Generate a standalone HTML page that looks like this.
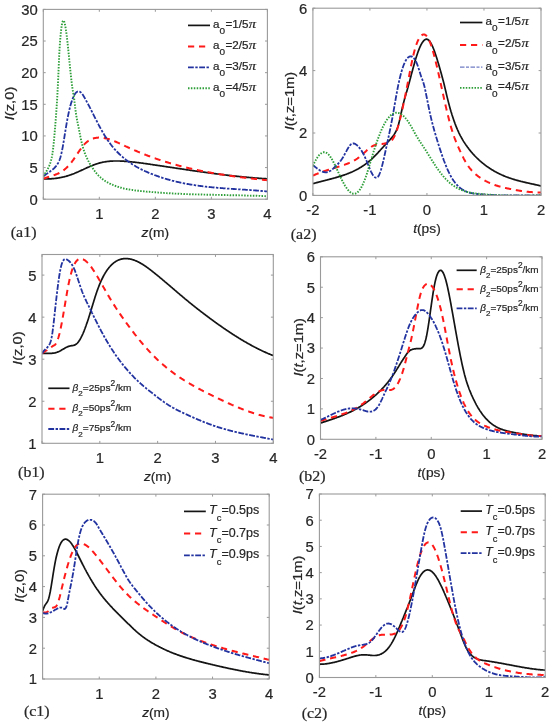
<!DOCTYPE html>
<html><head><meta charset="utf-8"><title>figure</title>
<style>html,body{margin:0;padding:0;background:#fff;width:550px;height:727px;overflow:hidden}</style>
</head><body>
<svg width="550" height="727" viewBox="0 0 550 727" style="display:block;filter:blur(0.35px)">
<rect width="550" height="727" fill="#fff"/>
<clipPath id="clip_a1"><rect x="43.30" y="8.40" width="224.10" height="190.80"/></clipPath>
<g clip-path="url(#clip_a1)">
<path d="M43.3,178.9 43.8,179.0 44.3,179.0 44.8,179.0 45.3,179.0 45.8,179.0 46.3,179.0 46.8,179.0 47.3,179.0 47.8,178.9 48.3,178.9 48.8,178.9 49.3,178.9 49.8,178.9 50.3,178.8 50.8,178.8 51.3,178.8 51.8,178.7 52.3,178.7 52.8,178.7 53.3,178.6 53.8,178.6 54.3,178.5 54.8,178.5 55.3,178.4 55.8,178.3 56.3,178.3 56.8,178.2 57.3,178.1 57.8,178.1 58.3,178.0 58.8,177.9 59.3,177.8 59.8,177.7 60.3,177.6 60.8,177.5 61.3,177.4 61.8,177.3 62.3,177.2 62.8,177.1 63.3,177.0 63.8,176.9 64.3,176.8 64.8,176.6 65.3,176.5 65.8,176.4 66.3,176.2 66.8,176.1 67.3,175.9 67.8,175.8 68.3,175.6 68.8,175.5 69.3,175.3 69.8,175.1 70.3,175.0 70.8,174.8 71.3,174.6 71.8,174.4 72.3,174.2 72.8,174.0 73.3,173.9 73.8,173.7 74.3,173.5 74.8,173.2 75.3,173.0 75.8,172.8 76.3,172.6 76.8,172.4 77.3,172.2 77.8,172.0 78.3,171.7 78.8,171.5 79.3,171.3 79.8,171.1 80.3,170.8 80.8,170.6 81.3,170.4 81.8,170.1 82.3,169.9 82.8,169.7 83.3,169.5 83.8,169.2 84.3,169.0 84.8,168.8 85.3,168.5 85.8,168.3 86.3,168.1 86.8,167.8 87.3,167.6 87.8,167.4 88.3,167.2 88.8,167.0 89.3,166.7 89.8,166.5 90.3,166.3 90.8,166.1 91.3,165.9 91.8,165.7 92.3,165.5 92.8,165.3 93.3,165.1 93.8,164.9 94.3,164.7 94.8,164.5 95.3,164.3 95.8,164.2 96.3,164.0 96.8,163.8 97.3,163.7 97.8,163.5 98.3,163.4 98.8,163.2 99.3,163.1 99.8,162.9 100.3,162.8 100.8,162.7 101.3,162.6 101.8,162.5 102.3,162.3 102.8,162.2 103.3,162.1 103.8,162.0 104.3,162.0 104.8,161.9 105.3,161.8 105.8,161.7 106.3,161.6 106.8,161.6 107.3,161.5 107.8,161.4 108.3,161.4 108.8,161.3 109.3,161.3 109.8,161.2 110.3,161.2 110.8,161.2 111.3,161.1 111.8,161.1 112.3,161.1 112.8,161.1 113.3,161.0 113.8,161.0 114.3,161.0 114.8,161.0 115.3,161.0 115.8,161.0 116.3,161.0 116.8,161.0 117.3,161.0 117.8,161.0 118.3,161.0 118.8,161.0 119.3,161.0 119.8,161.0 120.3,161.1 120.8,161.1 121.3,161.1 121.8,161.1 122.3,161.1 122.8,161.2 123.3,161.2 123.8,161.2 124.3,161.3 124.8,161.3 125.3,161.3 125.8,161.4 126.3,161.4 126.8,161.5 127.3,161.5 127.8,161.5 128.3,161.6 128.8,161.6 129.3,161.7 129.8,161.7 130.3,161.8 130.8,161.8 131.3,161.9 131.8,161.9 132.3,162.0 132.8,162.0 133.3,162.1 133.8,162.1 134.3,162.2 134.8,162.2 135.3,162.3 135.8,162.4 136.3,162.4 136.8,162.5 137.3,162.5 137.8,162.6 138.3,162.7 138.8,162.7 139.3,162.8 139.8,162.8 140.3,162.9 140.8,163.0 141.3,163.0 141.8,163.1 142.3,163.2 142.8,163.2 143.3,163.3 143.8,163.4 144.3,163.5 144.8,163.5 145.3,163.6 145.8,163.7 146.3,163.7 146.8,163.8 147.3,163.9 147.8,163.9 148.3,164.0 148.8,164.1 149.3,164.2 149.8,164.2 150.3,164.3 150.8,164.4 151.3,164.5 151.8,164.5 152.3,164.6 152.8,164.7 153.3,164.8 153.8,164.8 154.3,164.9 154.8,165.0 155.3,165.1 155.8,165.1 156.3,165.2 156.8,165.3 157.3,165.4 157.8,165.4 158.3,165.5 158.8,165.6 159.3,165.6 159.8,165.7 160.3,165.8 160.8,165.9 161.3,165.9 161.8,166.0 162.3,166.1 162.8,166.2 163.3,166.2 163.8,166.3 164.3,166.4 164.8,166.5 165.3,166.5 165.8,166.6 166.3,166.7 166.8,166.8 167.3,166.8 167.8,166.9 168.3,167.0 168.8,167.1 169.3,167.1 169.8,167.2 170.3,167.3 170.8,167.4 171.3,167.4 171.8,167.5 172.3,167.6 172.8,167.7 173.3,167.7 173.8,167.8 174.3,167.9 174.8,168.0 175.3,168.0 175.8,168.1 176.3,168.2 176.8,168.3 177.3,168.3 177.8,168.4 178.3,168.5 178.8,168.6 179.3,168.6 179.8,168.7 180.3,168.8 180.8,168.9 181.3,168.9 181.8,169.0 182.3,169.1 182.8,169.2 183.3,169.2 183.8,169.3 184.3,169.4 184.8,169.5 185.3,169.5 185.8,169.6 186.3,169.7 186.8,169.8 187.3,169.8 187.8,169.9 188.3,170.0 188.8,170.0 189.3,170.1 189.8,170.2 190.3,170.3 190.8,170.3 191.3,170.4 191.8,170.5 192.3,170.6 192.8,170.6 193.3,170.7 193.8,170.8 194.3,170.8 194.8,170.9 195.3,171.0 195.8,171.1 196.3,171.1 196.8,171.2 197.3,171.3 197.8,171.3 198.3,171.4 198.8,171.5 199.3,171.5 199.8,171.6 200.3,171.7 200.8,171.8 201.3,171.8 201.8,171.9 202.3,172.0 202.8,172.0 203.3,172.1 203.8,172.2 204.3,172.2 204.8,172.3 205.3,172.4 205.8,172.4 206.3,172.5 206.8,172.6 207.3,172.7 207.8,172.7 208.3,172.8 208.8,172.9 209.3,172.9 209.8,173.0 210.3,173.1 210.8,173.1 211.3,173.2 211.8,173.3 212.3,173.3 212.8,173.4 213.3,173.5 213.8,173.5 214.3,173.6 214.8,173.6 215.3,173.7 215.8,173.8 216.3,173.8 216.8,173.9 217.3,174.0 217.8,174.0 218.3,174.1 218.8,174.2 219.3,174.2 219.8,174.3 220.3,174.3 220.8,174.4 221.3,174.5 221.8,174.5 222.3,174.6 222.8,174.7 223.3,174.7 223.8,174.8 224.3,174.8 224.8,174.9 225.3,175.0 225.8,175.0 226.3,175.1 226.8,175.1 227.3,175.2 227.8,175.3 228.3,175.3 228.8,175.4 229.3,175.4 229.8,175.5 230.3,175.5 230.8,175.6 231.3,175.7 231.8,175.7 232.3,175.8 232.8,175.8 233.3,175.9 233.8,175.9 234.3,176.0 234.8,176.0 235.3,176.1 235.8,176.2 236.3,176.2 236.8,176.3 237.3,176.3 237.8,176.4 238.3,176.4 238.8,176.5 239.3,176.5 239.8,176.6 240.3,176.6 240.8,176.7 241.3,176.7 241.8,176.8 242.3,176.8 242.8,176.9 243.3,176.9 243.8,177.0 244.3,177.0 244.8,177.1 245.3,177.1 245.8,177.2 246.3,177.2 246.8,177.3 247.3,177.3 247.8,177.3 248.3,177.4 248.8,177.4 249.3,177.5 249.8,177.5 250.3,177.6 250.8,177.6 251.3,177.7 251.8,177.7 252.3,177.7 252.8,177.8 253.3,177.8 253.8,177.9 254.3,177.9 254.8,178.0 255.3,178.0 255.8,178.0 256.3,178.1 256.8,178.1 257.3,178.2 257.8,178.2 258.3,178.2 258.8,178.3 259.3,178.3 259.8,178.3 260.3,178.4 260.8,178.4 261.3,178.4 261.8,178.5 262.3,178.5 262.8,178.5 263.3,178.6 263.8,178.6 264.3,178.6 264.8,178.7 265.3,178.7 265.8,178.7 266.3,178.8 266.8,178.8 267.3,178.8 267.4,178.8" fill="none" stroke="#141414" stroke-width="1.70" stroke-linejoin="round"/>
<path d="M43.3,178.9 43.8,178.7 44.3,178.5 44.8,178.2 45.3,178.0 45.8,177.8 46.3,177.6 46.8,177.4 47.3,177.3 47.8,177.1 48.3,176.9 48.8,176.8 49.3,176.6 49.8,176.5 50.3,176.3 50.8,176.2 51.3,176.0 51.8,175.8 52.3,175.7 52.8,175.5 53.3,175.4 53.8,175.2 54.3,175.1 54.8,174.9 55.3,174.7 55.8,174.5 56.3,174.3 56.8,174.1 57.3,173.9 57.8,173.7 58.3,173.5 58.8,173.2 59.3,173.0 59.8,172.7 60.3,172.4 60.8,172.1 61.3,171.8 61.8,171.5 62.3,171.2 62.8,170.8 63.3,170.5 63.8,170.1 64.3,169.7 64.8,169.3 65.3,168.9 65.8,168.4 66.3,168.0 66.8,167.5 67.3,167.0 67.8,166.5 68.3,166.0 68.8,165.5 69.3,164.9 69.8,164.3 70.3,163.7 70.8,163.1 71.3,162.5 71.8,161.9 72.3,161.2 72.8,160.5 73.3,159.8 73.8,159.1 74.3,158.4 74.8,157.6 75.3,156.9 75.8,156.1 76.3,155.4 76.8,154.7 77.3,153.9 77.8,153.2 78.3,152.4 78.8,151.7 79.3,150.9 79.8,150.2 80.3,149.5 80.8,148.8 81.3,148.1 81.8,147.5 82.3,146.8 82.8,146.2 83.3,145.6 83.8,145.0 84.3,144.4 84.8,143.9 85.3,143.4 85.8,142.9 86.3,142.5 86.8,142.0 87.3,141.6 87.8,141.3 88.3,140.9 88.8,140.6 89.3,140.2 89.8,140.0 90.3,139.7 90.8,139.4 91.3,139.2 91.8,139.0 92.3,138.8 92.8,138.6 93.3,138.5 93.8,138.3 94.3,138.2 94.8,138.1 95.3,138.0 95.8,137.9 96.3,137.8 96.8,137.8 97.3,137.7 97.8,137.7 98.3,137.6 98.8,137.6 99.3,137.6 99.8,137.6 100.3,137.6 100.8,137.7 101.3,137.7 101.8,137.7 102.3,137.8 102.8,137.9 103.3,137.9 103.8,138.0 104.3,138.1 104.8,138.2 105.3,138.3 105.8,138.4 106.3,138.5 106.8,138.6 107.3,138.8 107.8,138.9 108.3,139.0 108.8,139.2 109.3,139.3 109.8,139.5 110.3,139.7 110.8,139.8 111.3,140.0 111.8,140.2 112.3,140.4 112.8,140.6 113.3,140.7 113.8,140.9 114.3,141.1 114.8,141.3 115.3,141.6 115.8,141.8 116.3,142.0 116.8,142.2 117.3,142.4 117.8,142.6 118.3,142.9 118.8,143.1 119.3,143.3 119.8,143.6 120.3,143.8 120.8,144.0 121.3,144.2 121.8,144.5 122.3,144.7 122.8,145.0 123.3,145.2 123.8,145.4 124.3,145.7 124.8,145.9 125.3,146.1 125.8,146.4 126.3,146.6 126.8,146.8 127.3,147.0 127.8,147.3 128.3,147.5 128.8,147.7 129.3,148.0 129.8,148.2 130.3,148.4 130.8,148.6 131.3,148.9 131.8,149.1 132.3,149.3 132.8,149.5 133.3,149.7 133.8,150.0 134.3,150.2 134.8,150.4 135.3,150.6 135.8,150.8 136.3,151.0 136.8,151.2 137.3,151.4 137.8,151.7 138.3,151.9 138.8,152.1 139.3,152.3 139.8,152.5 140.3,152.7 140.8,152.9 141.3,153.1 141.8,153.3 142.3,153.5 142.8,153.7 143.3,153.9 143.8,154.1 144.3,154.3 144.8,154.5 145.3,154.7 145.8,154.9 146.3,155.1 146.8,155.3 147.3,155.5 147.8,155.7 148.3,155.9 148.8,156.0 149.3,156.2 149.8,156.4 150.3,156.6 150.8,156.8 151.3,157.0 151.8,157.2 152.3,157.3 152.8,157.5 153.3,157.7 153.8,157.9 154.3,158.1 154.8,158.2 155.3,158.4 155.8,158.6 156.3,158.8 156.8,158.9 157.3,159.1 157.8,159.3 158.3,159.4 158.8,159.6 159.3,159.8 159.8,159.9 160.3,160.1 160.8,160.3 161.3,160.4 161.8,160.6 162.3,160.8 162.8,160.9 163.3,161.1 163.8,161.2 164.3,161.4 164.8,161.6 165.3,161.7 165.8,161.9 166.3,162.0 166.8,162.2 167.3,162.3 167.8,162.5 168.3,162.6 168.8,162.8 169.3,162.9 169.8,163.1 170.3,163.2 170.8,163.4 171.3,163.5 171.8,163.7 172.3,163.8 172.8,164.0 173.3,164.1 173.8,164.3 174.3,164.4 174.8,164.5 175.3,164.7 175.8,164.8 176.3,165.0 176.8,165.1 177.3,165.2 177.8,165.4 178.3,165.5 178.8,165.6 179.3,165.8 179.8,165.9 180.3,166.0 180.8,166.2 181.3,166.3 181.8,166.4 182.3,166.5 182.8,166.7 183.3,166.8 183.8,166.9 184.3,167.0 184.8,167.2 185.3,167.3 185.8,167.4 186.3,167.5 186.8,167.7 187.3,167.8 187.8,167.9 188.3,168.0 188.8,168.1 189.3,168.3 189.8,168.4 190.3,168.5 190.8,168.6 191.3,168.7 191.8,168.8 192.3,168.9 192.8,169.1 193.3,169.2 193.8,169.3 194.3,169.4 194.8,169.5 195.3,169.6 195.8,169.7 196.3,169.8 196.8,169.9 197.3,170.0 197.8,170.1 198.3,170.3 198.8,170.4 199.3,170.5 199.8,170.6 200.3,170.7 200.8,170.8 201.3,170.9 201.8,171.0 202.3,171.1 202.8,171.2 203.3,171.3 203.8,171.4 204.3,171.5 204.8,171.6 205.3,171.7 205.8,171.8 206.3,171.9 206.8,171.9 207.3,172.0 207.8,172.1 208.3,172.2 208.8,172.3 209.3,172.4 209.8,172.5 210.3,172.6 210.8,172.7 211.3,172.8 211.8,172.9 212.3,173.0 212.8,173.0 213.3,173.1 213.8,173.2 214.3,173.3 214.8,173.4 215.3,173.5 215.8,173.6 216.3,173.6 216.8,173.7 217.3,173.8 217.8,173.9 218.3,174.0 218.8,174.1 219.3,174.1 219.8,174.2 220.3,174.3 220.8,174.4 221.3,174.5 221.8,174.5 222.3,174.6 222.8,174.7 223.3,174.8 223.8,174.8 224.3,174.9 224.8,175.0 225.3,175.1 225.8,175.1 226.3,175.2 226.8,175.3 227.3,175.4 227.8,175.4 228.3,175.5 228.8,175.6 229.3,175.7 229.8,175.7 230.3,175.8 230.8,175.9 231.3,175.9 231.8,176.0 232.3,176.1 232.8,176.2 233.3,176.2 233.8,176.3 234.3,176.4 234.8,176.4 235.3,176.5 235.8,176.6 236.3,176.6 236.8,176.7 237.3,176.8 237.8,176.8 238.3,176.9 238.8,177.0 239.3,177.0 239.8,177.1 240.3,177.2 240.8,177.2 241.3,177.3 241.8,177.3 242.3,177.4 242.8,177.5 243.3,177.5 243.8,177.6 244.3,177.7 244.8,177.7 245.3,177.8 245.8,177.8 246.3,177.9 246.8,178.0 247.3,178.0 247.8,178.1 248.3,178.1 248.8,178.2 249.3,178.3 249.8,178.3 250.3,178.4 250.8,178.4 251.3,178.5 251.8,178.6 252.3,178.6 252.8,178.7 253.3,178.7 253.8,178.8 254.3,178.8 254.8,178.9 255.3,178.9 255.8,179.0 256.3,179.1 256.8,179.1 257.3,179.2 257.8,179.2 258.3,179.3 258.8,179.3 259.3,179.4 259.8,179.4 260.3,179.5 260.8,179.6 261.3,179.6 261.8,179.7 262.3,179.7 262.8,179.8 263.3,179.8 263.8,179.9 264.3,179.9 264.8,180.0 265.3,180.0 265.8,180.1 266.3,180.1 266.8,180.2 267.3,180.2 267.4,180.3" fill="none" stroke="#ff1a1a" stroke-width="2.00" stroke-dasharray="6.2 4.8" stroke-linejoin="round"/>
<path d="M43.3,176.2 43.8,175.9 44.3,175.5 44.8,175.2 45.3,174.8 45.8,174.5 46.3,174.1 46.8,173.8 47.3,173.4 47.8,173.1 48.3,172.7 48.8,172.4 49.3,172.0 49.8,171.7 50.3,171.3 50.8,170.9 51.3,170.6 51.8,170.2 52.3,169.8 52.8,169.4 53.3,169.0 53.8,168.5 54.3,168.1 54.8,167.5 55.3,167.0 55.8,166.4 56.3,165.8 56.8,165.1 57.3,164.4 57.8,163.6 58.3,162.7 58.8,161.7 59.3,160.5 59.8,159.2 60.3,157.7 60.8,155.9 61.3,153.9 61.8,151.6 62.3,149.2 62.8,146.6 63.3,143.7 63.8,140.8 64.3,137.7 64.8,134.5 65.3,131.4 65.8,128.3 66.3,125.3 66.8,122.4 67.3,119.7 67.8,117.1 68.3,114.6 68.8,112.3 69.3,110.1 69.8,108.0 70.3,106.1 70.8,104.3 71.3,102.6 71.8,101.1 72.3,99.6 72.8,98.3 73.3,97.1 73.8,96.0 74.3,95.1 74.8,94.2 75.3,93.5 75.8,92.9 76.3,92.4 76.8,92.0 77.3,91.7 77.8,91.5 78.3,91.4 78.8,91.4 79.3,91.5 79.8,91.7 80.3,92.0 80.8,92.4 81.3,92.9 81.8,93.5 82.3,94.1 82.8,94.8 83.3,95.6 83.8,96.4 84.3,97.2 84.8,98.1 85.3,99.0 85.8,100.0 86.3,100.9 86.8,101.8 87.3,102.8 87.8,103.7 88.3,104.6 88.8,105.5 89.3,106.4 89.8,107.4 90.3,108.3 90.8,109.3 91.3,110.3 91.8,111.3 92.3,112.3 92.8,113.3 93.3,114.3 93.8,115.3 94.3,116.3 94.8,117.3 95.3,118.3 95.8,119.3 96.3,120.3 96.8,121.2 97.3,122.2 97.8,123.2 98.3,124.1 98.8,125.1 99.3,126.0 99.8,127.0 100.3,127.9 100.8,128.8 101.3,129.7 101.8,130.6 102.3,131.5 102.8,132.4 103.3,133.2 103.8,134.1 104.3,134.9 104.8,135.7 105.3,136.5 105.8,137.3 106.3,138.1 106.8,138.9 107.3,139.6 107.8,140.4 108.3,141.1 108.8,141.8 109.3,142.5 109.8,143.2 110.3,143.8 110.8,144.5 111.3,145.1 111.8,145.8 112.3,146.4 112.8,147.0 113.3,147.6 113.8,148.2 114.3,148.8 114.8,149.3 115.3,149.9 115.8,150.4 116.3,151.0 116.8,151.5 117.3,152.0 117.8,152.5 118.3,153.0 118.8,153.5 119.3,154.0 119.8,154.5 120.3,154.9 120.8,155.4 121.3,155.8 121.8,156.3 122.3,156.7 122.8,157.2 123.3,157.6 123.8,158.0 124.3,158.4 124.8,158.9 125.3,159.3 125.8,159.7 126.3,160.0 126.8,160.4 127.3,160.8 127.8,161.2 128.3,161.5 128.8,161.9 129.3,162.3 129.8,162.6 130.3,163.0 130.8,163.3 131.3,163.6 131.8,164.0 132.3,164.3 132.8,164.6 133.3,164.9 133.8,165.2 134.3,165.5 134.8,165.8 135.3,166.1 135.8,166.4 136.3,166.7 136.8,167.0 137.3,167.3 137.8,167.5 138.3,167.8 138.8,168.1 139.3,168.3 139.8,168.6 140.3,168.9 140.8,169.1 141.3,169.4 141.8,169.6 142.3,169.9 142.8,170.1 143.3,170.3 143.8,170.6 144.3,170.8 144.8,171.0 145.3,171.3 145.8,171.5 146.3,171.7 146.8,171.9 147.3,172.1 147.8,172.4 148.3,172.6 148.8,172.8 149.3,173.0 149.8,173.2 150.3,173.4 150.8,173.6 151.3,173.8 151.8,174.0 152.3,174.2 152.8,174.4 153.3,174.6 153.8,174.8 154.3,175.0 154.8,175.2 155.3,175.3 155.8,175.5 156.3,175.7 156.8,175.9 157.3,176.1 157.8,176.2 158.3,176.4 158.8,176.6 159.3,176.8 159.8,176.9 160.3,177.1 160.8,177.3 161.3,177.4 161.8,177.6 162.3,177.8 162.8,177.9 163.3,178.1 163.8,178.2 164.3,178.4 164.8,178.5 165.3,178.7 165.8,178.8 166.3,179.0 166.8,179.1 167.3,179.3 167.8,179.4 168.3,179.6 168.8,179.7 169.3,179.9 169.8,180.0 170.3,180.1 170.8,180.3 171.3,180.4 171.8,180.5 172.3,180.7 172.8,180.8 173.3,180.9 173.8,181.0 174.3,181.2 174.8,181.3 175.3,181.4 175.8,181.5 176.3,181.7 176.8,181.8 177.3,181.9 177.8,182.0 178.3,182.1 178.8,182.2 179.3,182.3 179.8,182.4 180.3,182.6 180.8,182.7 181.3,182.8 181.8,182.9 182.3,183.0 182.8,183.1 183.3,183.2 183.8,183.3 184.3,183.4 184.8,183.5 185.3,183.6 185.8,183.7 186.3,183.8 186.8,183.9 187.3,184.0 187.8,184.0 188.3,184.1 188.8,184.2 189.3,184.3 189.8,184.4 190.3,184.5 190.8,184.6 191.3,184.6 191.8,184.7 192.3,184.8 192.8,184.9 193.3,185.0 193.8,185.0 194.3,185.1 194.8,185.2 195.3,185.3 195.8,185.3 196.3,185.4 196.8,185.5 197.3,185.6 197.8,185.6 198.3,185.7 198.8,185.8 199.3,185.8 199.8,185.9 200.3,186.0 200.8,186.0 201.3,186.1 201.8,186.2 202.3,186.2 202.8,186.3 203.3,186.4 203.8,186.4 204.3,186.5 204.8,186.5 205.3,186.6 205.8,186.6 206.3,186.7 206.8,186.8 207.3,186.8 207.8,186.9 208.3,186.9 208.8,187.0 209.3,187.0 209.8,187.1 210.3,187.1 210.8,187.2 211.3,187.2 211.8,187.3 212.3,187.3 212.8,187.4 213.3,187.4 213.8,187.5 214.3,187.5 214.8,187.6 215.3,187.6 215.8,187.7 216.3,187.7 216.8,187.7 217.3,187.8 217.8,187.8 218.3,187.9 218.8,187.9 219.3,188.0 219.8,188.0 220.3,188.0 220.8,188.1 221.3,188.1 221.8,188.2 222.3,188.2 222.8,188.2 223.3,188.3 223.8,188.3 224.3,188.3 224.8,188.4 225.3,188.4 225.8,188.5 226.3,188.5 226.8,188.5 227.3,188.6 227.8,188.6 228.3,188.6 228.8,188.7 229.3,188.7 229.8,188.7 230.3,188.8 230.8,188.8 231.3,188.8 231.8,188.9 232.3,188.9 232.8,188.9 233.3,189.0 233.8,189.0 234.3,189.0 234.8,189.1 235.3,189.1 235.8,189.1 236.3,189.2 236.8,189.2 237.3,189.2 237.8,189.3 238.3,189.3 238.8,189.3 239.3,189.4 239.8,189.4 240.3,189.4 240.8,189.5 241.3,189.5 241.8,189.5 242.3,189.6 242.8,189.6 243.3,189.6 243.8,189.6 244.3,189.7 244.8,189.7 245.3,189.7 245.8,189.8 246.3,189.8 246.8,189.8 247.3,189.9 247.8,189.9 248.3,189.9 248.8,190.0 249.3,190.0 249.8,190.0 250.3,190.1 250.8,190.1 251.3,190.2 251.8,190.2 252.3,190.2 252.8,190.3 253.3,190.3 253.8,190.3 254.3,190.4 254.8,190.4 255.3,190.4 255.8,190.5 256.3,190.5 256.8,190.6 257.3,190.6 257.8,190.6 258.3,190.7 258.8,190.7 259.3,190.7 259.8,190.8 260.3,190.8 260.8,190.9 261.3,190.9 261.8,191.0 262.3,191.0 262.8,191.0 263.3,191.1 263.8,191.1 264.3,191.2 264.8,191.2 265.3,191.3 265.8,191.3 266.3,191.4 266.8,191.4 267.3,191.4 267.4,191.5" fill="none" stroke="#2233a0" stroke-width="1.80" stroke-dasharray="5.8 1.5 2.4 1.5" stroke-linejoin="round"/>
<path d="M43.3,176.4 43.8,175.4 44.3,174.6 44.8,173.7 45.3,173.0 45.8,172.2 46.3,171.4 46.8,170.6 47.3,169.7 47.8,168.8 48.3,167.8 48.8,166.8 49.3,165.6 49.8,164.3 50.3,162.9 50.8,161.3 51.3,159.4 51.8,157.2 52.3,154.5 52.8,151.1 53.3,147.1 53.8,142.3 54.3,136.9 54.8,131.1 55.3,125.0 55.8,118.6 56.3,111.8 56.8,104.4 57.3,96.2 57.8,86.8 58.3,76.4 58.8,64.7 59.3,53.5 59.8,45.0 60.3,38.6 60.8,33.1 61.3,28.6 61.8,25.1 62.3,22.6 62.8,21.1 63.3,20.5 63.8,20.8 64.3,21.8 64.8,23.6 65.3,26.0 65.8,29.0 66.3,32.4 66.8,36.3 67.3,40.6 67.8,45.2 68.3,50.0 68.8,54.9 69.3,59.9 69.8,65.0 70.3,69.9 70.8,74.8 71.3,79.4 71.8,83.6 72.3,87.4 72.8,90.6 73.3,93.4 73.8,96.4 74.3,99.9 74.8,104.1 75.3,108.5 75.8,112.4 76.3,115.7 76.8,118.6 77.3,121.1 77.8,123.6 78.3,126.0 78.8,128.5 79.3,131.1 79.8,133.7 80.3,136.2 80.8,138.7 81.3,141.0 81.8,143.1 82.3,145.1 82.8,147.0 83.3,148.7 83.8,150.3 84.3,151.8 84.8,153.2 85.3,154.5 85.8,155.7 86.3,156.8 86.8,157.9 87.3,158.9 87.8,159.9 88.3,160.9 88.8,161.8 89.3,162.7 89.8,163.6 90.3,164.5 90.8,165.3 91.3,166.1 91.8,166.9 92.3,167.7 92.8,168.4 93.3,169.1 93.8,169.9 94.3,170.5 94.8,171.2 95.3,171.9 95.8,172.5 96.3,173.1 96.8,173.7 97.3,174.2 97.8,174.8 98.3,175.3 98.8,175.8 99.3,176.3 99.8,176.8 100.3,177.2 100.8,177.7 101.3,178.1 101.8,178.5 102.3,178.9 102.8,179.3 103.3,179.7 103.8,180.0 104.3,180.4 104.8,180.7 105.3,181.1 105.8,181.4 106.3,181.7 106.8,182.0 107.3,182.3 107.8,182.5 108.3,182.8 108.8,183.1 109.3,183.3 109.8,183.6 110.3,183.8 110.8,184.0 111.3,184.3 111.8,184.5 112.3,184.7 112.8,184.9 113.3,185.1 113.8,185.3 114.3,185.5 114.8,185.7 115.3,185.9 115.8,186.1 116.3,186.3 116.8,186.5 117.3,186.6 117.8,186.8 118.3,186.9 118.8,187.1 119.3,187.3 119.8,187.4 120.3,187.5 120.8,187.7 121.3,187.8 121.8,188.0 122.3,188.1 122.8,188.2 123.3,188.3 123.8,188.5 124.3,188.6 124.8,188.7 125.3,188.8 125.8,188.9 126.3,189.0 126.8,189.1 127.3,189.2 127.8,189.3 128.3,189.4 128.8,189.5 129.3,189.5 129.8,189.6 130.3,189.7 130.8,189.8 131.3,189.9 131.8,189.9 132.3,190.0 132.8,190.1 133.3,190.2 133.8,190.2 134.3,190.3 134.8,190.4 135.3,190.4 135.8,190.5 136.3,190.5 136.8,190.6 137.3,190.7 137.8,190.7 138.3,190.8 138.8,190.8 139.3,190.9 139.8,190.9 140.3,191.0 140.8,191.0 141.3,191.1 141.8,191.1 142.3,191.2 142.8,191.2 143.3,191.3 143.8,191.3 144.3,191.4 144.8,191.4 145.3,191.5 145.8,191.5 146.3,191.6 146.8,191.6 147.3,191.7 147.8,191.7 148.3,191.8 148.8,191.8 149.3,191.8 149.8,191.9 150.3,191.9 150.8,192.0 151.3,192.0 151.8,192.1 152.3,192.1 152.8,192.1 153.3,192.2 153.8,192.2 154.3,192.3 154.8,192.3 155.3,192.3 155.8,192.4 156.3,192.4 156.8,192.5 157.3,192.5 157.8,192.5 158.3,192.6 158.8,192.6 159.3,192.6 159.8,192.7 160.3,192.7 160.8,192.7 161.3,192.8 161.8,192.8 162.3,192.8 162.8,192.9 163.3,192.9 163.8,192.9 164.3,193.0 164.8,193.0 165.3,193.0 165.8,193.1 166.3,193.1 166.8,193.1 167.3,193.2 167.8,193.2 168.3,193.2 168.8,193.2 169.3,193.3 169.8,193.3 170.3,193.3 170.8,193.4 171.3,193.4 171.8,193.4 172.3,193.4 172.8,193.5 173.3,193.5 173.8,193.5 174.3,193.5 174.8,193.6 175.3,193.6 175.8,193.6 176.3,193.6 176.8,193.7 177.3,193.7 177.8,193.7 178.3,193.7 178.8,193.7 179.3,193.8 179.8,193.8 180.3,193.8 180.8,193.8 181.3,193.9 181.8,193.9 182.3,193.9 182.8,193.9 183.3,193.9 183.8,194.0 184.3,194.0 184.8,194.0 185.3,194.0 185.8,194.0 186.3,194.1 186.8,194.1 187.3,194.1 187.8,194.1 188.3,194.1 188.8,194.1 189.3,194.2 189.8,194.2 190.3,194.2 190.8,194.2 191.3,194.2 191.8,194.2 192.3,194.3 192.8,194.3 193.3,194.3 193.8,194.3 194.3,194.3 194.8,194.3 195.3,194.4 195.8,194.4 196.3,194.4 196.8,194.4 197.3,194.4 197.8,194.4 198.3,194.4 198.8,194.5 199.3,194.5 199.8,194.5 200.3,194.5 200.8,194.5 201.3,194.5 201.8,194.5 202.3,194.6 202.8,194.6 203.3,194.6 203.8,194.6 204.3,194.6 204.8,194.6 205.3,194.6 205.8,194.6 206.3,194.7 206.8,194.7 207.3,194.7 207.8,194.7 208.3,194.7 208.8,194.7 209.3,194.7 209.8,194.7 210.3,194.7 210.8,194.8 211.3,194.8 211.8,194.8 212.3,194.8 212.8,194.8 213.3,194.8 213.8,194.8 214.3,194.8 214.8,194.8 215.3,194.9 215.8,194.9 216.3,194.9 216.8,194.9 217.3,194.9 217.8,194.9 218.3,194.9 218.8,194.9 219.3,194.9 219.8,194.9 220.3,195.0 220.8,195.0 221.3,195.0 221.8,195.0 222.3,195.0 222.8,195.0 223.3,195.0 223.8,195.0 224.3,195.0 224.8,195.0 225.3,195.1 225.8,195.1 226.3,195.1 226.8,195.1 227.3,195.1 227.8,195.1 228.3,195.1 228.8,195.1 229.3,195.1 229.8,195.2 230.3,195.2 230.8,195.2 231.3,195.2 231.8,195.2 232.3,195.2 232.8,195.2 233.3,195.2 233.8,195.2 234.3,195.2 234.8,195.3 235.3,195.3 235.8,195.3 236.3,195.3 236.8,195.3 237.3,195.3 237.8,195.3 238.3,195.3 238.8,195.3 239.3,195.4 239.8,195.4 240.3,195.4 240.8,195.4 241.3,195.4 241.8,195.4 242.3,195.4 242.8,195.4 243.3,195.5 243.8,195.5 244.3,195.5 244.8,195.5 245.3,195.5 245.8,195.5 246.3,195.5 246.8,195.5 247.3,195.6 247.8,195.6 248.3,195.6 248.8,195.6 249.3,195.6 249.8,195.6 250.3,195.6 250.8,195.7 251.3,195.7 251.8,195.7 252.3,195.7 252.8,195.7 253.3,195.7 253.8,195.7 254.3,195.8 254.8,195.8 255.3,195.8 255.8,195.8 256.3,195.8 256.8,195.8 257.3,195.9 257.8,195.9 258.3,195.9 258.8,195.9 259.3,195.9 259.8,195.9 260.3,196.0 260.8,196.0 261.3,196.0 261.8,196.0 262.3,196.0 262.8,196.1 263.3,196.1 263.8,196.1 264.3,196.1 264.8,196.1 265.3,196.1 265.8,196.2 266.3,196.2 266.8,196.2 267.3,196.2 267.4,196.2" fill="none" stroke="#2f9f3a" stroke-width="1.90" stroke-dasharray="1.5 1.4" stroke-linejoin="round"/>
</g>
<rect x="43.30" y="9.40" width="224.10" height="189.80" fill="none" stroke="#9a9a9a" stroke-width="1.1"/>
<path d="M43.30,199.20v-2.40M43.30,9.40v2.40" stroke="#9a9a9a" stroke-width="1"/>
<path d="M99.32,199.20v-2.40M99.32,9.40v2.40" stroke="#9a9a9a" stroke-width="1"/>
<path d="M155.35,199.20v-2.40M155.35,9.40v2.40" stroke="#9a9a9a" stroke-width="1"/>
<path d="M211.38,199.20v-2.40M211.38,9.40v2.40" stroke="#9a9a9a" stroke-width="1"/>
<path d="M267.40,199.20v-2.40M267.40,9.40v2.40" stroke="#9a9a9a" stroke-width="1"/>
<path d="M43.30,199.20h2.40M267.40,199.20h-2.40" stroke="#9a9a9a" stroke-width="1"/>
<path d="M43.30,167.57h2.40M267.40,167.57h-2.40" stroke="#9a9a9a" stroke-width="1"/>
<path d="M43.30,135.93h2.40M267.40,135.93h-2.40" stroke="#9a9a9a" stroke-width="1"/>
<path d="M43.30,104.30h2.40M267.40,104.30h-2.40" stroke="#9a9a9a" stroke-width="1"/>
<path d="M43.30,72.67h2.40M267.40,72.67h-2.40" stroke="#9a9a9a" stroke-width="1"/>
<path d="M43.30,41.03h2.40M267.40,41.03h-2.40" stroke="#9a9a9a" stroke-width="1"/>
<path d="M43.30,9.40h2.40M267.40,9.40h-2.40" stroke="#9a9a9a" stroke-width="1"/>
<text transform="translate(99.32,218.80) scale(1.060,1)" font-size="14.00" text-anchor="middle" font-family="Liberation Sans" fill="#262626" stroke="#262626" stroke-width="0.20" >1</text>
<text transform="translate(155.35,218.80) scale(1.060,1)" font-size="14.00" text-anchor="middle" font-family="Liberation Sans" fill="#262626" stroke="#262626" stroke-width="0.20" >2</text>
<text transform="translate(211.38,218.80) scale(1.060,1)" font-size="14.00" text-anchor="middle" font-family="Liberation Sans" fill="#262626" stroke="#262626" stroke-width="0.20" >3</text>
<text transform="translate(267.40,218.80) scale(1.060,1)" font-size="14.00" text-anchor="middle" font-family="Liberation Sans" fill="#262626" stroke="#262626" stroke-width="0.20" >4</text>
<text transform="translate(37.70,204.60) scale(1.060,1)" font-size="14.00" text-anchor="end" font-family="Liberation Sans" fill="#262626" stroke="#262626" stroke-width="0.20" >0</text>
<text transform="translate(37.70,172.97) scale(1.060,1)" font-size="14.00" text-anchor="end" font-family="Liberation Sans" fill="#262626" stroke="#262626" stroke-width="0.20" >5</text>
<text transform="translate(37.70,141.33) scale(1.060,1)" font-size="14.00" text-anchor="end" font-family="Liberation Sans" fill="#262626" stroke="#262626" stroke-width="0.20" >10</text>
<text transform="translate(37.70,109.70) scale(1.060,1)" font-size="14.00" text-anchor="end" font-family="Liberation Sans" fill="#262626" stroke="#262626" stroke-width="0.20" >15</text>
<text transform="translate(37.70,78.07) scale(1.060,1)" font-size="14.00" text-anchor="end" font-family="Liberation Sans" fill="#262626" stroke="#262626" stroke-width="0.20" >20</text>
<text transform="translate(37.70,46.43) scale(1.060,1)" font-size="14.00" text-anchor="end" font-family="Liberation Sans" fill="#262626" stroke="#262626" stroke-width="0.20" >25</text>
<text transform="translate(37.70,14.80) scale(1.060,1)" font-size="14.00" text-anchor="end" font-family="Liberation Sans" fill="#262626" stroke="#262626" stroke-width="0.20" >30</text>
<text transform="translate(155.35,236.70) scale(1.060,1)" font-size="13.00" text-anchor="middle" font-family="Liberation Sans" fill="#262626" stroke="#262626" stroke-width="0.20" ><tspan font-style="italic">z</tspan>(m)</text>
<text transform="translate(14.40,103.50) rotate(-90) scale(1.170,1)" font-size="12.6" text-anchor="middle" font-family="Liberation Sans" fill="#262626" stroke="#262626" stroke-width="0.20"><tspan font-style="italic">I</tspan>(z,0)</text>
<text transform="translate(10.80,236.90) scale(1.100,1)" font-size="14.50" text-anchor="start" font-family="Liberation Serif" fill="#262626" stroke="#262626" stroke-width="0.20" >(a1)</text>
<path d="M188.00,25.40H210.00" stroke="#141414" stroke-width="1.70"/>
<text transform="translate(213.00,27.70) scale(1.080,1)" font-size="10.80" text-anchor="start" font-family="Liberation Sans" fill="#262626" stroke="#262626" stroke-width="0.20" >a<tspan dy="6.51" font-size="9.30">0</tspan><tspan dy="-6.51"><tspan dx="0.4">=</tspan>1/5<tspan font-family="Liberation Serif" font-style="italic" font-size="13.5" dx="0.3">&#960;</tspan></tspan></text>
<path d="M188.00,46.40H210.00" stroke="#ff1a1a" stroke-width="2.00" stroke-dasharray="6.2 4.8"/>
<text transform="translate(213.00,48.70) scale(1.080,1)" font-size="10.80" text-anchor="start" font-family="Liberation Sans" fill="#262626" stroke="#262626" stroke-width="0.20" >a<tspan dy="6.51" font-size="9.30">0</tspan><tspan dy="-6.51"><tspan dx="0.4">=</tspan>2/5<tspan font-family="Liberation Serif" font-style="italic" font-size="13.5" dx="0.3">&#960;</tspan></tspan></text>
<path d="M188.00,67.40H210.00" stroke="#2233a0" stroke-width="1.80" stroke-dasharray="5.8 1.5 2.4 1.5"/>
<text transform="translate(213.00,69.70) scale(1.080,1)" font-size="10.80" text-anchor="start" font-family="Liberation Sans" fill="#262626" stroke="#262626" stroke-width="0.20" >a<tspan dy="6.51" font-size="9.30">0</tspan><tspan dy="-6.51"><tspan dx="0.4">=</tspan>3/5<tspan font-family="Liberation Serif" font-style="italic" font-size="13.5" dx="0.3">&#960;</tspan></tspan></text>
<path d="M188.00,88.20H210.00" stroke="#2f9f3a" stroke-width="1.90" stroke-dasharray="1.5 1.4"/>
<text transform="translate(213.00,90.50) scale(1.080,1)" font-size="10.80" text-anchor="start" font-family="Liberation Sans" fill="#262626" stroke="#262626" stroke-width="0.20" >a<tspan dy="6.51" font-size="9.30">0</tspan><tspan dy="-6.51"><tspan dx="0.4">=</tspan>4/5<tspan font-family="Liberation Serif" font-style="italic" font-size="13.5" dx="0.3">&#960;</tspan></tspan></text>
<clipPath id="clip_a2"><rect x="312.90" y="7.20" width="228.10" height="188.20"/></clipPath>
<g clip-path="url(#clip_a2)">
<path d="M312.9,183.7 313.4,183.5 313.9,183.4 314.4,183.3 314.9,183.1 315.4,183.0 315.9,182.8 316.4,182.7 316.9,182.6 317.4,182.4 317.9,182.3 318.4,182.2 318.9,182.0 319.4,181.9 319.9,181.8 320.4,181.7 320.9,181.5 321.4,181.4 321.9,181.3 322.4,181.1 322.9,181.0 323.4,180.9 323.9,180.8 324.4,180.6 324.9,180.5 325.4,180.4 325.9,180.2 326.4,180.1 326.9,180.0 327.4,179.9 327.9,179.7 328.4,179.6 328.9,179.5 329.4,179.3 329.9,179.2 330.4,179.1 330.9,178.9 331.4,178.8 331.9,178.7 332.4,178.5 332.9,178.4 333.4,178.3 333.9,178.1 334.4,178.0 334.9,177.9 335.4,177.7 335.9,177.6 336.4,177.4 336.9,177.3 337.4,177.1 337.9,177.0 338.4,176.8 338.9,176.7 339.4,176.5 339.9,176.4 340.4,176.2 340.9,176.1 341.4,175.9 341.9,175.7 342.4,175.6 342.9,175.4 343.4,175.2 343.9,175.1 344.4,174.9 344.9,174.7 345.4,174.5 345.9,174.4 346.4,174.2 346.9,174.0 347.4,173.8 347.9,173.6 348.4,173.4 348.9,173.2 349.4,173.0 349.9,172.8 350.4,172.6 350.9,172.4 351.4,172.2 351.9,172.0 352.4,171.7 352.9,171.5 353.4,171.3 353.9,171.0 354.4,170.8 354.9,170.5 355.4,170.3 355.9,170.0 356.4,169.8 356.9,169.5 357.4,169.2 357.9,169.0 358.4,168.7 358.9,168.4 359.4,168.1 359.9,167.8 360.4,167.5 360.9,167.2 361.4,166.9 361.9,166.6 362.4,166.2 362.9,165.9 363.4,165.6 363.9,165.2 364.4,164.9 364.9,164.5 365.4,164.2 365.9,163.8 366.4,163.4 366.9,163.0 367.4,162.6 367.9,162.2 368.4,161.8 368.9,161.4 369.4,161.0 369.9,160.6 370.4,160.1 370.9,159.7 371.4,159.3 371.9,158.8 372.4,158.3 372.9,157.9 373.4,157.4 373.9,156.9 374.4,156.4 374.9,155.9 375.4,155.4 375.9,154.9 376.4,154.3 376.9,153.8 377.4,153.3 377.9,152.8 378.4,152.2 378.9,151.7 379.4,151.1 379.9,150.6 380.4,150.0 380.9,149.5 381.4,148.9 381.9,148.4 382.4,147.8 382.9,147.3 383.4,146.7 383.9,146.2 384.4,145.6 384.9,145.1 385.4,144.5 385.9,144.0 386.4,143.4 386.9,142.9 387.4,142.4 387.9,141.9 388.4,141.3 388.9,140.8 389.4,140.3 389.9,139.8 390.4,139.2 390.9,138.7 391.4,138.1 391.9,137.5 392.4,136.9 392.9,136.3 393.4,135.6 393.9,134.9 394.4,134.1 394.9,133.3 395.4,132.4 395.9,131.5 396.4,130.4 396.9,129.3 397.4,128.0 397.9,126.5 398.4,124.9 398.9,123.1 399.4,121.1 399.9,118.9 400.4,116.6 400.9,114.3 401.4,112.0 401.9,109.7 402.4,107.5 402.9,105.4 403.4,103.4 403.9,101.5 404.4,99.6 404.9,97.8 405.4,96.1 405.9,94.3 406.4,92.6 406.9,90.9 407.4,89.2 407.9,87.4 408.4,85.6 408.9,83.8 409.4,82.0 409.9,80.1 410.4,78.2 410.9,76.3 411.4,74.4 411.9,72.5 412.4,70.7 412.9,68.8 413.4,67.0 413.9,65.2 414.4,63.4 414.9,61.6 415.4,59.9 415.9,58.3 416.4,56.7 416.9,55.2 417.4,53.7 417.9,52.2 418.4,50.9 418.9,49.6 419.4,48.3 419.9,47.2 420.4,46.1 420.9,45.0 421.4,44.1 421.9,43.2 422.4,42.4 422.9,41.7 423.4,41.1 423.9,40.5 424.4,40.1 424.9,39.7 425.4,39.4 425.9,39.3 426.4,39.2 426.9,39.2 427.4,39.4 427.9,39.6 428.4,39.9 428.9,40.4 429.4,40.9 429.9,41.6 430.4,42.3 430.9,43.2 431.4,44.1 431.9,45.1 432.4,46.1 432.9,47.3 433.4,48.5 433.9,49.8 434.4,51.1 434.9,52.5 435.4,54.0 435.9,55.5 436.4,57.0 436.9,58.6 437.4,60.2 437.9,61.9 438.4,63.6 438.9,65.3 439.4,67.0 439.9,68.8 440.4,70.5 440.9,72.3 441.4,74.1 441.9,75.9 442.4,77.7 442.9,79.6 443.4,81.5 443.9,83.4 444.4,85.5 444.9,87.6 445.4,89.7 445.9,91.8 446.4,94.0 446.9,96.1 447.4,98.1 447.9,100.1 448.4,102.1 448.9,104.0 449.4,105.9 449.9,107.7 450.4,109.4 450.9,111.2 451.4,112.8 451.9,114.5 452.4,116.0 452.9,117.6 453.4,119.1 453.9,120.5 454.4,121.9 454.9,123.3 455.4,124.6 455.9,125.9 456.4,127.1 456.9,128.3 457.4,129.5 457.9,130.6 458.4,131.7 458.9,132.8 459.4,133.8 459.9,134.8 460.4,135.8 460.9,136.7 461.4,137.6 461.9,138.5 462.4,139.4 462.9,140.2 463.4,141.1 463.9,141.9 464.4,142.6 464.9,143.4 465.4,144.1 465.9,144.9 466.4,145.6 466.9,146.3 467.4,147.0 467.9,147.6 468.4,148.3 468.9,149.0 469.4,149.6 469.9,150.2 470.4,150.9 470.9,151.5 471.4,152.1 471.9,152.6 472.4,153.2 472.9,153.8 473.4,154.3 473.9,154.9 474.4,155.4 474.9,156.0 475.4,156.5 475.9,157.0 476.4,157.5 476.9,158.0 477.4,158.5 477.9,158.9 478.4,159.4 478.9,159.9 479.4,160.3 479.9,160.8 480.4,161.2 480.9,161.6 481.4,162.1 481.9,162.5 482.4,162.9 482.9,163.3 483.4,163.7 483.9,164.1 484.4,164.5 484.9,164.9 485.4,165.3 485.9,165.7 486.4,166.0 486.9,166.4 487.4,166.7 487.9,167.1 488.4,167.4 488.9,167.8 489.4,168.1 489.9,168.4 490.4,168.8 490.9,169.1 491.4,169.4 491.9,169.7 492.4,170.0 492.9,170.3 493.4,170.6 493.9,170.9 494.4,171.2 494.9,171.5 495.4,171.8 495.9,172.0 496.4,172.3 496.9,172.6 497.4,172.8 497.9,173.1 498.4,173.3 498.9,173.6 499.4,173.8 499.9,174.1 500.4,174.3 500.9,174.5 501.4,174.8 501.9,175.0 502.4,175.2 502.9,175.4 503.4,175.6 503.9,175.9 504.4,176.1 504.9,176.3 505.4,176.5 505.9,176.7 506.4,176.9 506.9,177.0 507.4,177.2 507.9,177.4 508.4,177.6 508.9,177.8 509.4,178.0 509.9,178.1 510.4,178.3 510.9,178.5 511.4,178.6 511.9,178.8 512.4,179.0 512.9,179.1 513.4,179.3 513.9,179.4 514.4,179.6 514.9,179.7 515.4,179.9 515.9,180.0 516.4,180.2 516.9,180.3 517.4,180.4 517.9,180.6 518.4,180.7 518.9,180.8 519.4,181.0 519.9,181.1 520.4,181.2 520.9,181.4 521.4,181.5 521.9,181.6 522.4,181.7 522.9,181.8 523.4,182.0 523.9,182.1 524.4,182.2 524.9,182.3 525.4,182.4 525.9,182.6 526.4,182.7 526.9,182.8 527.4,182.9 527.9,183.0 528.4,183.1 528.9,183.2 529.4,183.3 529.9,183.5 530.4,183.6 530.9,183.7 531.4,183.8 531.9,183.9 532.4,184.0 532.9,184.1 533.4,184.2 533.9,184.3 534.4,184.4 534.9,184.6 535.4,184.7 535.9,184.8 536.4,184.9 536.9,185.0 537.4,185.1 537.9,185.2 538.4,185.3 538.9,185.5 539.4,185.6 539.9,185.7 540.4,185.8 540.9,185.9 541.0,185.9" fill="none" stroke="#141414" stroke-width="1.70" stroke-linejoin="round"/>
<path d="M312.9,175.6 313.4,175.4 313.9,175.2 314.4,175.0 314.9,174.7 315.4,174.5 315.9,174.3 316.4,174.1 316.9,173.9 317.4,173.7 317.9,173.5 318.4,173.3 318.9,173.1 319.4,172.9 319.9,172.8 320.4,172.6 320.9,172.4 321.4,172.2 321.9,172.0 322.4,171.9 322.9,171.7 323.4,171.5 323.9,171.3 324.4,171.2 324.9,171.0 325.4,170.8 325.9,170.7 326.4,170.5 326.9,170.3 327.4,170.2 327.9,170.0 328.4,169.8 328.9,169.7 329.4,169.5 329.9,169.4 330.4,169.2 330.9,169.1 331.4,168.9 331.9,168.7 332.4,168.6 332.9,168.4 333.4,168.3 333.9,168.1 334.4,168.0 334.9,167.8 335.4,167.7 335.9,167.5 336.4,167.3 336.9,167.2 337.4,167.0 337.9,166.9 338.4,166.7 338.9,166.6 339.4,166.4 339.9,166.2 340.4,166.1 340.9,165.9 341.4,165.8 341.9,165.6 342.4,165.4 342.9,165.3 343.4,165.1 343.9,164.9 344.4,164.8 344.9,164.6 345.4,164.4 345.9,164.2 346.4,164.1 346.9,163.9 347.4,163.7 347.9,163.5 348.4,163.3 348.9,163.1 349.4,162.9 349.9,162.7 350.4,162.4 350.9,162.2 351.4,162.0 351.9,161.7 352.4,161.5 352.9,161.2 353.4,160.9 353.9,160.7 354.4,160.4 354.9,160.1 355.4,159.8 355.9,159.5 356.4,159.1 356.9,158.8 357.4,158.5 357.9,158.1 358.4,157.7 358.9,157.4 359.4,157.0 359.9,156.6 360.4,156.1 360.9,155.7 361.4,155.3 361.9,154.8 362.4,154.4 362.9,153.9 363.4,153.5 363.9,153.0 364.4,152.6 364.9,152.1 365.4,151.7 365.9,151.2 366.4,150.8 366.9,150.3 367.4,149.9 367.9,149.5 368.4,149.1 368.9,148.7 369.4,148.3 369.9,147.9 370.4,147.5 370.9,147.2 371.4,146.8 371.9,146.5 372.4,146.2 372.9,145.9 373.4,145.7 373.9,145.5 374.4,145.3 374.9,145.1 375.4,144.9 375.9,144.8 376.4,144.6 376.9,144.5 377.4,144.4 377.9,144.3 378.4,144.3 378.9,144.2 379.4,144.1 379.9,144.1 380.4,144.0 380.9,144.0 381.4,143.9 381.9,143.9 382.4,143.9 382.9,143.8 383.4,143.8 383.9,143.7 384.4,143.6 384.9,143.5 385.4,143.5 385.9,143.3 386.4,143.2 386.9,143.1 387.4,142.9 387.9,142.8 388.4,142.6 388.9,142.3 389.4,142.1 389.9,141.8 390.4,141.4 390.9,141.0 391.4,140.6 391.9,140.1 392.4,139.5 392.9,138.8 393.4,138.1 393.9,137.2 394.4,136.3 394.9,135.3 395.4,134.1 395.9,132.9 396.4,131.5 396.9,130.1 397.4,128.6 397.9,127.0 398.4,125.3 398.9,123.5 399.4,121.6 399.9,119.7 400.4,117.7 400.9,115.7 401.4,113.6 401.9,111.4 402.4,109.2 402.9,106.9 403.4,104.6 403.9,102.3 404.4,99.9 404.9,97.4 405.4,95.0 405.9,92.5 406.4,89.9 406.9,87.4 407.4,84.8 407.9,82.2 408.4,79.6 408.9,77.0 409.4,74.4 409.9,71.8 410.4,69.2 410.9,66.6 411.4,64.2 411.9,61.7 412.4,59.4 412.9,57.1 413.4,55.0 413.9,52.9 414.4,51.0 414.9,49.2 415.4,47.5 415.9,45.9 416.4,44.5 416.9,43.1 417.4,41.9 417.9,40.7 418.4,39.7 418.9,38.8 419.4,37.9 419.9,37.2 420.4,36.5 420.9,36.0 421.4,35.5 421.9,35.1 422.4,34.8 422.9,34.6 423.4,34.5 423.9,34.5 424.4,34.5 424.9,34.7 425.4,35.0 425.9,35.4 426.4,35.8 426.9,36.4 427.4,37.1 427.9,37.9 428.4,38.8 428.9,39.8 429.4,40.9 429.9,42.1 430.4,43.4 430.9,44.7 431.4,46.2 431.9,47.7 432.4,49.3 432.9,51.0 433.4,52.8 433.9,54.6 434.4,56.4 434.9,58.4 435.4,60.3 435.9,62.4 436.4,64.4 436.9,66.5 437.4,68.7 437.9,70.9 438.4,73.1 438.9,75.3 439.4,77.5 439.9,79.8 440.4,82.1 440.9,84.4 441.4,86.7 441.9,88.9 442.4,91.2 442.9,93.5 443.4,95.8 443.9,98.1 444.4,100.3 444.9,102.5 445.4,104.7 445.9,106.9 446.4,109.1 446.9,111.2 447.4,113.3 447.9,115.3 448.4,117.3 448.9,119.3 449.4,121.2 449.9,123.1 450.4,124.9 450.9,126.6 451.4,128.4 451.9,130.0 452.4,131.6 452.9,133.2 453.4,134.6 453.9,136.1 454.4,137.5 454.9,138.8 455.4,140.1 455.9,141.4 456.4,142.6 456.9,143.8 457.4,145.0 457.9,146.2 458.4,147.3 458.9,148.4 459.4,149.5 459.9,150.6 460.4,151.7 460.9,152.8 461.4,153.9 461.9,154.9 462.4,155.9 462.9,156.9 463.4,157.9 463.9,158.9 464.4,159.8 464.9,160.7 465.4,161.6 465.9,162.4 466.4,163.3 466.9,164.1 467.4,164.8 467.9,165.6 468.4,166.3 468.9,167.0 469.4,167.7 469.9,168.3 470.4,168.9 470.9,169.5 471.4,170.1 471.9,170.7 472.4,171.2 472.9,171.7 473.4,172.2 473.9,172.7 474.4,173.2 474.9,173.7 475.4,174.1 475.9,174.5 476.4,174.9 476.9,175.3 477.4,175.7 477.9,176.1 478.4,176.5 478.9,176.8 479.4,177.2 479.9,177.5 480.4,177.9 480.9,178.2 481.4,178.5 481.9,178.8 482.4,179.1 482.9,179.4 483.4,179.7 483.9,180.0 484.4,180.3 484.9,180.6 485.4,180.9 485.9,181.1 486.4,181.4 486.9,181.6 487.4,181.9 487.9,182.1 488.4,182.4 488.9,182.6 489.4,182.8 489.9,183.1 490.4,183.3 490.9,183.5 491.4,183.7 491.9,183.9 492.4,184.1 492.9,184.3 493.4,184.5 493.9,184.7 494.4,184.8 494.9,185.0 495.4,185.2 495.9,185.4 496.4,185.5 496.9,185.7 497.4,185.8 497.9,186.0 498.4,186.2 498.9,186.3 499.4,186.4 499.9,186.6 500.4,186.7 500.9,186.9 501.4,187.0 501.9,187.1 502.4,187.3 502.9,187.4 503.4,187.5 503.9,187.6 504.4,187.7 504.9,187.9 505.4,188.0 505.9,188.1 506.4,188.2 506.9,188.3 507.4,188.4 507.9,188.5 508.4,188.6 508.9,188.7 509.4,188.8 509.9,188.9 510.4,189.0 510.9,189.1 511.4,189.2 511.9,189.3 512.4,189.4 512.9,189.5 513.4,189.6 513.9,189.7 514.4,189.8 514.9,189.9 515.4,190.0 515.9,190.1 516.4,190.2 516.9,190.3 517.4,190.3 517.9,190.4 518.4,190.5 518.9,190.6 519.4,190.7 519.9,190.7 520.4,190.8 520.9,190.9 521.4,191.0 521.9,191.0 522.4,191.1 522.9,191.2 523.4,191.3 523.9,191.3 524.4,191.4 524.9,191.4 525.4,191.5 525.9,191.6 526.4,191.6 526.9,191.7 527.4,191.7 527.9,191.8 528.4,191.8 528.9,191.9 529.4,191.9 529.9,192.0 530.4,192.0 530.9,192.1 531.4,192.1 531.9,192.1 532.4,192.2 532.9,192.2 533.4,192.2 533.9,192.3 534.4,192.3 534.9,192.3 535.4,192.3 535.9,192.4 536.4,192.4 536.9,192.4 537.4,192.4 537.9,192.4 538.4,192.4 538.9,192.4 539.4,192.4 539.9,192.4 540.4,192.4 540.9,192.4 541.0,192.4" fill="none" stroke="#ff1a1a" stroke-width="2.00" stroke-dasharray="6.2 4.8" stroke-linejoin="round"/>
<path d="M312.9,165.1 313.4,165.5 313.9,165.9 314.4,166.3 314.9,166.7 315.4,167.1 315.9,167.5 316.4,167.9 316.9,168.3 317.4,168.7 317.9,169.0 318.4,169.4 318.9,169.7 319.4,170.1 319.9,170.4 320.4,170.7 320.9,170.9 321.4,171.2 321.9,171.4 322.4,171.6 322.9,171.8 323.4,172.0 323.9,172.1 324.4,172.2 324.9,172.3 325.4,172.4 325.9,172.4 326.4,172.3 326.9,172.3 327.4,172.2 327.9,172.1 328.4,171.9 328.9,171.7 329.4,171.4 329.9,171.1 330.4,170.8 330.9,170.5 331.4,170.1 331.9,169.7 332.4,169.3 332.9,168.9 333.4,168.4 333.9,168.0 334.4,167.5 334.9,167.0 335.4,166.5 335.9,166.0 336.4,165.5 336.9,165.0 337.4,164.5 337.9,164.0 338.4,163.5 338.9,162.9 339.4,162.4 339.9,161.8 340.4,161.1 340.9,160.5 341.4,159.8 341.9,159.1 342.4,158.3 342.9,157.5 343.4,156.7 343.9,155.8 344.4,154.8 344.9,153.9 345.4,153.0 345.9,152.0 346.4,151.1 346.9,150.1 347.4,149.2 347.9,148.4 348.4,147.6 348.9,146.8 349.4,146.1 349.9,145.4 350.4,144.9 350.9,144.4 351.4,144.0 351.9,143.8 352.4,143.6 352.9,143.5 353.4,143.5 353.9,143.5 354.4,143.6 354.9,143.8 355.4,144.1 355.9,144.4 356.4,144.7 356.9,145.1 357.4,145.6 357.9,146.1 358.4,146.6 358.9,147.2 359.4,147.8 359.9,148.4 360.4,149.1 360.9,149.8 361.4,150.5 361.9,151.3 362.4,152.2 362.9,153.0 363.4,154.0 363.9,154.9 364.4,156.0 364.9,157.0 365.4,158.2 365.9,159.3 366.4,160.5 366.9,161.7 367.4,163.0 367.9,164.2 368.4,165.4 368.9,166.7 369.4,167.9 369.9,169.0 370.4,170.2 370.9,171.3 371.4,172.3 371.9,173.3 372.4,174.2 372.9,175.0 373.4,175.7 373.9,176.4 374.4,176.9 374.9,177.3 375.4,177.6 375.9,177.7 376.4,177.8 376.9,177.6 377.4,177.3 377.9,176.8 378.4,176.2 378.9,175.3 379.4,174.3 379.9,173.0 380.4,171.6 380.9,170.1 381.4,168.4 381.9,166.6 382.4,164.6 382.9,162.6 383.4,160.5 383.9,158.3 384.4,156.1 384.9,153.8 385.4,151.5 385.9,149.2 386.4,146.9 386.9,144.6 387.4,142.3 387.9,140.0 388.4,137.6 388.9,135.3 389.4,132.9 389.9,130.5 390.4,128.0 390.9,125.5 391.4,122.9 391.9,120.3 392.4,117.6 392.9,114.9 393.4,112.1 393.9,109.2 394.4,106.3 394.9,103.4 395.4,100.6 395.9,97.7 396.4,94.9 396.9,92.1 397.4,89.5 397.9,86.9 398.4,84.4 398.9,82.1 399.4,79.8 399.9,77.7 400.4,75.7 400.9,73.8 401.4,71.9 401.9,70.2 402.4,68.6 402.9,67.2 403.4,65.8 403.9,64.5 404.4,63.3 404.9,62.2 405.4,61.2 405.9,60.3 406.4,59.5 406.9,58.8 407.4,58.2 407.9,57.7 408.4,57.2 408.9,56.9 409.4,56.6 409.9,56.5 410.4,56.4 410.9,56.4 411.4,56.5 411.9,56.6 412.4,56.9 412.9,57.3 413.4,57.7 413.9,58.2 414.4,58.9 414.9,59.6 415.4,60.5 415.9,61.4 416.4,62.4 416.9,63.6 417.4,64.9 417.9,66.3 418.4,67.8 418.9,69.3 419.4,71.0 419.9,72.6 420.4,74.2 420.9,75.7 421.4,77.1 421.9,78.4 422.4,79.8 422.9,81.2 423.4,82.7 423.9,84.4 424.4,86.3 424.9,88.5 425.4,90.8 425.9,93.2 426.4,95.7 426.9,98.2 427.4,100.7 427.9,103.3 428.4,105.8 428.9,108.2 429.4,110.6 429.9,113.0 430.4,115.2 430.9,117.4 431.4,119.5 431.9,121.5 432.4,123.5 432.9,125.4 433.4,127.3 433.9,129.1 434.4,130.9 434.9,132.6 435.4,134.3 435.9,136.0 436.4,137.7 436.9,139.3 437.4,141.0 437.9,142.6 438.4,144.2 438.9,145.8 439.4,147.4 439.9,148.9 440.4,150.4 440.9,151.9 441.4,153.4 441.9,154.9 442.4,156.3 442.9,157.7 443.4,159.1 443.9,160.5 444.4,161.8 444.9,163.1 445.4,164.4 445.9,165.6 446.4,166.8 446.9,168.0 447.4,169.2 447.9,170.3 448.4,171.4 448.9,172.4 449.4,173.5 449.9,174.4 450.4,175.4 450.9,176.3 451.4,177.2 451.9,178.0 452.4,178.9 452.9,179.6 453.4,180.4 453.9,181.1 454.4,181.8 454.9,182.5 455.4,183.1 455.9,183.7 456.4,184.3 456.9,184.8 457.4,185.4 457.9,185.9 458.4,186.4 458.9,186.8 459.4,187.3 459.9,187.7 460.4,188.1 460.9,188.5 461.4,188.8 461.9,189.2 462.4,189.5 462.9,189.8 463.4,190.1 463.9,190.4 464.4,190.6 464.9,190.9 465.4,191.1 465.9,191.4 466.4,191.6 466.9,191.8 467.4,192.0 467.9,192.1 468.4,192.3 468.9,192.5 469.4,192.6 469.9,192.8 470.4,192.9 470.9,193.0 471.4,193.1 471.9,193.2 472.4,193.3 472.9,193.4 473.4,193.5 473.9,193.6 474.4,193.7 474.9,193.7 475.4,193.8 475.9,193.9 476.4,193.9 476.9,194.0 477.4,194.0 477.9,194.1 478.4,194.1 478.9,194.2 479.4,194.2 479.9,194.3 480.4,194.3 480.9,194.3 481.4,194.4 481.9,194.4 482.4,194.5 482.9,194.5 483.4,194.5 483.9,194.6 484.4,194.6 484.9,194.6 485.4,194.7 485.9,194.7 486.4,194.7 486.9,194.8 487.4,194.8 487.9,194.8 488.4,194.9 488.9,194.9 489.4,194.9 489.9,194.9 490.4,195.0 490.9,195.0 491.4,195.0 491.9,195.0 492.4,195.0 492.9,195.1 493.4,195.1 493.9,195.1 494.4,195.1 494.9,195.1 495.4,195.2 495.9,195.2 496.4,195.2 496.9,195.2 497.4,195.2 497.9,195.2 498.4,195.2 498.9,195.3 499.4,195.3 499.9,195.3 500.4,195.3 500.9,195.3 501.4,195.3 501.9,195.3 502.4,195.3 502.9,195.3 503.4,195.3 503.9,195.4 504.4,195.4 504.9,195.4 505.4,195.4 505.9,195.4 506.4,195.4 506.9,195.4 507.4,195.4 507.9,195.4 508.4,195.4 508.9,195.4 509.4,195.4 509.9,195.4 510.4,195.4 510.9,195.4 511.4,195.4 511.9,195.4 512.4,195.4 512.9,195.4 513.4,195.4 513.9,195.4 514.4,195.4 514.9,195.4 515.4,195.4 515.9,195.4 516.4,195.4 516.9,195.4 517.4,195.4 517.9,195.4 518.4,195.4 518.9,195.4 519.4,195.4 519.9,195.4 520.4,195.4 520.9,195.4 521.4,195.4 521.9,195.4 522.4,195.4 522.9,195.4 523.4,195.4 523.9,195.4 524.4,195.4 524.9,195.4 525.4,195.4 525.9,195.4 526.4,195.4 526.9,195.4 527.4,195.4 527.9,195.4 528.4,195.3 528.9,195.3 529.4,195.3 529.9,195.3 530.4,195.3 530.9,195.3 531.4,195.3 531.9,195.3 532.4,195.3 532.9,195.3 533.4,195.3 533.9,195.3 534.4,195.3 534.9,195.3 535.4,195.3 535.9,195.3 536.4,195.3 536.9,195.3 537.4,195.3 537.9,195.3 538.4,195.3 538.9,195.3 539.4,195.3 539.9,195.3 540.4,195.3 540.9,195.3 541.0,195.4" fill="none" stroke="#2233a0" stroke-width="1.80" stroke-dasharray="5.8 1.5 2.4 1.5" stroke-linejoin="round"/>
<path d="M312.9,166.0 313.4,164.9 313.9,163.8 314.4,162.7 314.9,161.7 315.4,160.8 315.9,159.9 316.4,159.0 316.9,158.2 317.4,157.4 317.9,156.7 318.4,156.0 318.9,155.4 319.4,154.9 319.9,154.4 320.4,153.9 320.9,153.5 321.4,153.2 321.9,152.9 322.4,152.6 322.9,152.4 323.4,152.3 323.9,152.3 324.4,152.2 324.9,152.3 325.4,152.4 325.9,152.6 326.4,152.8 326.9,153.1 327.4,153.5 327.9,153.9 328.4,154.4 328.9,154.9 329.4,155.5 329.9,156.2 330.4,156.9 330.9,157.6 331.4,158.4 331.9,159.2 332.4,160.1 332.9,161.0 333.4,162.0 333.9,163.0 334.4,164.0 334.9,165.0 335.4,166.0 335.9,167.1 336.4,168.2 336.9,169.2 337.4,170.3 337.9,171.4 338.4,172.5 338.9,173.6 339.4,174.7 339.9,175.8 340.4,176.9 340.9,177.9 341.4,178.9 341.9,180.0 342.4,180.9 342.9,181.9 343.4,182.8 343.9,183.8 344.4,184.6 344.9,185.5 345.4,186.3 345.9,187.1 346.4,187.8 346.9,188.5 347.4,189.2 347.9,189.8 348.4,190.4 348.9,191.0 349.4,191.5 349.9,191.9 350.4,192.3 350.9,192.7 351.4,193.0 351.9,193.3 352.4,193.5 352.9,193.7 353.4,193.8 353.9,193.8 354.4,193.8 354.9,193.7 355.4,193.6 355.9,193.4 356.4,193.2 356.9,192.8 357.4,192.5 357.9,192.0 358.4,191.5 358.9,191.0 359.4,190.3 359.9,189.6 360.4,188.9 360.9,188.1 361.4,187.2 361.9,186.3 362.4,185.3 362.9,184.2 363.4,183.1 363.9,181.9 364.4,180.7 364.9,179.4 365.4,178.1 365.9,176.7 366.4,175.2 366.9,173.7 367.4,172.1 367.9,170.5 368.4,168.9 368.9,167.2 369.4,165.5 369.9,163.8 370.4,162.2 370.9,160.5 371.4,158.8 371.9,157.2 372.4,155.6 372.9,154.0 373.4,152.4 373.9,150.8 374.4,149.3 374.9,147.7 375.4,146.2 375.9,144.7 376.4,143.3 376.9,141.8 377.4,140.4 377.9,139.0 378.4,137.6 378.9,136.3 379.4,135.0 379.9,133.7 380.4,132.5 380.9,131.3 381.4,130.1 381.9,129.0 382.4,127.9 382.9,126.8 383.4,125.8 383.9,124.8 384.4,123.9 384.9,123.0 385.4,122.1 385.9,121.3 386.4,120.5 386.9,119.8 387.4,119.1 387.9,118.4 388.4,117.8 388.9,117.2 389.4,116.6 389.9,116.1 390.4,115.6 390.9,115.2 391.4,114.8 391.9,114.4 392.4,114.1 392.9,113.8 393.4,113.5 393.9,113.3 394.4,113.1 394.9,113.0 395.4,112.9 395.9,112.8 396.4,112.8 396.9,112.8 397.4,112.8 397.9,112.9 398.4,113.0 398.9,113.1 399.4,113.3 399.9,113.5 400.4,113.8 400.9,114.1 401.4,114.4 401.9,114.7 402.4,115.1 402.9,115.5 403.4,115.9 403.9,116.4 404.4,116.9 404.9,117.4 405.4,118.0 405.9,118.6 406.4,119.2 406.9,119.8 407.4,120.5 407.9,121.2 408.4,121.9 408.9,122.7 409.4,123.5 409.9,124.3 410.4,125.1 410.9,126.0 411.4,126.8 411.9,127.7 412.4,128.6 412.9,129.5 413.4,130.4 413.9,131.4 414.4,132.3 414.9,133.2 415.4,134.1 415.9,135.0 416.4,135.8 416.9,136.7 417.4,137.5 417.9,138.3 418.4,139.1 418.9,139.9 419.4,140.7 419.9,141.5 420.4,142.2 420.9,143.0 421.4,143.7 421.9,144.4 422.4,145.2 422.9,146.0 423.4,146.7 423.9,147.5 424.4,148.3 424.9,149.0 425.4,149.8 425.9,150.6 426.4,151.4 426.9,152.2 427.4,153.0 427.9,153.8 428.4,154.6 428.9,155.4 429.4,156.2 429.9,157.0 430.4,157.8 430.9,158.6 431.4,159.4 431.9,160.2 432.4,161.0 432.9,161.8 433.4,162.6 433.9,163.4 434.4,164.1 434.9,164.9 435.4,165.7 435.9,166.4 436.4,167.2 436.9,167.9 437.4,168.6 437.9,169.3 438.4,170.0 438.9,170.7 439.4,171.4 439.9,172.0 440.4,172.7 440.9,173.3 441.4,173.9 441.9,174.6 442.4,175.2 442.9,175.8 443.4,176.4 443.9,176.9 444.4,177.5 444.9,178.0 445.4,178.6 445.9,179.1 446.4,179.6 446.9,180.1 447.4,180.6 447.9,181.1 448.4,181.6 448.9,182.0 449.4,182.5 449.9,182.9 450.4,183.3 450.9,183.8 451.4,184.2 451.9,184.5 452.4,184.9 452.9,185.3 453.4,185.7 453.9,186.0 454.4,186.3 454.9,186.7 455.4,187.0 455.9,187.3 456.4,187.6 456.9,187.9 457.4,188.1 457.9,188.4 458.4,188.7 458.9,188.9 459.4,189.2 459.9,189.4 460.4,189.6 460.9,189.8 461.4,190.0 461.9,190.2 462.4,190.4 462.9,190.6 463.4,190.8 463.9,191.0 464.4,191.1 464.9,191.3 465.4,191.4 465.9,191.6 466.4,191.7 466.9,191.9 467.4,192.0 467.9,192.1 468.4,192.2 468.9,192.3 469.4,192.5 469.9,192.6 470.4,192.7 470.9,192.7 471.4,192.8 471.9,192.9 472.4,193.0 472.9,193.1 473.4,193.2 473.9,193.2 474.4,193.3 474.9,193.4 475.4,193.4 475.9,193.5 476.4,193.6 476.9,193.6 477.4,193.7 477.9,193.7 478.4,193.8 478.9,193.8 479.4,193.9 479.9,193.9 480.4,194.0 480.9,194.0 481.4,194.1 481.9,194.1 482.4,194.1 482.9,194.2 483.4,194.2 483.9,194.3 484.4,194.3 484.9,194.4 485.4,194.4 485.9,194.4 486.4,194.5 486.9,194.5 487.4,194.6 487.9,194.6 488.4,194.6 488.9,194.7 489.4,194.7 489.9,194.7 490.4,194.8 490.9,194.8 491.4,194.8 491.9,194.9 492.4,194.9 492.9,194.9 493.4,195.0 493.9,195.0 494.4,195.0 494.9,195.0 495.4,195.1 495.9,195.1 496.4,195.1 496.9,195.1 497.4,195.2 497.9,195.2 498.4,195.2 498.9,195.2 499.4,195.3 499.9,195.3 500.4,195.3 500.9,195.3 501.4,195.3 501.9,195.4 502.4,195.4 502.9,195.4 503.4,195.4 503.9,195.4 504.4,195.4 504.9,195.5 505.4,195.5 505.9,195.5 506.4,195.5 506.9,195.5 507.4,195.5 507.9,195.5 508.4,195.5 508.9,195.6 509.4,195.6 509.9,195.6 510.4,195.6 510.9,195.6 511.4,195.6 511.9,195.6 512.4,195.6 512.9,195.6 513.4,195.6 513.9,195.6 514.4,195.6 514.9,195.7 515.4,195.7 515.9,195.7 516.4,195.7 516.9,195.7 517.4,195.7 517.9,195.7 518.4,195.7 518.9,195.7 519.4,195.7 519.9,195.7 520.4,195.7 520.9,195.7 521.4,195.7 521.9,195.7 522.4,195.7 522.9,195.7 523.4,195.7 523.9,195.7 524.4,195.7 524.9,195.6 525.4,195.6 525.9,195.6 526.4,195.6 526.9,195.6 527.4,195.6 527.9,195.6 528.4,195.6 528.9,195.6 529.4,195.6 529.9,195.6 530.4,195.6 530.9,195.6 531.4,195.5 531.9,195.5 532.4,195.5 532.9,195.5 533.4,195.5 533.9,195.5 534.4,195.5 534.9,195.5 535.4,195.5 535.9,195.4 536.4,195.4 536.9,195.4 537.4,195.4 537.9,195.4 538.4,195.4 538.9,195.4 539.4,195.3 539.9,195.3 540.4,195.3 540.9,195.3 541.0,195.3" fill="none" stroke="#2f9f3a" stroke-width="1.90" stroke-dasharray="1.5 1.4" stroke-linejoin="round"/>
</g>
<rect x="312.90" y="8.20" width="228.10" height="187.20" fill="none" stroke="#9a9a9a" stroke-width="1.1"/>
<path d="M312.90,195.40v-2.40M312.90,8.20v2.40" stroke="#9a9a9a" stroke-width="1"/>
<path d="M369.92,195.40v-2.40M369.92,8.20v2.40" stroke="#9a9a9a" stroke-width="1"/>
<path d="M426.95,195.40v-2.40M426.95,8.20v2.40" stroke="#9a9a9a" stroke-width="1"/>
<path d="M483.98,195.40v-2.40M483.98,8.20v2.40" stroke="#9a9a9a" stroke-width="1"/>
<path d="M541.00,195.40v-2.40M541.00,8.20v2.40" stroke="#9a9a9a" stroke-width="1"/>
<path d="M312.90,195.40h2.40M541.00,195.40h-2.40" stroke="#9a9a9a" stroke-width="1"/>
<path d="M312.90,133.00h2.40M541.00,133.00h-2.40" stroke="#9a9a9a" stroke-width="1"/>
<path d="M312.90,70.60h2.40M541.00,70.60h-2.40" stroke="#9a9a9a" stroke-width="1"/>
<path d="M312.90,8.20h2.40M541.00,8.20h-2.40" stroke="#9a9a9a" stroke-width="1"/>
<text transform="translate(312.90,215.00) scale(1.060,1)" font-size="14.00" text-anchor="middle" font-family="Liberation Sans" fill="#262626" stroke="#262626" stroke-width="0.20" >-2</text>
<text transform="translate(369.92,215.00) scale(1.060,1)" font-size="14.00" text-anchor="middle" font-family="Liberation Sans" fill="#262626" stroke="#262626" stroke-width="0.20" >-1</text>
<text transform="translate(426.95,215.00) scale(1.060,1)" font-size="14.00" text-anchor="middle" font-family="Liberation Sans" fill="#262626" stroke="#262626" stroke-width="0.20" >0</text>
<text transform="translate(483.98,215.00) scale(1.060,1)" font-size="14.00" text-anchor="middle" font-family="Liberation Sans" fill="#262626" stroke="#262626" stroke-width="0.20" >1</text>
<text transform="translate(541.00,215.00) scale(1.060,1)" font-size="14.00" text-anchor="middle" font-family="Liberation Sans" fill="#262626" stroke="#262626" stroke-width="0.20" >2</text>
<text transform="translate(307.30,200.80) scale(1.060,1)" font-size="14.00" text-anchor="end" font-family="Liberation Sans" fill="#262626" stroke="#262626" stroke-width="0.20" >0</text>
<text transform="translate(307.30,138.40) scale(1.060,1)" font-size="14.00" text-anchor="end" font-family="Liberation Sans" fill="#262626" stroke="#262626" stroke-width="0.20" >2</text>
<text transform="translate(307.30,76.00) scale(1.060,1)" font-size="14.00" text-anchor="end" font-family="Liberation Sans" fill="#262626" stroke="#262626" stroke-width="0.20" >4</text>
<text transform="translate(307.30,13.60) scale(1.060,1)" font-size="14.00" text-anchor="end" font-family="Liberation Sans" fill="#262626" stroke="#262626" stroke-width="0.20" >6</text>
<text transform="translate(426.95,232.90) scale(1.060,1)" font-size="13.00" text-anchor="middle" font-family="Liberation Sans" fill="#262626" stroke="#262626" stroke-width="0.20" ><tspan font-style="italic">t</tspan>(ps)</text>
<text transform="translate(294.20,101.00) rotate(-90) scale(1.170,1)" font-size="12.6" text-anchor="middle" font-family="Liberation Sans" fill="#262626" stroke="#262626" stroke-width="0.20"><tspan font-style="italic">I</tspan>(<tspan font-style="italic">t</tspan>,z=1m)</text>
<text transform="translate(290.80,239.00) scale(1.100,1)" font-size="14.50" text-anchor="start" font-family="Liberation Serif" fill="#262626" stroke="#262626" stroke-width="0.20" >(a2)</text>
<path d="M460.00,22.50H482.40" stroke="#141414" stroke-width="1.70"/>
<text transform="translate(485.60,24.80) scale(1.080,1)" font-size="10.80" text-anchor="start" font-family="Liberation Sans" fill="#262626" stroke="#262626" stroke-width="0.20" >a<tspan dy="6.51" font-size="9.30">0</tspan><tspan dy="-6.51"><tspan dx="0.4">=</tspan>1/5<tspan font-family="Liberation Serif" font-style="italic" font-size="13.5" dx="0.3">&#960;</tspan></tspan></text>
<path d="M460.00,44.90H482.40" stroke="#ff1a1a" stroke-width="2.00" stroke-dasharray="6.2 4.8"/>
<text transform="translate(485.60,47.20) scale(1.080,1)" font-size="10.80" text-anchor="start" font-family="Liberation Sans" fill="#262626" stroke="#262626" stroke-width="0.20" >a<tspan dy="6.51" font-size="9.30">0</tspan><tspan dy="-6.51"><tspan dx="0.4">=</tspan>2/5<tspan font-family="Liberation Serif" font-style="italic" font-size="13.5" dx="0.3">&#960;</tspan></tspan></text>
<path d="M460.00,67.20H482.40" stroke="#6f7cc4" stroke-width="1.30" stroke-dasharray="4.5 1.5 3 1.5"/>
<text transform="translate(485.60,69.50) scale(1.080,1)" font-size="10.80" text-anchor="start" font-family="Liberation Sans" fill="#262626" stroke="#262626" stroke-width="0.20" >a<tspan dy="6.51" font-size="9.30">0</tspan><tspan dy="-6.51"><tspan dx="0.4">=</tspan>3/5<tspan font-family="Liberation Serif" font-style="italic" font-size="13.5" dx="0.3">&#960;</tspan></tspan></text>
<path d="M460.00,87.90H482.40" stroke="#2f9f3a" stroke-width="1.90" stroke-dasharray="1.5 1.4"/>
<text transform="translate(485.60,90.20) scale(1.080,1)" font-size="10.80" text-anchor="start" font-family="Liberation Sans" fill="#262626" stroke="#262626" stroke-width="0.20" >a<tspan dy="6.51" font-size="9.30">0</tspan><tspan dy="-6.51"><tspan dx="0.4">=</tspan>4/5<tspan font-family="Liberation Serif" font-style="italic" font-size="13.5" dx="0.3">&#960;</tspan></tspan></text>
<clipPath id="clip_b1"><rect x="42.00" y="253.50" width="231.30" height="189.80"/></clipPath>
<g clip-path="url(#clip_b1)">
<path d="M42.0,353.4 42.5,353.4 43.0,353.3 43.5,353.3 44.0,353.3 44.5,353.3 45.0,353.3 45.5,353.3 46.0,353.3 46.5,353.3 47.0,353.3 47.5,353.3 48.0,353.3 48.5,353.3 49.0,353.3 49.5,353.3 50.0,353.3 50.5,353.3 51.0,353.3 51.5,353.3 52.0,353.3 52.5,353.2 53.0,353.2 53.5,353.1 54.0,353.1 54.5,353.0 55.0,352.9 55.5,352.8 56.0,352.6 56.5,352.5 57.0,352.3 57.5,352.1 58.0,351.9 58.5,351.7 59.0,351.5 59.5,351.2 60.0,351.0 60.5,350.7 61.0,350.4 61.5,350.1 62.0,349.8 62.5,349.5 63.0,349.2 63.5,348.9 64.0,348.7 64.5,348.4 65.0,348.1 65.5,347.8 66.0,347.5 66.5,347.3 67.0,347.1 67.5,346.8 68.0,346.6 68.5,346.4 69.0,346.3 69.5,346.1 70.0,346.0 70.5,345.9 71.0,345.8 71.5,345.7 72.0,345.7 72.5,345.6 73.0,345.5 73.5,345.4 74.0,345.3 74.5,345.1 75.0,344.9 75.5,344.6 76.0,344.3 76.5,344.0 77.0,343.5 77.5,343.0 78.0,342.4 78.5,341.8 79.0,341.1 79.5,340.3 80.0,339.5 80.5,338.6 81.0,337.7 81.5,336.7 82.0,335.7 82.5,334.6 83.0,333.5 83.5,332.3 84.0,331.1 84.5,329.8 85.0,328.5 85.5,327.1 86.0,325.8 86.5,324.3 87.0,322.9 87.5,321.4 88.0,319.9 88.5,318.4 89.0,316.8 89.5,315.2 90.0,313.6 90.5,312.0 91.0,310.4 91.5,308.7 92.0,307.1 92.5,305.4 93.0,303.8 93.5,302.2 94.0,300.5 94.5,298.9 95.0,297.3 95.5,295.8 96.0,294.2 96.5,292.7 97.0,291.3 97.5,289.9 98.0,288.5 98.5,287.2 99.0,285.9 99.5,284.6 100.0,283.4 100.5,282.3 101.0,281.1 101.5,280.0 102.0,279.0 102.5,278.0 103.0,277.0 103.5,276.0 104.0,275.1 104.5,274.2 105.0,273.4 105.5,272.5 106.0,271.8 106.5,271.0 107.0,270.3 107.5,269.6 108.0,268.9 108.5,268.3 109.0,267.6 109.5,267.0 110.0,266.5 110.5,265.9 111.0,265.4 111.5,264.9 112.0,264.4 112.5,264.0 113.0,263.5 113.5,263.1 114.0,262.7 114.5,262.3 115.0,262.0 115.5,261.7 116.0,261.3 116.5,261.0 117.0,260.8 117.5,260.5 118.0,260.3 118.5,260.0 119.0,259.8 119.5,259.7 120.0,259.5 120.5,259.3 121.0,259.2 121.5,259.1 122.0,258.9 122.5,258.9 123.0,258.8 123.5,258.7 124.0,258.7 124.5,258.6 125.0,258.6 125.5,258.6 126.0,258.6 126.5,258.6 127.0,258.6 127.5,258.6 128.0,258.7 128.5,258.8 129.0,258.8 129.5,258.9 130.0,259.0 130.5,259.1 131.0,259.2 131.5,259.3 132.0,259.5 132.5,259.6 133.0,259.8 133.5,259.9 134.0,260.1 134.5,260.3 135.0,260.5 135.5,260.7 136.0,260.9 136.5,261.1 137.0,261.3 137.5,261.6 138.0,261.8 138.5,262.1 139.0,262.3 139.5,262.6 140.0,262.9 140.5,263.1 141.0,263.4 141.5,263.7 142.0,264.0 142.5,264.3 143.0,264.6 143.5,265.0 144.0,265.3 144.5,265.6 145.0,265.9 145.5,266.3 146.0,266.6 146.5,267.0 147.0,267.3 147.5,267.7 148.0,268.0 148.5,268.4 149.0,268.8 149.5,269.2 150.0,269.5 150.5,269.9 151.0,270.3 151.5,270.7 152.0,271.1 152.5,271.5 153.0,271.9 153.5,272.3 154.0,272.7 154.5,273.1 155.0,273.5 155.5,273.9 156.0,274.3 156.5,274.7 157.0,275.1 157.5,275.5 158.0,275.9 158.5,276.3 159.0,276.7 159.5,277.1 160.0,277.6 160.5,278.0 161.0,278.4 161.5,278.8 162.0,279.2 162.5,279.6 163.0,280.1 163.5,280.5 164.0,280.9 164.5,281.3 165.0,281.8 165.5,282.2 166.0,282.6 166.5,283.0 167.0,283.5 167.5,283.9 168.0,284.3 168.5,284.7 169.0,285.2 169.5,285.6 170.0,286.0 170.5,286.4 171.0,286.9 171.5,287.3 172.0,287.7 172.5,288.2 173.0,288.6 173.5,289.0 174.0,289.4 174.5,289.9 175.0,290.3 175.5,290.7 176.0,291.1 176.5,291.6 177.0,292.0 177.5,292.4 178.0,292.9 178.5,293.3 179.0,293.7 179.5,294.1 180.0,294.6 180.5,295.0 181.0,295.4 181.5,295.8 182.0,296.2 182.5,296.7 183.0,297.1 183.5,297.5 184.0,297.9 184.5,298.3 185.0,298.8 185.5,299.2 186.0,299.6 186.5,300.0 187.0,300.4 187.5,300.8 188.0,301.2 188.5,301.6 189.0,302.1 189.5,302.5 190.0,302.9 190.5,303.3 191.0,303.7 191.5,304.1 192.0,304.5 192.5,304.9 193.0,305.3 193.5,305.7 194.0,306.1 194.5,306.5 195.0,306.9 195.5,307.3 196.0,307.7 196.5,308.1 197.0,308.5 197.5,308.9 198.0,309.2 198.5,309.6 199.0,310.0 199.5,310.4 200.0,310.8 200.5,311.2 201.0,311.6 201.5,312.0 202.0,312.3 202.5,312.7 203.0,313.1 203.5,313.5 204.0,313.9 204.5,314.3 205.0,314.6 205.5,315.0 206.0,315.4 206.5,315.8 207.0,316.1 207.5,316.5 208.0,316.9 208.5,317.3 209.0,317.6 209.5,318.0 210.0,318.4 210.5,318.7 211.0,319.1 211.5,319.5 212.0,319.8 212.5,320.2 213.0,320.6 213.5,320.9 214.0,321.3 214.5,321.7 215.0,322.0 215.5,322.4 216.0,322.7 216.5,323.1 217.0,323.5 217.5,323.8 218.0,324.2 218.5,324.5 219.0,324.9 219.5,325.2 220.0,325.6 220.5,325.9 221.0,326.3 221.5,326.6 222.0,327.0 222.5,327.3 223.0,327.7 223.5,328.0 224.0,328.4 224.5,328.7 225.0,329.0 225.5,329.4 226.0,329.7 226.5,330.1 227.0,330.4 227.5,330.7 228.0,331.1 228.5,331.4 229.0,331.7 229.5,332.1 230.0,332.4 230.5,332.7 231.0,333.1 231.5,333.4 232.0,333.7 232.5,334.0 233.0,334.4 233.5,334.7 234.0,335.0 234.5,335.3 235.0,335.7 235.5,336.0 236.0,336.3 236.5,336.6 237.0,336.9 237.5,337.2 238.0,337.5 238.5,337.8 239.0,338.2 239.5,338.5 240.0,338.8 240.5,339.1 241.0,339.4 241.5,339.7 242.0,340.0 242.5,340.3 243.0,340.6 243.5,340.9 244.0,341.2 244.5,341.5 245.0,341.8 245.5,342.0 246.0,342.3 246.5,342.6 247.0,342.9 247.5,343.2 248.0,343.5 248.5,343.8 249.0,344.0 249.5,344.3 250.0,344.6 250.5,344.9 251.0,345.1 251.5,345.4 252.0,345.7 252.5,346.0 253.0,346.2 253.5,346.5 254.0,346.8 254.5,347.0 255.0,347.3 255.5,347.5 256.0,347.8 256.5,348.1 257.0,348.3 257.5,348.6 258.0,348.8 258.5,349.1 259.0,349.3 259.5,349.6 260.0,349.8 260.5,350.0 261.0,350.3 261.5,350.5 262.0,350.8 262.5,351.0 263.0,351.2 263.5,351.5 264.0,351.7 264.5,351.9 265.0,352.1 265.5,352.4 266.0,352.6 266.5,352.8 267.0,353.0 267.5,353.3 268.0,353.5 268.5,353.7 269.0,353.9 269.5,354.1 270.0,354.3 270.5,354.5 271.0,354.7 271.5,354.9 272.0,355.1 272.5,355.3 273.0,355.5 273.3,355.6" fill="none" stroke="#141414" stroke-width="1.70" stroke-linejoin="round"/>
<path d="M42.0,353.3 42.5,353.0 43.0,352.6 43.5,352.3 44.0,352.0 44.5,351.7 45.0,351.3 45.5,351.0 46.0,350.7 46.5,350.4 47.0,350.1 47.5,349.7 48.0,349.4 48.5,349.1 49.0,348.7 49.5,348.3 50.0,348.0 50.5,347.6 51.0,347.2 51.5,346.9 52.0,346.6 52.5,346.2 53.0,346.0 53.5,345.7 54.0,345.4 54.5,345.1 55.0,344.7 55.5,344.2 56.0,343.5 56.5,342.6 57.0,341.5 57.5,340.3 58.0,338.8 58.5,337.2 59.0,335.4 59.5,333.5 60.0,331.4 60.5,329.1 61.0,326.8 61.5,324.3 62.0,321.7 62.5,318.9 63.0,316.1 63.5,313.2 64.0,310.3 64.5,307.3 65.0,304.3 65.5,301.4 66.0,298.4 66.5,295.5 67.0,292.6 67.5,289.8 68.0,287.1 68.5,284.5 69.0,282.1 69.5,279.7 70.0,277.6 70.5,275.6 71.0,273.7 71.5,271.9 72.0,270.3 72.5,268.8 73.0,267.5 73.5,266.2 74.0,265.1 74.5,264.1 75.0,263.2 75.5,262.3 76.0,261.6 76.5,261.0 77.0,260.5 77.5,260.0 78.0,259.6 78.5,259.3 79.0,259.1 79.5,258.9 80.0,258.8 80.5,258.8 81.0,258.8 81.5,258.8 82.0,258.9 82.5,259.1 83.0,259.3 83.5,259.5 84.0,259.8 84.5,260.1 85.0,260.4 85.5,260.8 86.0,261.2 86.5,261.6 87.0,262.1 87.5,262.6 88.0,263.1 88.5,263.6 89.0,264.2 89.5,264.8 90.0,265.4 90.5,266.1 91.0,266.7 91.5,267.4 92.0,268.1 92.5,268.8 93.0,269.6 93.5,270.3 94.0,271.1 94.5,271.9 95.0,272.7 95.5,273.5 96.0,274.3 96.5,275.1 97.0,275.9 97.5,276.8 98.0,277.6 98.5,278.5 99.0,279.3 99.5,280.2 100.0,281.0 100.5,281.9 101.0,282.8 101.5,283.6 102.0,284.5 102.5,285.4 103.0,286.3 103.5,287.2 104.0,288.0 104.5,288.9 105.0,289.8 105.5,290.7 106.0,291.5 106.5,292.4 107.0,293.3 107.5,294.1 108.0,295.0 108.5,295.9 109.0,296.7 109.5,297.6 110.0,298.4 110.5,299.2 111.0,300.1 111.5,300.9 112.0,301.7 112.5,302.5 113.0,303.3 113.5,304.1 114.0,304.9 114.5,305.7 115.0,306.4 115.5,307.2 116.0,308.0 116.5,308.7 117.0,309.5 117.5,310.2 118.0,311.0 118.5,311.7 119.0,312.5 119.5,313.2 120.0,313.9 120.5,314.7 121.0,315.4 121.5,316.1 122.0,316.8 122.5,317.5 123.0,318.2 123.5,318.9 124.0,319.6 124.5,320.3 125.0,321.0 125.5,321.7 126.0,322.4 126.5,323.1 127.0,323.8 127.5,324.5 128.0,325.2 128.5,325.9 129.0,326.5 129.5,327.2 130.0,327.9 130.5,328.5 131.0,329.2 131.5,329.9 132.0,330.5 132.5,331.2 133.0,331.8 133.5,332.5 134.0,333.1 134.5,333.8 135.0,334.4 135.5,335.1 136.0,335.7 136.5,336.3 137.0,337.0 137.5,337.6 138.0,338.2 138.5,338.8 139.0,339.4 139.5,340.1 140.0,340.7 140.5,341.3 141.0,341.9 141.5,342.5 142.0,343.1 142.5,343.7 143.0,344.2 143.5,344.8 144.0,345.4 144.5,346.0 145.0,346.6 145.5,347.1 146.0,347.7 146.5,348.3 147.0,348.8 147.5,349.4 148.0,349.9 148.5,350.5 149.0,351.0 149.5,351.6 150.0,352.1 150.5,352.6 151.0,353.2 151.5,353.7 152.0,354.2 152.5,354.7 153.0,355.2 153.5,355.7 154.0,356.2 154.5,356.7 155.0,357.2 155.5,357.7 156.0,358.2 156.5,358.7 157.0,359.2 157.5,359.7 158.0,360.1 158.5,360.6 159.0,361.1 159.5,361.5 160.0,362.0 160.5,362.4 161.0,362.9 161.5,363.3 162.0,363.8 162.5,364.2 163.0,364.6 163.5,365.1 164.0,365.5 164.5,365.9 165.0,366.3 165.5,366.8 166.0,367.2 166.5,367.6 167.0,368.0 167.5,368.4 168.0,368.8 168.5,369.2 169.0,369.6 169.5,370.0 170.0,370.4 170.5,370.8 171.0,371.2 171.5,371.5 172.0,371.9 172.5,372.3 173.0,372.7 173.5,373.0 174.0,373.4 174.5,373.8 175.0,374.1 175.5,374.5 176.0,374.8 176.5,375.2 177.0,375.5 177.5,375.9 178.0,376.2 178.5,376.6 179.0,376.9 179.5,377.2 180.0,377.6 180.5,377.9 181.0,378.2 181.5,378.6 182.0,378.9 182.5,379.2 183.0,379.5 183.5,379.9 184.0,380.2 184.5,380.5 185.0,380.8 185.5,381.1 186.0,381.4 186.5,381.7 187.0,382.0 187.5,382.3 188.0,382.6 188.5,382.9 189.0,383.2 189.5,383.5 190.0,383.8 190.5,384.1 191.0,384.4 191.5,384.7 192.0,385.0 192.5,385.3 193.0,385.5 193.5,385.8 194.0,386.1 194.5,386.4 195.0,386.7 195.5,386.9 196.0,387.2 196.5,387.5 197.0,387.7 197.5,388.0 198.0,388.3 198.5,388.6 199.0,388.8 199.5,389.1 200.0,389.3 200.5,389.6 201.0,389.9 201.5,390.1 202.0,390.4 202.5,390.7 203.0,390.9 203.5,391.2 204.0,391.4 204.5,391.7 205.0,391.9 205.5,392.2 206.0,392.4 206.5,392.7 207.0,392.9 207.5,393.2 208.0,393.4 208.5,393.7 209.0,393.9 209.5,394.2 210.0,394.4 210.5,394.7 211.0,394.9 211.5,395.2 212.0,395.4 212.5,395.7 213.0,395.9 213.5,396.2 214.0,396.4 214.5,396.7 215.0,396.9 215.5,397.1 216.0,397.4 216.5,397.6 217.0,397.9 217.5,398.1 218.0,398.4 218.5,398.6 219.0,398.8 219.5,399.1 220.0,399.3 220.5,399.6 221.0,399.8 221.5,400.0 222.0,400.3 222.5,400.5 223.0,400.7 223.5,401.0 224.0,401.2 224.5,401.4 225.0,401.7 225.5,401.9 226.0,402.1 226.5,402.4 227.0,402.6 227.5,402.8 228.0,403.1 228.5,403.3 229.0,403.5 229.5,403.7 230.0,404.0 230.5,404.2 231.0,404.4 231.5,404.6 232.0,404.9 232.5,405.1 233.0,405.3 233.5,405.5 234.0,405.7 234.5,405.9 235.0,406.2 235.5,406.4 236.0,406.6 236.5,406.8 237.0,407.0 237.5,407.2 238.0,407.4 238.5,407.6 239.0,407.8 239.5,408.0 240.0,408.2 240.5,408.4 241.0,408.6 241.5,408.8 242.0,409.0 242.5,409.2 243.0,409.4 243.5,409.6 244.0,409.8 244.5,410.0 245.0,410.2 245.5,410.4 246.0,410.5 246.5,410.7 247.0,410.9 247.5,411.1 248.0,411.3 248.5,411.4 249.0,411.6 249.5,411.8 250.0,412.0 250.5,412.1 251.0,412.3 251.5,412.5 252.0,412.6 252.5,412.8 253.0,413.0 253.5,413.1 254.0,413.3 254.5,413.4 255.0,413.6 255.5,413.8 256.0,413.9 256.5,414.1 257.0,414.2 257.5,414.3 258.0,414.5 258.5,414.6 259.0,414.8 259.5,414.9 260.0,415.0 260.5,415.2 261.0,415.3 261.5,415.4 262.0,415.6 262.5,415.7 263.0,415.8 263.5,415.9 264.0,416.1 264.5,416.2 265.0,416.3 265.5,416.4 266.0,416.5 266.5,416.6 267.0,416.7 267.5,416.8 268.0,416.9 268.5,417.0 269.0,417.1 269.5,417.2 270.0,417.3 270.5,417.4 271.0,417.5 271.5,417.6 272.0,417.7 272.5,417.8 273.0,417.8 273.3,417.9" fill="none" stroke="#ff1a1a" stroke-width="2.00" stroke-dasharray="6.2 4.8" stroke-linejoin="round"/>
<path d="M42.0,353.7 42.5,352.7 43.0,351.9 43.5,351.2 44.0,350.6 44.5,350.1 45.0,349.6 45.5,349.1 46.0,348.7 46.5,348.2 47.0,347.8 47.5,347.2 48.0,346.7 48.5,346.0 49.0,345.3 49.5,344.4 50.0,343.3 50.5,342.0 51.0,340.3 51.5,338.1 52.0,335.4 52.5,332.2 53.0,328.4 53.5,324.3 54.0,319.8 54.5,315.2 55.0,310.6 55.5,306.0 56.0,301.5 56.5,297.1 57.0,292.9 57.5,288.8 58.0,284.9 58.5,281.2 59.0,277.7 59.5,274.5 60.0,271.6 60.5,269.0 61.0,266.7 61.5,264.8 62.0,263.2 62.5,261.9 63.0,260.9 63.5,260.2 64.0,259.6 64.5,259.3 65.0,259.1 65.5,259.1 66.0,259.2 66.5,259.4 67.0,259.6 67.5,259.9 68.0,260.2 68.5,260.6 69.0,261.0 69.5,261.5 70.0,262.0 70.5,262.6 71.0,263.2 71.5,263.9 72.0,264.7 72.5,265.5 73.0,266.4 73.5,267.4 74.0,268.5 74.5,269.7 75.0,270.9 75.5,272.3 76.0,273.6 76.5,275.1 77.0,276.5 77.5,278.0 78.0,279.5 78.5,281.0 79.0,282.5 79.5,284.0 80.0,285.5 80.5,287.0 81.0,288.4 81.5,289.8 82.0,291.2 82.5,292.5 83.0,293.7 83.5,294.9 84.0,296.1 84.5,297.3 85.0,298.4 85.5,299.5 86.0,300.5 86.5,301.6 87.0,302.6 87.5,303.6 88.0,304.6 88.5,305.6 89.0,306.6 89.5,307.6 90.0,308.7 90.5,309.7 91.0,310.7 91.5,311.7 92.0,312.8 92.5,313.8 93.0,314.8 93.5,315.9 94.0,316.9 94.5,317.9 95.0,318.9 95.5,319.9 96.0,320.9 96.5,321.9 97.0,322.9 97.5,323.9 98.0,324.9 98.5,325.9 99.0,326.8 99.5,327.8 100.0,328.8 100.5,329.7 101.0,330.7 101.5,331.6 102.0,332.5 102.5,333.4 103.0,334.4 103.5,335.3 104.0,336.2 104.5,337.1 105.0,338.0 105.5,338.8 106.0,339.7 106.5,340.6 107.0,341.4 107.5,342.3 108.0,343.1 108.5,343.9 109.0,344.8 109.5,345.6 110.0,346.4 110.5,347.2 111.0,348.0 111.5,348.8 112.0,349.5 112.5,350.3 113.0,351.1 113.5,351.8 114.0,352.6 114.5,353.3 115.0,354.0 115.5,354.8 116.0,355.5 116.5,356.2 117.0,356.9 117.5,357.6 118.0,358.3 118.5,359.0 119.0,359.6 119.5,360.3 120.0,361.0 120.5,361.6 121.0,362.3 121.5,362.9 122.0,363.6 122.5,364.2 123.0,364.8 123.5,365.4 124.0,366.1 124.5,366.7 125.0,367.3 125.5,367.9 126.0,368.5 126.5,369.0 127.0,369.6 127.5,370.2 128.0,370.8 128.5,371.3 129.0,371.9 129.5,372.5 130.0,373.0 130.5,373.6 131.0,374.1 131.5,374.6 132.0,375.2 132.5,375.7 133.0,376.2 133.5,376.7 134.0,377.3 134.5,377.8 135.0,378.3 135.5,378.8 136.0,379.2 136.5,379.7 137.0,380.2 137.5,380.7 138.0,381.2 138.5,381.6 139.0,382.1 139.5,382.6 140.0,383.0 140.5,383.5 141.0,383.9 141.5,384.3 142.0,384.8 142.5,385.2 143.0,385.6 143.5,386.1 144.0,386.5 144.5,386.9 145.0,387.3 145.5,387.7 146.0,388.1 146.5,388.6 147.0,389.0 147.5,389.4 148.0,389.8 148.5,390.2 149.0,390.6 149.5,391.0 150.0,391.4 150.5,391.8 151.0,392.1 151.5,392.5 152.0,392.9 152.5,393.3 153.0,393.7 153.5,394.1 154.0,394.5 154.5,394.9 155.0,395.3 155.5,395.7 156.0,396.1 156.5,396.4 157.0,396.8 157.5,397.2 158.0,397.6 158.5,398.0 159.0,398.4 159.5,398.7 160.0,399.1 160.5,399.5 161.0,399.9 161.5,400.2 162.0,400.6 162.5,401.0 163.0,401.3 163.5,401.7 164.0,402.0 164.5,402.4 165.0,402.7 165.5,403.1 166.0,403.4 166.5,403.8 167.0,404.1 167.5,404.4 168.0,404.8 168.5,405.1 169.0,405.4 169.5,405.7 170.0,406.0 170.5,406.3 171.0,406.6 171.5,406.9 172.0,407.2 172.5,407.5 173.0,407.8 173.5,408.0 174.0,408.3 174.5,408.6 175.0,408.9 175.5,409.1 176.0,409.4 176.5,409.6 177.0,409.9 177.5,410.2 178.0,410.4 178.5,410.7 179.0,410.9 179.5,411.2 180.0,411.4 180.5,411.6 181.0,411.9 181.5,412.1 182.0,412.4 182.5,412.6 183.0,412.8 183.5,413.1 184.0,413.3 184.5,413.5 185.0,413.8 185.5,414.0 186.0,414.2 186.5,414.5 187.0,414.7 187.5,414.9 188.0,415.2 188.5,415.4 189.0,415.6 189.5,415.8 190.0,416.1 190.5,416.3 191.0,416.5 191.5,416.8 192.0,417.0 192.5,417.2 193.0,417.4 193.5,417.6 194.0,417.9 194.5,418.1 195.0,418.3 195.5,418.5 196.0,418.7 196.5,419.0 197.0,419.2 197.5,419.4 198.0,419.6 198.5,419.8 199.0,420.0 199.5,420.2 200.0,420.4 200.5,420.6 201.0,420.8 201.5,421.1 202.0,421.3 202.5,421.5 203.0,421.7 203.5,421.9 204.0,422.1 204.5,422.3 205.0,422.5 205.5,422.7 206.0,422.9 206.5,423.0 207.0,423.2 207.5,423.4 208.0,423.6 208.5,423.8 209.0,424.0 209.5,424.2 210.0,424.4 210.5,424.5 211.0,424.7 211.5,424.9 212.0,425.1 212.5,425.3 213.0,425.4 213.5,425.6 214.0,425.8 214.5,425.9 215.0,426.1 215.5,426.3 216.0,426.4 216.5,426.6 217.0,426.8 217.5,426.9 218.0,427.1 218.5,427.3 219.0,427.4 219.5,427.6 220.0,427.7 220.5,427.9 221.0,428.0 221.5,428.2 222.0,428.3 222.5,428.5 223.0,428.6 223.5,428.8 224.0,428.9 224.5,429.1 225.0,429.2 225.5,429.3 226.0,429.5 226.5,429.6 227.0,429.8 227.5,429.9 228.0,430.0 228.5,430.2 229.0,430.3 229.5,430.4 230.0,430.6 230.5,430.7 231.0,430.8 231.5,430.9 232.0,431.1 232.5,431.2 233.0,431.3 233.5,431.4 234.0,431.6 234.5,431.7 235.0,431.8 235.5,431.9 236.0,432.0 236.5,432.2 237.0,432.3 237.5,432.4 238.0,432.5 238.5,432.6 239.0,432.7 239.5,432.9 240.0,433.0 240.5,433.1 241.0,433.2 241.5,433.3 242.0,433.4 242.5,433.5 243.0,433.6 243.5,433.7 244.0,433.9 244.5,434.0 245.0,434.1 245.5,434.2 246.0,434.3 246.5,434.4 247.0,434.5 247.5,434.6 248.0,434.7 248.5,434.8 249.0,434.9 249.5,435.0 250.0,435.1 250.5,435.2 251.0,435.3 251.5,435.4 252.0,435.5 252.5,435.6 253.0,435.7 253.5,435.8 254.0,435.9 254.5,436.0 255.0,436.1 255.5,436.2 256.0,436.3 256.5,436.4 257.0,436.5 257.5,436.6 258.0,436.7 258.5,436.8 259.0,436.9 259.5,437.0 260.0,437.0 260.5,437.1 261.0,437.2 261.5,437.3 262.0,437.4 262.5,437.5 263.0,437.6 263.5,437.7 264.0,437.8 264.5,437.9 265.0,438.0 265.5,438.1 266.0,438.2 266.5,438.3 267.0,438.4 267.5,438.5 268.0,438.6 268.5,438.7 269.0,438.8 269.5,438.8 270.0,438.9 270.5,439.0 271.0,439.1 271.5,439.2 272.0,439.3 272.5,439.4 273.0,439.5 273.3,439.6" fill="none" stroke="#2233a0" stroke-width="1.80" stroke-dasharray="5.8 1.5 2.4 1.5" stroke-linejoin="round"/>
</g>
<rect x="42.00" y="254.50" width="231.30" height="188.80" fill="none" stroke="#9a9a9a" stroke-width="1.1"/>
<path d="M42.00,443.30v-2.40M42.00,254.50v2.40" stroke="#9a9a9a" stroke-width="1"/>
<path d="M99.83,443.30v-2.40M99.83,254.50v2.40" stroke="#9a9a9a" stroke-width="1"/>
<path d="M157.65,443.30v-2.40M157.65,254.50v2.40" stroke="#9a9a9a" stroke-width="1"/>
<path d="M215.48,443.30v-2.40M215.48,254.50v2.40" stroke="#9a9a9a" stroke-width="1"/>
<path d="M273.30,443.30v-2.40M273.30,254.50v2.40" stroke="#9a9a9a" stroke-width="1"/>
<path d="M42.00,443.30h2.40M273.30,443.30h-2.40" stroke="#9a9a9a" stroke-width="1"/>
<path d="M42.00,401.25h2.40M273.30,401.25h-2.40" stroke="#9a9a9a" stroke-width="1"/>
<path d="M42.00,359.20h2.40M273.30,359.20h-2.40" stroke="#9a9a9a" stroke-width="1"/>
<path d="M42.00,317.15h2.40M273.30,317.15h-2.40" stroke="#9a9a9a" stroke-width="1"/>
<path d="M42.00,275.10h2.40M273.30,275.10h-2.40" stroke="#9a9a9a" stroke-width="1"/>
<text transform="translate(99.83,462.90) scale(1.060,1)" font-size="14.00" text-anchor="middle" font-family="Liberation Sans" fill="#262626" stroke="#262626" stroke-width="0.20" >1</text>
<text transform="translate(157.65,462.90) scale(1.060,1)" font-size="14.00" text-anchor="middle" font-family="Liberation Sans" fill="#262626" stroke="#262626" stroke-width="0.20" >2</text>
<text transform="translate(215.48,462.90) scale(1.060,1)" font-size="14.00" text-anchor="middle" font-family="Liberation Sans" fill="#262626" stroke="#262626" stroke-width="0.20" >3</text>
<text transform="translate(273.30,462.90) scale(1.060,1)" font-size="14.00" text-anchor="middle" font-family="Liberation Sans" fill="#262626" stroke="#262626" stroke-width="0.20" >4</text>
<text transform="translate(36.40,448.70) scale(1.060,1)" font-size="14.00" text-anchor="end" font-family="Liberation Sans" fill="#262626" stroke="#262626" stroke-width="0.20" >1</text>
<text transform="translate(36.40,406.65) scale(1.060,1)" font-size="14.00" text-anchor="end" font-family="Liberation Sans" fill="#262626" stroke="#262626" stroke-width="0.20" >2</text>
<text transform="translate(36.40,364.60) scale(1.060,1)" font-size="14.00" text-anchor="end" font-family="Liberation Sans" fill="#262626" stroke="#262626" stroke-width="0.20" >3</text>
<text transform="translate(36.40,322.55) scale(1.060,1)" font-size="14.00" text-anchor="end" font-family="Liberation Sans" fill="#262626" stroke="#262626" stroke-width="0.20" >4</text>
<text transform="translate(36.40,280.50) scale(1.060,1)" font-size="14.00" text-anchor="end" font-family="Liberation Sans" fill="#262626" stroke="#262626" stroke-width="0.20" >5</text>
<text transform="translate(157.65,480.80) scale(1.060,1)" font-size="13.00" text-anchor="middle" font-family="Liberation Sans" fill="#262626" stroke="#262626" stroke-width="0.20" ><tspan font-style="italic">z</tspan>(m)</text>
<text transform="translate(22.40,348.10) rotate(-90) scale(1.170,1)" font-size="12.6" text-anchor="middle" font-family="Liberation Sans" fill="#262626" stroke="#262626" stroke-width="0.20"><tspan font-style="italic">I</tspan>(z,0)</text>
<text transform="translate(18.10,476.90) scale(1.100,1)" font-size="14.50" text-anchor="start" font-family="Liberation Serif" fill="#262626" stroke="#262626" stroke-width="0.20" >(b1)</text>
<path d="M48.30,388.30H69.50" stroke="#141414" stroke-width="1.70"/>
<text transform="translate(72.50,390.60) scale(1.030,1)" font-size="9.80" text-anchor="start" font-family="Liberation Sans" fill="#262626" stroke="#262626" stroke-width="0.20" ><tspan font-style="italic">&#946;</tspan><tspan dy="5.46" font-size="7.80">2</tspan><tspan dy="-5.46">=25ps<tspan dy="-4.51" font-size="8.20">2</tspan><tspan dy="4.51">/km</tspan></tspan></text>
<path d="M48.30,408.70H69.50" stroke="#ff1a1a" stroke-width="2.00" stroke-dasharray="6.2 4.8"/>
<text transform="translate(72.50,411.00) scale(1.030,1)" font-size="9.80" text-anchor="start" font-family="Liberation Sans" fill="#262626" stroke="#262626" stroke-width="0.20" ><tspan font-style="italic">&#946;</tspan><tspan dy="5.46" font-size="7.80">2</tspan><tspan dy="-5.46">=50ps<tspan dy="-4.51" font-size="8.20">2</tspan><tspan dy="4.51">/km</tspan></tspan></text>
<path d="M48.30,429.00H69.50" stroke="#2233a0" stroke-width="1.80" stroke-dasharray="5.8 1.5 2.4 1.5"/>
<text transform="translate(72.50,431.30) scale(1.030,1)" font-size="9.80" text-anchor="start" font-family="Liberation Sans" fill="#262626" stroke="#262626" stroke-width="0.20" ><tspan font-style="italic">&#946;</tspan><tspan dy="5.46" font-size="7.80">2</tspan><tspan dy="-5.46">=75ps<tspan dy="-4.51" font-size="8.20">2</tspan><tspan dy="4.51">/km</tspan></tspan></text>
<clipPath id="clip_b2"><rect x="320.50" y="255.80" width="221.50" height="183.50"/></clipPath>
<g clip-path="url(#clip_b2)">
<path d="M320.5,423.0 321.0,422.9 321.5,422.7 322.0,422.6 322.5,422.4 323.0,422.2 323.5,422.1 324.0,421.9 324.5,421.7 325.0,421.6 325.5,421.4 326.0,421.3 326.5,421.1 327.0,420.9 327.5,420.8 328.0,420.6 328.5,420.4 329.0,420.3 329.5,420.1 330.0,419.9 330.5,419.8 331.0,419.6 331.5,419.4 332.0,419.3 332.5,419.1 333.0,418.9 333.5,418.7 334.0,418.6 334.5,418.4 335.0,418.2 335.5,418.0 336.0,417.9 336.5,417.7 337.0,417.5 337.5,417.3 338.0,417.1 338.5,416.9 339.0,416.8 339.5,416.6 340.0,416.4 340.5,416.2 341.0,416.0 341.5,415.8 342.0,415.6 342.5,415.4 343.0,415.2 343.5,415.0 344.0,414.8 344.5,414.6 345.0,414.3 345.5,414.1 346.0,413.9 346.5,413.7 347.0,413.5 347.5,413.2 348.0,413.0 348.5,412.8 349.0,412.6 349.5,412.3 350.0,412.1 350.5,411.9 351.0,411.6 351.5,411.4 352.0,411.1 352.5,410.9 353.0,410.6 353.5,410.4 354.0,410.1 354.5,409.8 355.0,409.6 355.5,409.3 356.0,409.0 356.5,408.7 357.0,408.5 357.5,408.2 358.0,407.9 358.5,407.6 359.0,407.3 359.5,407.0 360.0,406.7 360.5,406.4 361.0,406.1 361.5,405.8 362.0,405.5 362.5,405.1 363.0,404.8 363.5,404.5 364.0,404.1 364.5,403.8 365.0,403.5 365.5,403.1 366.0,402.8 366.5,402.4 367.0,402.1 367.5,401.7 368.0,401.3 368.5,400.9 369.0,400.6 369.5,400.2 370.0,399.8 370.5,399.4 371.0,399.0 371.5,398.6 372.0,398.2 372.5,397.8 373.0,397.4 373.5,396.9 374.0,396.5 374.5,396.1 375.0,395.7 375.5,395.2 376.0,394.8 376.5,394.3 377.0,393.8 377.5,393.4 378.0,392.9 378.5,392.4 379.0,392.0 379.5,391.5 380.0,391.0 380.5,390.5 381.0,390.0 381.5,389.5 382.0,388.9 382.5,388.4 383.0,387.9 383.5,387.3 384.0,386.8 384.5,386.2 385.0,385.7 385.5,385.1 386.0,384.5 386.5,383.9 387.0,383.3 387.5,382.7 388.0,382.1 388.5,381.4 389.0,380.8 389.5,380.1 390.0,379.5 390.5,378.8 391.0,378.1 391.5,377.4 392.0,376.7 392.5,376.0 393.0,375.3 393.5,374.5 394.0,373.8 394.5,373.0 395.0,372.2 395.5,371.5 396.0,370.7 396.5,369.9 397.0,369.1 397.5,368.3 398.0,367.5 398.5,366.7 399.0,365.9 399.5,365.0 400.0,364.2 400.5,363.4 401.0,362.6 401.5,361.8 402.0,361.0 402.5,360.3 403.0,359.5 403.5,358.7 404.0,357.9 404.5,357.2 405.0,356.4 405.5,355.7 406.0,355.0 406.5,354.3 407.0,353.6 407.5,352.9 408.0,352.3 408.5,351.8 409.0,351.3 409.5,350.8 410.0,350.4 410.5,350.1 411.0,349.9 411.5,349.7 412.0,349.5 412.5,349.3 413.0,349.2 413.5,349.1 414.0,349.0 414.5,348.9 415.0,348.8 415.5,348.8 416.0,348.7 416.5,348.7 417.0,348.7 417.5,348.7 418.0,348.7 418.5,348.7 419.0,348.7 419.5,348.7 420.0,348.7 420.5,348.6 421.0,348.5 421.5,348.3 422.0,347.9 422.5,347.5 423.0,346.8 423.5,346.0 424.0,345.0 424.5,343.8 425.0,342.3 425.5,340.6 426.0,338.6 426.5,336.3 427.0,333.7 427.5,330.9 428.0,327.9 428.5,324.7 429.0,321.4 429.5,317.9 430.0,314.3 430.5,310.7 431.0,307.2 431.5,303.6 432.0,300.1 432.5,296.8 433.0,293.5 433.5,290.4 434.0,287.5 434.5,284.9 435.0,282.4 435.5,280.2 436.0,278.3 436.5,276.6 437.0,275.1 437.5,273.8 438.0,272.7 438.5,271.9 439.0,271.2 439.5,270.7 440.0,270.4 440.5,270.3 441.0,270.4 441.5,270.6 442.0,271.1 442.5,271.7 443.0,272.5 443.5,273.5 444.0,274.6 444.5,275.9 445.0,277.4 445.5,279.0 446.0,280.8 446.5,282.7 447.0,284.8 447.5,286.9 448.0,289.2 448.5,291.6 449.0,294.0 449.5,296.6 450.0,299.2 450.5,301.8 451.0,304.5 451.5,307.3 452.0,310.1 452.5,312.9 453.0,315.7 453.5,318.5 454.0,321.3 454.5,324.1 455.0,327.0 455.5,329.8 456.0,332.6 456.5,335.4 457.0,338.1 457.5,340.9 458.0,343.6 458.5,346.3 459.0,348.9 459.5,351.5 460.0,354.1 460.5,356.6 461.0,359.0 461.5,361.4 462.0,363.8 462.5,366.0 463.0,368.2 463.5,370.3 464.0,372.4 464.5,374.4 465.0,376.2 465.5,378.0 466.0,379.8 466.5,381.4 467.0,383.0 467.5,384.5 468.0,385.9 468.5,387.3 469.0,388.7 469.5,390.0 470.0,391.2 470.5,392.4 471.0,393.6 471.5,394.8 472.0,395.9 472.5,397.0 473.0,398.1 473.5,399.2 474.0,400.2 474.5,401.2 475.0,402.2 475.5,403.2 476.0,404.1 476.5,405.1 477.0,405.9 477.5,406.8 478.0,407.7 478.5,408.5 479.0,409.3 479.5,410.1 480.0,410.9 480.5,411.6 481.0,412.3 481.5,413.0 482.0,413.7 482.5,414.4 483.0,415.1 483.5,415.7 484.0,416.3 484.5,416.9 485.0,417.5 485.5,418.1 486.0,418.6 486.5,419.2 487.0,419.7 487.5,420.2 488.0,420.7 488.5,421.1 489.0,421.6 489.5,422.1 490.0,422.5 490.5,422.9 491.0,423.3 491.5,423.7 492.0,424.1 492.5,424.5 493.0,424.8 493.5,425.2 494.0,425.5 494.5,425.8 495.0,426.1 495.5,426.4 496.0,426.7 496.5,427.0 497.0,427.2 497.5,427.5 498.0,427.8 498.5,428.0 499.0,428.2 499.5,428.4 500.0,428.7 500.5,428.9 501.0,429.1 501.5,429.3 502.0,429.4 502.5,429.6 503.0,429.8 503.5,430.0 504.0,430.1 504.5,430.3 505.0,430.4 505.5,430.6 506.0,430.7 506.5,430.8 507.0,431.0 507.5,431.1 508.0,431.2 508.5,431.3 509.0,431.4 509.5,431.6 510.0,431.7 510.5,431.8 511.0,431.9 511.5,432.0 512.0,432.1 512.5,432.2 513.0,432.3 513.5,432.4 514.0,432.5 514.5,432.6 515.0,432.7 515.5,432.8 516.0,432.9 516.5,433.0 517.0,433.1 517.5,433.2 518.0,433.2 518.5,433.3 519.0,433.4 519.5,433.5 520.0,433.6 520.5,433.7 521.0,433.8 521.5,433.9 522.0,434.0 522.5,434.0 523.0,434.1 523.5,434.2 524.0,434.3 524.5,434.4 525.0,434.4 525.5,434.5 526.0,434.6 526.5,434.7 527.0,434.7 527.5,434.8 528.0,434.9 528.5,434.9 529.0,435.0 529.5,435.1 530.0,435.1 530.5,435.2 531.0,435.2 531.5,435.3 532.0,435.3 532.5,435.4 533.0,435.4 533.5,435.5 534.0,435.5 534.5,435.6 535.0,435.6 535.5,435.7 536.0,435.7 536.5,435.7 537.0,435.8 537.5,435.8 538.0,435.8 538.5,435.9 539.0,435.9 539.5,435.9 540.0,435.9 540.5,435.9 541.0,435.9 541.5,436.0 542.0,436.0" fill="none" stroke="#141414" stroke-width="1.70" stroke-linejoin="round"/>
<path d="M320.5,420.9 321.0,420.7 321.5,420.6 322.0,420.4 322.5,420.3 323.0,420.1 323.5,420.0 324.0,419.8 324.5,419.6 325.0,419.5 325.5,419.3 326.0,419.2 326.5,419.0 327.0,418.9 327.5,418.8 328.0,418.6 328.5,418.5 329.0,418.3 329.5,418.2 330.0,418.0 330.5,417.9 331.0,417.7 331.5,417.6 332.0,417.4 332.5,417.3 333.0,417.2 333.5,417.0 334.0,416.9 334.5,416.7 335.0,416.6 335.5,416.4 336.0,416.3 336.5,416.1 337.0,416.0 337.5,415.8 338.0,415.7 338.5,415.5 339.0,415.3 339.5,415.2 340.0,415.0 340.5,414.8 341.0,414.7 341.5,414.5 342.0,414.3 342.5,414.2 343.0,414.0 343.5,413.8 344.0,413.6 344.5,413.4 345.0,413.3 345.5,413.1 346.0,412.9 346.5,412.7 347.0,412.5 347.5,412.3 348.0,412.1 348.5,411.8 349.0,411.6 349.5,411.4 350.0,411.2 350.5,411.0 351.0,410.7 351.5,410.5 352.0,410.2 352.5,410.0 353.0,409.8 353.5,409.5 354.0,409.2 354.5,409.0 355.0,408.7 355.5,408.4 356.0,408.1 356.5,407.9 357.0,407.6 357.5,407.3 358.0,407.0 358.5,406.6 359.0,406.3 359.5,406.0 360.0,405.7 360.5,405.3 361.0,405.0 361.5,404.7 362.0,404.3 362.5,403.9 363.0,403.6 363.5,403.2 364.0,402.8 364.5,402.4 365.0,402.0 365.5,401.6 366.0,401.2 366.5,400.8 367.0,400.4 367.5,399.9 368.0,399.5 368.5,399.1 369.0,398.7 369.5,398.2 370.0,397.8 370.5,397.4 371.0,397.0 371.5,396.6 372.0,396.1 372.5,395.7 373.0,395.3 373.5,394.9 374.0,394.6 374.5,394.2 375.0,393.8 375.5,393.5 376.0,393.1 376.5,392.8 377.0,392.5 377.5,392.2 378.0,391.9 378.5,391.6 379.0,391.4 379.5,391.2 380.0,390.9 380.5,390.7 381.0,390.6 381.5,390.4 382.0,390.3 382.5,390.1 383.0,390.0 383.5,390.0 384.0,389.9 384.5,389.9 385.0,389.8 385.5,389.8 386.0,389.8 386.5,389.9 387.0,389.9 387.5,390.0 388.0,390.0 388.5,390.1 389.0,390.1 389.5,390.1 390.0,390.1 390.5,390.0 391.0,389.9 391.5,389.8 392.0,389.6 392.5,389.4 393.0,389.1 393.5,388.8 394.0,388.4 394.5,388.0 395.0,387.5 395.5,386.9 396.0,386.3 396.5,385.6 397.0,384.9 397.5,384.1 398.0,383.2 398.5,382.3 399.0,381.3 399.5,380.2 400.0,379.1 400.5,377.9 401.0,376.6 401.5,375.3 402.0,373.9 402.5,372.4 403.0,370.8 403.5,369.1 404.0,367.4 404.5,365.6 405.0,363.7 405.5,361.8 406.0,359.8 406.5,357.7 407.0,355.7 407.5,353.7 408.0,351.8 408.5,349.9 409.0,348.0 409.5,346.1 410.0,344.2 410.5,342.2 411.0,340.2 411.5,338.0 412.0,335.7 412.5,333.4 413.0,330.9 413.5,328.4 414.0,325.8 414.5,323.2 415.0,320.6 415.5,317.9 416.0,315.3 416.5,312.7 417.0,310.0 417.5,307.5 418.0,305.0 418.5,302.6 419.0,300.3 419.5,298.1 420.0,296.1 420.5,294.2 421.0,292.6 421.5,291.1 422.0,289.9 422.5,288.8 423.0,287.8 423.5,287.0 424.0,286.2 424.5,285.6 425.0,285.1 425.5,284.6 426.0,284.3 426.5,284.0 427.0,283.8 427.5,283.7 428.0,283.7 428.5,283.8 429.0,283.9 429.5,284.2 430.0,284.4 430.5,284.8 431.0,285.3 431.5,285.8 432.0,286.4 432.5,287.0 433.0,287.8 433.5,288.6 434.0,289.5 434.5,290.4 435.0,291.5 435.5,292.6 436.0,293.8 436.5,295.1 437.0,296.4 437.5,297.9 438.0,299.4 438.5,301.0 439.0,302.6 439.5,304.4 440.0,306.2 440.5,308.1 441.0,310.1 441.5,312.2 442.0,314.4 442.5,316.7 443.0,319.0 443.5,321.4 444.0,323.9 444.5,326.4 445.0,329.0 445.5,331.7 446.0,334.3 446.5,337.0 447.0,339.7 447.5,342.4 448.0,345.0 448.5,347.7 449.0,350.3 449.5,352.8 450.0,355.4 450.5,357.8 451.0,360.2 451.5,362.5 452.0,364.8 452.5,367.0 453.0,369.1 453.5,371.2 454.0,373.3 454.5,375.2 455.0,377.2 455.5,379.0 456.0,380.9 456.5,382.6 457.0,384.3 457.5,386.0 458.0,387.6 458.5,389.2 459.0,390.7 459.5,392.2 460.0,393.6 460.5,395.0 461.0,396.4 461.5,397.7 462.0,398.9 462.5,400.1 463.0,401.3 463.5,402.5 464.0,403.6 464.5,404.6 465.0,405.6 465.5,406.6 466.0,407.6 466.5,408.5 467.0,409.4 467.5,410.2 468.0,411.1 468.5,411.8 469.0,412.6 469.5,413.3 470.0,414.0 470.5,414.7 471.0,415.3 471.5,416.0 472.0,416.6 472.5,417.1 473.0,417.7 473.5,418.2 474.0,418.7 474.5,419.2 475.0,419.6 475.5,420.1 476.0,420.5 476.5,420.9 477.0,421.3 477.5,421.7 478.0,422.0 478.5,422.4 479.0,422.7 479.5,423.0 480.0,423.3 480.5,423.6 481.0,423.9 481.5,424.2 482.0,424.4 482.5,424.7 483.0,424.9 483.5,425.2 484.0,425.4 484.5,425.7 485.0,425.9 485.5,426.1 486.0,426.3 486.5,426.5 487.0,426.8 487.5,427.0 488.0,427.2 488.5,427.4 489.0,427.5 489.5,427.7 490.0,427.9 490.5,428.1 491.0,428.3 491.5,428.4 492.0,428.6 492.5,428.7 493.0,428.9 493.5,429.0 494.0,429.2 494.5,429.3 495.0,429.5 495.5,429.6 496.0,429.7 496.5,429.9 497.0,430.0 497.5,430.1 498.0,430.2 498.5,430.4 499.0,430.5 499.5,430.6 500.0,430.7 500.5,430.8 501.0,430.9 501.5,431.0 502.0,431.1 502.5,431.2 503.0,431.3 503.5,431.4 504.0,431.5 504.5,431.6 505.0,431.7 505.5,431.8 506.0,431.9 506.5,431.9 507.0,432.0 507.5,432.1 508.0,432.2 508.5,432.3 509.0,432.4 509.5,432.4 510.0,432.5 510.5,432.6 511.0,432.7 511.5,432.8 512.0,432.8 512.5,432.9 513.0,433.0 513.5,433.1 514.0,433.1 514.5,433.2 515.0,433.3 515.5,433.4 516.0,433.5 516.5,433.5 517.0,433.6 517.5,433.7 518.0,433.8 518.5,433.8 519.0,433.9 519.5,434.0 520.0,434.1 520.5,434.1 521.0,434.2 521.5,434.3 522.0,434.3 522.5,434.4 523.0,434.5 523.5,434.5 524.0,434.6 524.5,434.7 525.0,434.7 525.5,434.8 526.0,434.9 526.5,434.9 527.0,435.0 527.5,435.0 528.0,435.1 528.5,435.2 529.0,435.2 529.5,435.3 530.0,435.3 530.5,435.4 531.0,435.4 531.5,435.5 532.0,435.5 532.5,435.6 533.0,435.6 533.5,435.6 534.0,435.7 534.5,435.7 535.0,435.7 535.5,435.8 536.0,435.8 536.5,435.8 537.0,435.9 537.5,435.9 538.0,435.9 538.5,435.9 539.0,435.9 539.5,436.0 540.0,436.0 540.5,436.0 541.0,436.0 541.5,436.0 542.0,436.0" fill="none" stroke="#ff1a1a" stroke-width="2.00" stroke-dasharray="6.2 4.8" stroke-linejoin="round"/>
<path d="M320.5,419.9 321.0,419.7 321.5,419.5 322.0,419.2 322.5,419.0 323.0,418.8 323.5,418.6 324.0,418.3 324.5,418.1 325.0,417.9 325.5,417.6 326.0,417.4 326.5,417.2 327.0,416.9 327.5,416.7 328.0,416.4 328.5,416.2 329.0,415.9 329.5,415.7 330.0,415.4 330.5,415.2 331.0,414.9 331.5,414.7 332.0,414.5 332.5,414.2 333.0,414.0 333.5,413.7 334.0,413.5 334.5,413.3 335.0,413.0 335.5,412.8 336.0,412.6 336.5,412.3 337.0,412.1 337.5,411.9 338.0,411.7 338.5,411.5 339.0,411.3 339.5,411.1 340.0,410.9 340.5,410.7 341.0,410.5 341.5,410.3 342.0,410.2 342.5,410.0 343.0,409.8 343.5,409.7 344.0,409.5 344.5,409.4 345.0,409.3 345.5,409.2 346.0,409.0 346.5,408.9 347.0,408.8 347.5,408.7 348.0,408.7 348.5,408.6 349.0,408.5 349.5,408.5 350.0,408.4 350.5,408.4 351.0,408.4 351.5,408.4 352.0,408.4 352.5,408.4 353.0,408.4 353.5,408.4 354.0,408.4 354.5,408.5 355.0,408.5 355.5,408.6 356.0,408.6 356.5,408.7 357.0,408.8 357.5,408.9 358.0,409.0 358.5,409.1 359.0,409.2 359.5,409.3 360.0,409.4 360.5,409.5 361.0,409.6 361.5,409.8 362.0,409.9 362.5,410.1 363.0,410.2 363.5,410.4 364.0,410.5 364.5,410.7 365.0,410.8 365.5,411.0 366.0,411.1 366.5,411.3 367.0,411.4 367.5,411.5 368.0,411.6 368.5,411.6 369.0,411.7 369.5,411.7 370.0,411.7 370.5,411.7 371.0,411.7 371.5,411.6 372.0,411.4 372.5,411.3 373.0,411.1 373.5,410.9 374.0,410.6 374.5,410.3 375.0,409.9 375.5,409.5 376.0,409.0 376.5,408.5 377.0,407.9 377.5,407.2 378.0,406.5 378.5,405.8 379.0,405.0 379.5,404.1 380.0,403.2 380.5,402.2 381.0,401.2 381.5,400.1 382.0,399.1 382.5,398.0 383.0,396.9 383.5,395.8 384.0,394.7 384.5,393.6 385.0,392.6 385.5,391.5 386.0,390.4 386.5,389.4 387.0,388.3 387.5,387.2 388.0,386.1 388.5,385.0 389.0,383.9 389.5,382.7 390.0,381.5 390.5,380.3 391.0,379.1 391.5,377.8 392.0,376.5 392.5,375.2 393.0,373.9 393.5,372.5 394.0,371.2 394.5,369.8 395.0,368.4 395.5,366.9 396.0,365.5 396.5,364.0 397.0,362.5 397.5,361.0 398.0,359.5 398.5,358.0 399.0,356.5 399.5,355.0 400.0,353.4 400.5,351.8 401.0,350.3 401.5,348.7 402.0,347.1 402.5,345.5 403.0,343.9 403.5,342.3 404.0,340.8 404.5,339.2 405.0,337.6 405.5,336.1 406.0,334.5 406.5,333.0 407.0,331.6 407.5,330.1 408.0,328.8 408.5,327.4 409.0,326.1 409.5,324.9 410.0,323.8 410.5,322.7 411.0,321.6 411.5,320.6 412.0,319.7 412.5,318.9 413.0,318.0 413.5,317.3 414.0,316.5 414.5,315.8 415.0,315.2 415.5,314.6 416.0,314.0 416.5,313.4 417.0,312.9 417.5,312.4 418.0,312.0 418.5,311.6 419.0,311.2 419.5,310.9 420.0,310.6 420.5,310.4 421.0,310.2 421.5,310.1 422.0,310.1 422.5,310.1 423.0,310.1 423.5,310.2 424.0,310.4 424.5,310.6 425.0,310.9 425.5,311.3 426.0,311.7 426.5,312.1 427.0,312.6 427.5,313.1 428.0,313.6 428.5,314.2 429.0,314.9 429.5,315.5 430.0,316.2 430.5,316.9 431.0,317.7 431.5,318.4 432.0,319.2 432.5,320.1 433.0,320.9 433.5,321.8 434.0,322.7 434.5,323.7 435.0,324.7 435.5,325.7 436.0,326.8 436.5,327.8 437.0,329.0 437.5,330.1 438.0,331.3 438.5,332.5 439.0,333.8 439.5,335.0 440.0,336.4 440.5,337.7 441.0,339.1 441.5,340.6 442.0,342.0 442.5,343.5 443.0,345.1 443.5,346.7 444.0,348.3 444.5,349.9 445.0,351.6 445.5,353.3 446.0,355.0 446.5,356.8 447.0,358.5 447.5,360.3 448.0,362.1 448.5,363.9 449.0,365.6 449.5,367.4 450.0,369.2 450.5,371.0 451.0,372.8 451.5,374.5 452.0,376.3 452.5,378.0 453.0,379.7 453.5,381.4 454.0,383.1 454.5,384.7 455.0,386.3 455.5,387.8 456.0,389.4 456.5,390.9 457.0,392.3 457.5,393.7 458.0,395.1 458.5,396.4 459.0,397.7 459.5,399.0 460.0,400.2 460.5,401.4 461.0,402.5 461.5,403.6 462.0,404.7 462.5,405.8 463.0,406.8 463.5,407.8 464.0,408.7 464.5,409.7 465.0,410.5 465.5,411.4 466.0,412.2 466.5,413.1 467.0,413.8 467.5,414.6 468.0,415.3 468.5,416.0 469.0,416.7 469.5,417.3 470.0,418.0 470.5,418.6 471.0,419.1 471.5,419.7 472.0,420.2 472.5,420.7 473.0,421.2 473.5,421.7 474.0,422.2 474.5,422.6 475.0,423.0 475.5,423.4 476.0,423.8 476.5,424.2 477.0,424.5 477.5,424.9 478.0,425.2 478.5,425.5 479.0,425.8 479.5,426.1 480.0,426.3 480.5,426.6 481.0,426.9 481.5,427.1 482.0,427.3 482.5,427.6 483.0,427.8 483.5,428.0 484.0,428.2 484.5,428.4 485.0,428.6 485.5,428.8 486.0,429.0 486.5,429.2 487.0,429.4 487.5,429.5 488.0,429.7 488.5,429.9 489.0,430.0 489.5,430.2 490.0,430.3 490.5,430.5 491.0,430.6 491.5,430.7 492.0,430.9 492.5,431.0 493.0,431.1 493.5,431.2 494.0,431.4 494.5,431.5 495.0,431.6 495.5,431.7 496.0,431.8 496.5,431.9 497.0,432.0 497.5,432.1 498.0,432.2 498.5,432.3 499.0,432.4 499.5,432.5 500.0,432.5 500.5,432.6 501.0,432.7 501.5,432.8 502.0,432.9 502.5,432.9 503.0,433.0 503.5,433.1 504.0,433.1 504.5,433.2 505.0,433.3 505.5,433.3 506.0,433.4 506.5,433.5 507.0,433.5 507.5,433.6 508.0,433.7 508.5,433.7 509.0,433.8 509.5,433.8 510.0,433.9 510.5,434.0 511.0,434.0 511.5,434.1 512.0,434.1 512.5,434.2 513.0,434.3 513.5,434.3 514.0,434.4 514.5,434.5 515.0,434.5 515.5,434.6 516.0,434.6 516.5,434.7 517.0,434.8 517.5,434.8 518.0,434.9 518.5,435.0 519.0,435.0 519.5,435.1 520.0,435.1 520.5,435.2 521.0,435.3 521.5,435.3 522.0,435.4 522.5,435.4 523.0,435.5 523.5,435.6 524.0,435.6 524.5,435.7 525.0,435.7 525.5,435.8 526.0,435.8 526.5,435.9 527.0,435.9 527.5,436.0 528.0,436.0 528.5,436.1 529.0,436.1 529.5,436.2 530.0,436.2 530.5,436.2 531.0,436.3 531.5,436.3 532.0,436.3 532.5,436.4 533.0,436.4 533.5,436.4 534.0,436.4 534.5,436.5 535.0,436.5 535.5,436.5 536.0,436.5 536.5,436.5 537.0,436.5 537.5,436.5 538.0,436.5 538.5,436.5 539.0,436.5 539.5,436.5 540.0,436.5 540.5,436.5 541.0,436.5 541.5,436.4 542.0,436.4" fill="none" stroke="#2233a0" stroke-width="1.80" stroke-dasharray="5.8 1.5 2.4 1.5" stroke-linejoin="round"/>
</g>
<rect x="320.50" y="256.80" width="221.50" height="182.50" fill="none" stroke="#9a9a9a" stroke-width="1.1"/>
<path d="M320.50,439.30v-2.40M320.50,256.80v2.40" stroke="#9a9a9a" stroke-width="1"/>
<path d="M375.88,439.30v-2.40M375.88,256.80v2.40" stroke="#9a9a9a" stroke-width="1"/>
<path d="M431.25,439.30v-2.40M431.25,256.80v2.40" stroke="#9a9a9a" stroke-width="1"/>
<path d="M486.62,439.30v-2.40M486.62,256.80v2.40" stroke="#9a9a9a" stroke-width="1"/>
<path d="M542.00,439.30v-2.40M542.00,256.80v2.40" stroke="#9a9a9a" stroke-width="1"/>
<path d="M320.50,439.30h2.40M542.00,439.30h-2.40" stroke="#9a9a9a" stroke-width="1"/>
<path d="M320.50,408.88h2.40M542.00,408.88h-2.40" stroke="#9a9a9a" stroke-width="1"/>
<path d="M320.50,378.47h2.40M542.00,378.47h-2.40" stroke="#9a9a9a" stroke-width="1"/>
<path d="M320.50,348.05h2.40M542.00,348.05h-2.40" stroke="#9a9a9a" stroke-width="1"/>
<path d="M320.50,317.63h2.40M542.00,317.63h-2.40" stroke="#9a9a9a" stroke-width="1"/>
<path d="M320.50,287.22h2.40M542.00,287.22h-2.40" stroke="#9a9a9a" stroke-width="1"/>
<path d="M320.50,256.80h2.40M542.00,256.80h-2.40" stroke="#9a9a9a" stroke-width="1"/>
<text transform="translate(320.50,458.90) scale(1.060,1)" font-size="14.00" text-anchor="middle" font-family="Liberation Sans" fill="#262626" stroke="#262626" stroke-width="0.20" >-2</text>
<text transform="translate(375.88,458.90) scale(1.060,1)" font-size="14.00" text-anchor="middle" font-family="Liberation Sans" fill="#262626" stroke="#262626" stroke-width="0.20" >-1</text>
<text transform="translate(431.25,458.90) scale(1.060,1)" font-size="14.00" text-anchor="middle" font-family="Liberation Sans" fill="#262626" stroke="#262626" stroke-width="0.20" >0</text>
<text transform="translate(486.62,458.90) scale(1.060,1)" font-size="14.00" text-anchor="middle" font-family="Liberation Sans" fill="#262626" stroke="#262626" stroke-width="0.20" >1</text>
<text transform="translate(542.00,458.90) scale(1.060,1)" font-size="14.00" text-anchor="middle" font-family="Liberation Sans" fill="#262626" stroke="#262626" stroke-width="0.20" >2</text>
<text transform="translate(314.90,444.70) scale(1.060,1)" font-size="14.00" text-anchor="end" font-family="Liberation Sans" fill="#262626" stroke="#262626" stroke-width="0.20" >0</text>
<text transform="translate(314.90,414.28) scale(1.060,1)" font-size="14.00" text-anchor="end" font-family="Liberation Sans" fill="#262626" stroke="#262626" stroke-width="0.20" >1</text>
<text transform="translate(314.90,383.87) scale(1.060,1)" font-size="14.00" text-anchor="end" font-family="Liberation Sans" fill="#262626" stroke="#262626" stroke-width="0.20" >2</text>
<text transform="translate(314.90,353.45) scale(1.060,1)" font-size="14.00" text-anchor="end" font-family="Liberation Sans" fill="#262626" stroke="#262626" stroke-width="0.20" >3</text>
<text transform="translate(314.90,323.03) scale(1.060,1)" font-size="14.00" text-anchor="end" font-family="Liberation Sans" fill="#262626" stroke="#262626" stroke-width="0.20" >4</text>
<text transform="translate(314.90,292.62) scale(1.060,1)" font-size="14.00" text-anchor="end" font-family="Liberation Sans" fill="#262626" stroke="#262626" stroke-width="0.20" >5</text>
<text transform="translate(314.90,262.20) scale(1.060,1)" font-size="14.00" text-anchor="end" font-family="Liberation Sans" fill="#262626" stroke="#262626" stroke-width="0.20" >6</text>
<text transform="translate(431.25,476.80) scale(1.060,1)" font-size="13.00" text-anchor="middle" font-family="Liberation Sans" fill="#262626" stroke="#262626" stroke-width="0.20" ><tspan font-style="italic">t</tspan>(ps)</text>
<text transform="translate(302.70,347.25) rotate(-90) scale(1.170,1)" font-size="12.6" text-anchor="middle" font-family="Liberation Sans" fill="#262626" stroke="#262626" stroke-width="0.20"><tspan font-style="italic">I</tspan>(<tspan font-style="italic">t</tspan>,z=1m)</text>
<text transform="translate(299.00,480.50) scale(1.100,1)" font-size="14.50" text-anchor="start" font-family="Liberation Serif" fill="#262626" stroke="#262626" stroke-width="0.20" >(b2)</text>
<path d="M456.60,270.30H476.70" stroke="#141414" stroke-width="1.70"/>
<text transform="translate(480.30,272.60) scale(1.020,1)" font-size="9.80" text-anchor="start" font-family="Liberation Sans" fill="#262626" stroke="#262626" stroke-width="0.20" ><tspan font-style="italic">&#946;</tspan><tspan dy="5.46" font-size="7.80">2</tspan><tspan dy="-5.46">=25ps<tspan dy="-4.51" font-size="8.20">2</tspan><tspan dy="4.51">/km</tspan></tspan></text>
<path d="M456.60,289.20H476.70" stroke="#ff1a1a" stroke-width="2.00" stroke-dasharray="6.2 4.8"/>
<text transform="translate(480.30,291.50) scale(1.020,1)" font-size="9.80" text-anchor="start" font-family="Liberation Sans" fill="#262626" stroke="#262626" stroke-width="0.20" ><tspan font-style="italic">&#946;</tspan><tspan dy="5.46" font-size="7.80">2</tspan><tspan dy="-5.46">=50ps<tspan dy="-4.51" font-size="8.20">2</tspan><tspan dy="4.51">/km</tspan></tspan></text>
<path d="M456.60,308.30H476.70" stroke="#2233a0" stroke-width="1.80" stroke-dasharray="5.8 1.5 2.4 1.5"/>
<text transform="translate(480.30,310.60) scale(1.020,1)" font-size="9.80" text-anchor="start" font-family="Liberation Sans" fill="#262626" stroke="#262626" stroke-width="0.20" ><tspan font-style="italic">&#946;</tspan><tspan dy="5.46" font-size="7.80">2</tspan><tspan dy="-5.46">=75ps<tspan dy="-4.51" font-size="8.20">2</tspan><tspan dy="4.51">/km</tspan></tspan></text>
<clipPath id="clip_c1"><rect x="42.60" y="493.20" width="226.60" height="185.80"/></clipPath>
<g clip-path="url(#clip_c1)">
<path d="M42.7,611.0 43.2,609.3 43.7,607.9 44.2,606.8 44.7,605.7 45.2,604.9 45.7,604.1 46.2,603.5 46.7,602.8 47.2,602.0 47.7,601.1 48.2,599.9 48.7,598.5 49.2,596.6 49.7,594.4 50.2,592.0 50.7,589.2 51.2,586.3 51.7,583.2 52.2,580.1 52.7,576.9 53.2,573.7 53.7,570.6 54.2,567.6 54.7,564.8 55.2,562.1 55.7,559.6 56.2,557.3 56.7,555.2 57.2,553.2 57.7,551.4 58.2,549.7 58.7,548.2 59.2,546.8 59.7,545.5 60.2,544.4 60.7,543.3 61.2,542.5 61.7,541.7 62.2,541.0 62.7,540.5 63.2,540.0 63.7,539.7 64.2,539.4 64.7,539.3 65.2,539.2 65.7,539.2 66.2,539.2 66.7,539.4 67.2,539.6 67.7,539.9 68.2,540.2 68.7,540.6 69.2,541.0 69.7,541.5 70.2,542.0 70.7,542.6 71.2,543.3 71.7,543.9 72.2,544.7 72.7,545.4 73.2,546.2 73.7,547.0 74.2,547.9 74.7,548.8 75.2,549.7 75.7,550.6 76.2,551.5 76.7,552.5 77.2,553.5 77.7,554.5 78.2,555.5 78.7,556.5 79.2,557.5 79.7,558.5 80.2,559.5 80.7,560.5 81.2,561.5 81.7,562.5 82.2,563.5 82.7,564.5 83.2,565.4 83.7,566.4 84.2,567.4 84.7,568.3 85.2,569.3 85.7,570.2 86.2,571.1 86.7,572.1 87.2,573.0 87.7,573.9 88.2,574.8 88.7,575.7 89.2,576.6 89.7,577.4 90.2,578.3 90.7,579.2 91.2,580.0 91.7,580.8 92.2,581.7 92.7,582.5 93.2,583.3 93.7,584.1 94.2,584.9 94.7,585.7 95.2,586.4 95.7,587.2 96.2,587.9 96.7,588.7 97.2,589.4 97.7,590.1 98.2,590.8 98.7,591.5 99.2,592.2 99.7,592.9 100.2,593.6 100.7,594.2 101.2,594.9 101.7,595.5 102.2,596.2 102.7,596.8 103.2,597.5 103.7,598.1 104.2,598.7 104.7,599.3 105.2,599.9 105.7,600.5 106.2,601.1 106.7,601.7 107.2,602.2 107.7,602.8 108.2,603.4 108.7,603.9 109.2,604.5 109.7,605.0 110.2,605.6 110.7,606.1 111.2,606.7 111.7,607.2 112.2,607.7 112.7,608.3 113.2,608.8 113.7,609.3 114.2,609.8 114.7,610.3 115.2,610.8 115.7,611.3 116.2,611.9 116.7,612.4 117.2,612.9 117.7,613.4 118.2,613.9 118.7,614.4 119.2,614.8 119.7,615.3 120.2,615.8 120.7,616.3 121.2,616.8 121.7,617.3 122.2,617.8 122.7,618.3 123.2,618.8 123.7,619.3 124.2,619.8 124.7,620.3 125.2,620.8 125.7,621.3 126.2,621.8 126.7,622.3 127.2,622.8 127.7,623.3 128.2,623.8 128.7,624.2 129.2,624.7 129.7,625.2 130.2,625.7 130.7,626.2 131.2,626.7 131.7,627.2 132.2,627.6 132.7,628.1 133.2,628.6 133.7,629.1 134.2,629.5 134.7,630.0 135.2,630.4 135.7,630.9 136.2,631.3 136.7,631.8 137.2,632.2 137.7,632.7 138.2,633.1 138.7,633.5 139.2,633.9 139.7,634.3 140.2,634.7 140.7,635.1 141.2,635.5 141.7,635.9 142.2,636.3 142.7,636.7 143.2,637.0 143.7,637.4 144.2,637.8 144.7,638.1 145.2,638.5 145.7,638.8 146.2,639.2 146.7,639.5 147.2,639.8 147.7,640.2 148.2,640.5 148.7,640.8 149.2,641.1 149.7,641.4 150.2,641.7 150.7,642.1 151.2,642.4 151.7,642.7 152.2,643.0 152.7,643.3 153.2,643.5 153.7,643.8 154.2,644.1 154.7,644.4 155.2,644.7 155.7,645.0 156.2,645.2 156.7,645.5 157.2,645.8 157.7,646.0 158.2,646.3 158.7,646.6 159.2,646.8 159.7,647.1 160.2,647.3 160.7,647.6 161.2,647.8 161.7,648.1 162.2,648.3 162.7,648.6 163.2,648.8 163.7,649.1 164.2,649.3 164.7,649.5 165.2,649.8 165.7,650.0 166.2,650.2 166.7,650.4 167.2,650.7 167.7,650.9 168.2,651.1 168.7,651.3 169.2,651.5 169.7,651.7 170.2,652.0 170.7,652.2 171.2,652.4 171.7,652.6 172.2,652.8 172.7,653.0 173.2,653.2 173.7,653.4 174.2,653.6 174.7,653.8 175.2,653.9 175.7,654.1 176.2,654.3 176.7,654.5 177.2,654.7 177.7,654.9 178.2,655.1 178.7,655.2 179.2,655.4 179.7,655.6 180.2,655.8 180.7,655.9 181.2,656.1 181.7,656.3 182.2,656.4 182.7,656.6 183.2,656.8 183.7,656.9 184.2,657.1 184.7,657.3 185.2,657.4 185.7,657.6 186.2,657.7 186.7,657.9 187.2,658.0 187.7,658.2 188.2,658.3 188.7,658.5 189.2,658.6 189.7,658.8 190.2,658.9 190.7,659.1 191.2,659.2 191.7,659.4 192.2,659.5 192.7,659.7 193.2,659.8 193.7,659.9 194.2,660.1 194.7,660.2 195.2,660.4 195.7,660.5 196.2,660.6 196.7,660.8 197.2,660.9 197.7,661.0 198.2,661.2 198.7,661.3 199.2,661.4 199.7,661.6 200.2,661.7 200.7,661.8 201.2,661.9 201.7,662.1 202.2,662.2 202.7,662.3 203.2,662.4 203.7,662.6 204.2,662.7 204.7,662.8 205.2,662.9 205.7,663.1 206.2,663.2 206.7,663.3 207.2,663.4 207.7,663.5 208.2,663.7 208.7,663.8 209.2,663.9 209.7,664.0 210.2,664.1 210.7,664.3 211.2,664.4 211.7,664.5 212.2,664.6 212.7,664.7 213.2,664.9 213.7,665.0 214.2,665.1 214.7,665.2 215.2,665.3 215.7,665.5 216.2,665.6 216.7,665.7 217.2,665.8 217.7,665.9 218.2,666.0 218.7,666.1 219.2,666.3 219.7,666.4 220.2,666.5 220.7,666.6 221.2,666.7 221.7,666.8 222.2,666.9 222.7,667.1 223.2,667.2 223.7,667.3 224.2,667.4 224.7,667.5 225.2,667.6 225.7,667.7 226.2,667.8 226.7,667.9 227.2,668.0 227.7,668.2 228.2,668.3 228.7,668.4 229.2,668.5 229.7,668.6 230.2,668.7 230.7,668.8 231.2,668.9 231.7,669.0 232.2,669.1 232.7,669.2 233.2,669.3 233.7,669.4 234.2,669.5 234.7,669.6 235.2,669.7 235.7,669.8 236.2,669.9 236.7,670.0 237.2,670.1 237.7,670.2 238.2,670.3 238.7,670.4 239.2,670.5 239.7,670.6 240.2,670.7 240.7,670.8 241.2,670.9 241.7,671.0 242.2,671.1 242.7,671.2 243.2,671.3 243.7,671.3 244.2,671.4 244.7,671.5 245.2,671.6 245.7,671.7 246.2,671.8 246.7,671.9 247.2,672.0 247.7,672.0 248.2,672.1 248.7,672.2 249.2,672.3 249.7,672.4 250.2,672.5 250.7,672.5 251.2,672.6 251.7,672.7 252.2,672.8 252.7,672.9 253.2,672.9 253.7,673.0 254.2,673.1 254.7,673.2 255.2,673.2 255.7,673.3 256.2,673.4 256.7,673.4 257.2,673.5 257.7,673.6 258.2,673.7 258.7,673.7 259.2,673.8 259.7,673.9 260.2,673.9 260.7,674.0 261.2,674.1 261.7,674.1 262.2,674.2 262.7,674.2 263.2,674.3 263.7,674.4 264.2,674.4 264.7,674.5 265.2,674.5 265.7,674.6 266.2,674.6 266.7,674.7 267.2,674.7 267.7,674.8 268.2,674.9 268.7,674.9 269.2,674.9" fill="none" stroke="#141414" stroke-width="1.70" stroke-linejoin="round"/>
<path d="M42.7,612.3 43.2,612.4 43.7,612.5 44.2,612.5 44.7,612.5 45.2,612.5 45.7,612.4 46.2,612.3 46.7,612.1 47.2,611.9 47.7,611.6 48.2,611.4 48.7,611.0 49.2,610.6 49.7,610.2 50.2,609.8 50.7,609.3 51.2,608.8 51.7,608.4 52.2,608.0 52.7,607.8 53.2,607.6 53.7,607.4 54.2,607.4 54.7,607.2 55.2,607.0 55.7,606.7 56.2,606.2 56.7,605.5 57.2,604.6 57.7,603.4 58.2,602.0 58.7,600.5 59.2,598.7 59.7,596.9 60.2,594.9 60.7,592.8 61.2,590.7 61.7,588.6 62.2,586.5 62.7,584.4 63.2,582.3 63.7,580.3 64.2,578.3 64.7,576.3 65.2,574.4 65.7,572.5 66.2,570.6 66.7,568.8 67.2,567.1 67.7,565.3 68.2,563.7 68.7,562.1 69.2,560.5 69.7,559.0 70.2,557.6 70.7,556.2 71.2,554.9 71.7,553.6 72.2,552.5 72.7,551.3 73.2,550.3 73.7,549.3 74.2,548.4 74.7,547.6 75.2,546.9 75.7,546.3 76.2,545.7 76.7,545.2 77.2,544.8 77.7,544.4 78.2,544.1 78.7,543.9 79.2,543.7 79.7,543.6 80.2,543.5 80.7,543.5 81.2,543.5 81.7,543.5 82.2,543.6 82.7,543.7 83.2,543.9 83.7,544.0 84.2,544.3 84.7,544.5 85.2,544.8 85.7,545.0 86.2,545.4 86.7,545.7 87.2,546.1 87.7,546.5 88.2,546.9 88.7,547.3 89.2,547.7 89.7,548.2 90.2,548.7 90.7,549.2 91.2,549.7 91.7,550.3 92.2,550.8 92.7,551.4 93.2,551.9 93.7,552.5 94.2,553.1 94.7,553.7 95.2,554.3 95.7,554.9 96.2,555.5 96.7,556.1 97.2,556.8 97.7,557.4 98.2,558.0 98.7,558.7 99.2,559.3 99.7,559.9 100.2,560.6 100.7,561.2 101.2,561.9 101.7,562.5 102.2,563.2 102.7,563.9 103.2,564.5 103.7,565.2 104.2,565.8 104.7,566.5 105.2,567.2 105.7,567.8 106.2,568.5 106.7,569.2 107.2,569.8 107.7,570.5 108.2,571.2 108.7,571.8 109.2,572.5 109.7,573.2 110.2,573.8 110.7,574.5 111.2,575.2 111.7,575.8 112.2,576.5 112.7,577.1 113.2,577.8 113.7,578.4 114.2,579.1 114.7,579.7 115.2,580.4 115.7,581.0 116.2,581.6 116.7,582.3 117.2,582.9 117.7,583.5 118.2,584.1 118.7,584.7 119.2,585.4 119.7,586.0 120.2,586.6 120.7,587.2 121.2,587.7 121.7,588.3 122.2,588.9 122.7,589.5 123.2,590.0 123.7,590.6 124.2,591.1 124.7,591.7 125.2,592.2 125.7,592.7 126.2,593.2 126.7,593.8 127.2,594.3 127.7,594.8 128.2,595.3 128.7,595.8 129.2,596.2 129.7,596.7 130.2,597.2 130.7,597.6 131.2,598.1 131.7,598.6 132.2,599.0 132.7,599.5 133.2,599.9 133.7,600.3 134.2,600.8 134.7,601.2 135.2,601.6 135.7,602.0 136.2,602.4 136.7,602.8 137.2,603.3 137.7,603.7 138.2,604.0 138.7,604.4 139.2,604.8 139.7,605.2 140.2,605.6 140.7,606.0 141.2,606.4 141.7,606.7 142.2,607.1 142.7,607.5 143.2,607.8 143.7,608.2 144.2,608.6 144.7,608.9 145.2,609.3 145.7,609.6 146.2,610.0 146.7,610.3 147.2,610.7 147.7,611.0 148.2,611.4 148.7,611.7 149.2,612.1 149.7,612.4 150.2,612.7 150.7,613.1 151.2,613.4 151.7,613.8 152.2,614.1 152.7,614.4 153.2,614.8 153.7,615.1 154.2,615.5 154.7,615.8 155.2,616.1 155.7,616.5 156.2,616.8 156.7,617.1 157.2,617.5 157.7,617.8 158.2,618.1 158.7,618.5 159.2,618.8 159.7,619.1 160.2,619.5 160.7,619.8 161.2,620.1 161.7,620.5 162.2,620.8 162.7,621.1 163.2,621.4 163.7,621.8 164.2,622.1 164.7,622.4 165.2,622.7 165.7,623.1 166.2,623.4 166.7,623.7 167.2,624.0 167.7,624.3 168.2,624.6 168.7,625.0 169.2,625.3 169.7,625.6 170.2,625.9 170.7,626.2 171.2,626.5 171.7,626.8 172.2,627.1 172.7,627.4 173.2,627.7 173.7,628.0 174.2,628.3 174.7,628.6 175.2,628.9 175.7,629.2 176.2,629.5 176.7,629.7 177.2,630.0 177.7,630.3 178.2,630.6 178.7,630.9 179.2,631.1 179.7,631.4 180.2,631.7 180.7,631.9 181.2,632.2 181.7,632.5 182.2,632.7 182.7,633.0 183.2,633.2 183.7,633.5 184.2,633.7 184.7,634.0 185.2,634.2 185.7,634.5 186.2,634.7 186.7,635.0 187.2,635.2 187.7,635.4 188.2,635.7 188.7,635.9 189.2,636.1 189.7,636.4 190.2,636.6 190.7,636.8 191.2,637.0 191.7,637.2 192.2,637.5 192.7,637.7 193.2,637.9 193.7,638.1 194.2,638.3 194.7,638.5 195.2,638.7 195.7,638.9 196.2,639.1 196.7,639.3 197.2,639.5 197.7,639.7 198.2,639.9 198.7,640.1 199.2,640.3 199.7,640.5 200.2,640.7 200.7,640.9 201.2,641.1 201.7,641.3 202.2,641.5 202.7,641.6 203.2,641.8 203.7,642.0 204.2,642.2 204.7,642.4 205.2,642.5 205.7,642.7 206.2,642.9 206.7,643.1 207.2,643.2 207.7,643.4 208.2,643.6 208.7,643.7 209.2,643.9 209.7,644.1 210.2,644.2 210.7,644.4 211.2,644.6 211.7,644.7 212.2,644.9 212.7,645.1 213.2,645.2 213.7,645.4 214.2,645.5 214.7,645.7 215.2,645.9 215.7,646.0 216.2,646.2 216.7,646.3 217.2,646.5 217.7,646.6 218.2,646.8 218.7,646.9 219.2,647.1 219.7,647.2 220.2,647.4 220.7,647.5 221.2,647.7 221.7,647.8 222.2,648.0 222.7,648.1 223.2,648.3 223.7,648.4 224.2,648.6 224.7,648.7 225.2,648.8 225.7,649.0 226.2,649.1 226.7,649.3 227.2,649.4 227.7,649.5 228.2,649.7 228.7,649.8 229.2,650.0 229.7,650.1 230.2,650.2 230.7,650.4 231.2,650.5 231.7,650.6 232.2,650.8 232.7,650.9 233.2,651.0 233.7,651.2 234.2,651.3 234.7,651.4 235.2,651.6 235.7,651.7 236.2,651.8 236.7,652.0 237.2,652.1 237.7,652.2 238.2,652.3 238.7,652.5 239.2,652.6 239.7,652.7 240.2,652.8 240.7,653.0 241.2,653.1 241.7,653.2 242.2,653.3 242.7,653.5 243.2,653.6 243.7,653.7 244.2,653.8 244.7,654.0 245.2,654.1 245.7,654.2 246.2,654.3 246.7,654.5 247.2,654.6 247.7,654.7 248.2,654.8 248.7,654.9 249.2,655.1 249.7,655.2 250.2,655.3 250.7,655.4 251.2,655.6 251.7,655.7 252.2,655.8 252.7,655.9 253.2,656.0 253.7,656.2 254.2,656.3 254.7,656.4 255.2,656.5 255.7,656.6 256.2,656.8 256.7,656.9 257.2,657.0 257.7,657.1 258.2,657.2 258.7,657.3 259.2,657.5 259.7,657.6 260.2,657.7 260.7,657.8 261.2,657.9 261.7,658.1 262.2,658.2 262.7,658.3 263.2,658.4 263.7,658.5 264.2,658.7 264.7,658.8 265.2,658.9 265.7,659.0 266.2,659.1 266.7,659.3 267.2,659.4 267.7,659.5 268.2,659.6 268.7,659.7 269.2,659.9" fill="none" stroke="#ff1a1a" stroke-width="2.00" stroke-dasharray="6.2 4.8" stroke-linejoin="round"/>
<path d="M42.7,612.8 43.2,613.1 43.7,613.3 44.2,613.4 44.7,613.5 45.2,613.6 45.7,613.6 46.2,613.6 46.7,613.6 47.2,613.5 47.7,613.4 48.2,613.3 48.7,613.1 49.2,613.0 49.7,612.8 50.2,612.5 50.7,612.3 51.2,612.1 51.7,611.8 52.2,611.5 52.7,611.3 53.2,611.0 53.7,610.7 54.2,610.4 54.7,610.1 55.2,609.8 55.7,609.5 56.2,609.3 56.7,609.0 57.2,608.7 57.7,608.5 58.2,608.2 58.7,608.0 59.2,607.9 59.7,607.7 60.2,607.7 60.7,607.6 61.2,607.7 61.7,607.7 62.2,607.9 62.7,608.1 63.2,608.4 63.7,608.7 64.2,608.9 64.7,609.0 65.2,608.7 65.7,608.2 66.2,607.2 66.7,605.7 67.2,603.7 67.7,601.2 68.2,598.4 68.7,595.7 69.2,593.1 69.7,590.6 70.2,588.1 70.7,585.7 71.2,583.2 71.7,580.7 72.2,578.1 72.7,575.4 73.2,572.6 73.7,569.7 74.2,566.5 74.7,563.3 75.2,560.0 75.7,556.6 76.2,553.4 76.7,550.2 77.2,547.1 77.7,544.2 78.2,541.4 78.7,538.8 79.2,536.5 79.7,534.4 80.2,532.5 80.7,530.8 81.2,529.3 81.7,527.9 82.2,526.7 82.7,525.7 83.2,524.8 83.7,524.0 84.2,523.3 84.7,522.6 85.2,522.1 85.7,521.6 86.2,521.2 86.7,520.8 87.2,520.5 87.7,520.2 88.2,520.1 88.7,519.9 89.2,519.8 89.7,519.8 90.2,519.8 90.7,519.8 91.2,519.9 91.7,520.0 92.2,520.2 92.7,520.4 93.2,520.7 93.7,521.0 94.2,521.3 94.7,521.8 95.2,522.3 95.7,522.9 96.2,523.5 96.7,524.3 97.2,525.1 97.7,525.9 98.2,526.8 98.7,527.7 99.2,528.5 99.7,529.4 100.2,530.3 100.7,531.1 101.2,532.0 101.7,532.8 102.2,533.6 102.7,534.4 103.2,535.3 103.7,536.1 104.2,536.9 104.7,537.7 105.2,538.6 105.7,539.4 106.2,540.2 106.7,541.1 107.2,541.9 107.7,542.8 108.2,543.6 108.7,544.5 109.2,545.3 109.7,546.2 110.2,547.1 110.7,547.9 111.2,548.8 111.7,549.7 112.2,550.6 112.7,551.5 113.2,552.3 113.7,553.2 114.2,554.1 114.7,555.0 115.2,555.9 115.7,556.9 116.2,557.8 116.7,558.7 117.2,559.6 117.7,560.5 118.2,561.5 118.7,562.4 119.2,563.3 119.7,564.2 120.2,565.2 120.7,566.1 121.2,567.1 121.7,568.0 122.2,569.0 122.7,569.9 123.2,570.9 123.7,571.8 124.2,572.7 124.7,573.7 125.2,574.6 125.7,575.5 126.2,576.3 126.7,577.2 127.2,578.0 127.7,578.9 128.2,579.7 128.7,580.5 129.2,581.2 129.7,581.9 130.2,582.7 130.7,583.4 131.2,584.1 131.7,584.7 132.2,585.4 132.7,586.1 133.2,586.7 133.7,587.3 134.2,588.0 134.7,588.6 135.2,589.2 135.7,589.8 136.2,590.5 136.7,591.1 137.2,591.7 137.7,592.3 138.2,592.9 138.7,593.5 139.2,594.1 139.7,594.7 140.2,595.3 140.7,595.9 141.2,596.5 141.7,597.1 142.2,597.7 142.7,598.3 143.2,598.9 143.7,599.5 144.2,600.0 144.7,600.6 145.2,601.2 145.7,601.7 146.2,602.3 146.7,602.8 147.2,603.4 147.7,603.9 148.2,604.5 148.7,605.0 149.2,605.6 149.7,606.1 150.2,606.6 150.7,607.1 151.2,607.7 151.7,608.2 152.2,608.7 152.7,609.2 153.2,609.7 153.7,610.2 154.2,610.7 154.7,611.2 155.2,611.6 155.7,612.1 156.2,612.6 156.7,613.1 157.2,613.5 157.7,614.0 158.2,614.5 158.7,614.9 159.2,615.4 159.7,615.8 160.2,616.3 160.7,616.7 161.2,617.1 161.7,617.6 162.2,618.0 162.7,618.4 163.2,618.8 163.7,619.2 164.2,619.7 164.7,620.1 165.2,620.5 165.7,620.9 166.2,621.3 166.7,621.7 167.2,622.0 167.7,622.4 168.2,622.8 168.7,623.2 169.2,623.6 169.7,623.9 170.2,624.3 170.7,624.7 171.2,625.0 171.7,625.4 172.2,625.8 172.7,626.1 173.2,626.5 173.7,626.8 174.2,627.2 174.7,627.5 175.2,627.8 175.7,628.2 176.2,628.5 176.7,628.8 177.2,629.2 177.7,629.5 178.2,629.8 178.7,630.1 179.2,630.4 179.7,630.7 180.2,631.0 180.7,631.4 181.2,631.7 181.7,632.0 182.2,632.3 182.7,632.5 183.2,632.8 183.7,633.1 184.2,633.4 184.7,633.7 185.2,634.0 185.7,634.3 186.2,634.5 186.7,634.8 187.2,635.1 187.7,635.4 188.2,635.6 188.7,635.9 189.2,636.2 189.7,636.4 190.2,636.7 190.7,636.9 191.2,637.2 191.7,637.4 192.2,637.7 192.7,637.9 193.2,638.2 193.7,638.4 194.2,638.7 194.7,638.9 195.2,639.1 195.7,639.4 196.2,639.6 196.7,639.8 197.2,640.1 197.7,640.3 198.2,640.5 198.7,640.8 199.2,641.0 199.7,641.2 200.2,641.4 200.7,641.6 201.2,641.9 201.7,642.1 202.2,642.3 202.7,642.5 203.2,642.7 203.7,642.9 204.2,643.1 204.7,643.3 205.2,643.5 205.7,643.7 206.2,643.9 206.7,644.1 207.2,644.3 207.7,644.5 208.2,644.7 208.7,644.9 209.2,645.1 209.7,645.3 210.2,645.5 210.7,645.7 211.2,645.9 211.7,646.1 212.2,646.3 212.7,646.5 213.2,646.6 213.7,646.8 214.2,647.0 214.7,647.2 215.2,647.4 215.7,647.6 216.2,647.7 216.7,647.9 217.2,648.1 217.7,648.3 218.2,648.5 218.7,648.6 219.2,648.8 219.7,649.0 220.2,649.2 220.7,649.3 221.2,649.5 221.7,649.7 222.2,649.8 222.7,650.0 223.2,650.2 223.7,650.3 224.2,650.5 224.7,650.7 225.2,650.8 225.7,651.0 226.2,651.2 226.7,651.3 227.2,651.5 227.7,651.6 228.2,651.8 228.7,652.0 229.2,652.1 229.7,652.3 230.2,652.4 230.7,652.6 231.2,652.8 231.7,652.9 232.2,653.1 232.7,653.2 233.2,653.4 233.7,653.5 234.2,653.7 234.7,653.8 235.2,654.0 235.7,654.1 236.2,654.3 236.7,654.4 237.2,654.6 237.7,654.7 238.2,654.9 238.7,655.0 239.2,655.2 239.7,655.3 240.2,655.4 240.7,655.6 241.2,655.7 241.7,655.9 242.2,656.0 242.7,656.2 243.2,656.3 243.7,656.4 244.2,656.6 244.7,656.7 245.2,656.9 245.7,657.0 246.2,657.1 246.7,657.3 247.2,657.4 247.7,657.5 248.2,657.7 248.7,657.8 249.2,658.0 249.7,658.1 250.2,658.2 250.7,658.4 251.2,658.5 251.7,658.6 252.2,658.8 252.7,658.9 253.2,659.0 253.7,659.2 254.2,659.3 254.7,659.4 255.2,659.6 255.7,659.7 256.2,659.8 256.7,660.0 257.2,660.1 257.7,660.2 258.2,660.3 258.7,660.5 259.2,660.6 259.7,660.7 260.2,660.9 260.7,661.0 261.2,661.1 261.7,661.3 262.2,661.4 262.7,661.5 263.2,661.6 263.7,661.8 264.2,661.9 264.7,662.0 265.2,662.2 265.7,662.3 266.2,662.4 266.7,662.5 267.2,662.7 267.7,662.8 268.2,662.9 268.7,663.0 269.2,663.2" fill="none" stroke="#2233a0" stroke-width="1.80" stroke-dasharray="5.8 1.5 2.4 1.5" stroke-linejoin="round"/>
</g>
<rect x="42.60" y="494.20" width="226.60" height="184.80" fill="none" stroke="#9a9a9a" stroke-width="1.1"/>
<path d="M42.60,679.00v-2.40M42.60,494.20v2.40" stroke="#9a9a9a" stroke-width="1"/>
<path d="M99.25,679.00v-2.40M99.25,494.20v2.40" stroke="#9a9a9a" stroke-width="1"/>
<path d="M155.90,679.00v-2.40M155.90,494.20v2.40" stroke="#9a9a9a" stroke-width="1"/>
<path d="M212.55,679.00v-2.40M212.55,494.20v2.40" stroke="#9a9a9a" stroke-width="1"/>
<path d="M269.20,679.00v-2.40M269.20,494.20v2.40" stroke="#9a9a9a" stroke-width="1"/>
<path d="M42.60,679.00h2.40M269.20,679.00h-2.40" stroke="#9a9a9a" stroke-width="1"/>
<path d="M42.60,648.20h2.40M269.20,648.20h-2.40" stroke="#9a9a9a" stroke-width="1"/>
<path d="M42.60,617.40h2.40M269.20,617.40h-2.40" stroke="#9a9a9a" stroke-width="1"/>
<path d="M42.60,586.60h2.40M269.20,586.60h-2.40" stroke="#9a9a9a" stroke-width="1"/>
<path d="M42.60,555.80h2.40M269.20,555.80h-2.40" stroke="#9a9a9a" stroke-width="1"/>
<path d="M42.60,525.00h2.40M269.20,525.00h-2.40" stroke="#9a9a9a" stroke-width="1"/>
<path d="M42.60,494.20h2.40M269.20,494.20h-2.40" stroke="#9a9a9a" stroke-width="1"/>
<text transform="translate(99.25,698.60) scale(1.060,1)" font-size="14.00" text-anchor="middle" font-family="Liberation Sans" fill="#262626" stroke="#262626" stroke-width="0.20" >1</text>
<text transform="translate(155.90,698.60) scale(1.060,1)" font-size="14.00" text-anchor="middle" font-family="Liberation Sans" fill="#262626" stroke="#262626" stroke-width="0.20" >2</text>
<text transform="translate(212.55,698.60) scale(1.060,1)" font-size="14.00" text-anchor="middle" font-family="Liberation Sans" fill="#262626" stroke="#262626" stroke-width="0.20" >3</text>
<text transform="translate(269.20,698.60) scale(1.060,1)" font-size="14.00" text-anchor="middle" font-family="Liberation Sans" fill="#262626" stroke="#262626" stroke-width="0.20" >4</text>
<text transform="translate(37.00,684.40) scale(1.060,1)" font-size="14.00" text-anchor="end" font-family="Liberation Sans" fill="#262626" stroke="#262626" stroke-width="0.20" >1</text>
<text transform="translate(37.00,653.60) scale(1.060,1)" font-size="14.00" text-anchor="end" font-family="Liberation Sans" fill="#262626" stroke="#262626" stroke-width="0.20" >2</text>
<text transform="translate(37.00,622.80) scale(1.060,1)" font-size="14.00" text-anchor="end" font-family="Liberation Sans" fill="#262626" stroke="#262626" stroke-width="0.20" >3</text>
<text transform="translate(37.00,592.00) scale(1.060,1)" font-size="14.00" text-anchor="end" font-family="Liberation Sans" fill="#262626" stroke="#262626" stroke-width="0.20" >4</text>
<text transform="translate(37.00,561.20) scale(1.060,1)" font-size="14.00" text-anchor="end" font-family="Liberation Sans" fill="#262626" stroke="#262626" stroke-width="0.20" >5</text>
<text transform="translate(37.00,530.40) scale(1.060,1)" font-size="14.00" text-anchor="end" font-family="Liberation Sans" fill="#262626" stroke="#262626" stroke-width="0.20" >6</text>
<text transform="translate(37.00,499.60) scale(1.060,1)" font-size="14.00" text-anchor="end" font-family="Liberation Sans" fill="#262626" stroke="#262626" stroke-width="0.20" >7</text>
<text transform="translate(155.90,716.50) scale(1.060,1)" font-size="13.00" text-anchor="middle" font-family="Liberation Sans" fill="#262626" stroke="#262626" stroke-width="0.20" ><tspan font-style="italic">z</tspan>(m)</text>
<text transform="translate(23.80,585.80) rotate(-90) scale(1.170,1)" font-size="12.6" text-anchor="middle" font-family="Liberation Sans" fill="#262626" stroke="#262626" stroke-width="0.20"><tspan font-style="italic">I</tspan>(z,0)</text>
<text transform="translate(23.90,716.10) scale(1.100,1)" font-size="14.50" text-anchor="start" font-family="Liberation Serif" fill="#262626" stroke="#262626" stroke-width="0.20" >(c1)</text>
<path d="M184.00,511.40H205.80" stroke="#141414" stroke-width="1.70"/>
<text transform="translate(209.10,514.40) scale(1.040,1)" font-size="12.00" text-anchor="start" font-family="Liberation Sans" fill="#262626" stroke="#262626" stroke-width="0.20" ><tspan font-style="italic">T</tspan><tspan dy="6.30" font-size="9.00">c</tspan><tspan dy="-6.30">=0.5ps</tspan></text>
<path d="M184.00,533.60H205.80" stroke="#ff1a1a" stroke-width="2.00" stroke-dasharray="6.2 4.8"/>
<text transform="translate(209.10,536.60) scale(1.040,1)" font-size="12.00" text-anchor="start" font-family="Liberation Sans" fill="#262626" stroke="#262626" stroke-width="0.20" ><tspan font-style="italic">T</tspan><tspan dy="6.30" font-size="9.00">c</tspan><tspan dy="-6.30">=0.7ps</tspan></text>
<path d="M184.00,555.30H205.80" stroke="#2233a0" stroke-width="1.80" stroke-dasharray="5.8 1.5 2.4 1.5"/>
<text transform="translate(209.10,558.30) scale(1.040,1)" font-size="12.00" text-anchor="start" font-family="Liberation Sans" fill="#262626" stroke="#262626" stroke-width="0.20" ><tspan font-style="italic">T</tspan><tspan dy="6.30" font-size="9.00">c</tspan><tspan dy="-6.30">=0.9ps</tspan></text>
<clipPath id="clip_c2"><rect x="319.40" y="493.00" width="225.80" height="184.50"/></clipPath>
<g clip-path="url(#clip_c2)">
<path d="M319.4,664.3 319.9,664.3 320.4,664.2 320.9,664.2 321.4,664.2 321.9,664.2 322.4,664.2 322.9,664.1 323.4,664.1 323.9,664.1 324.4,664.0 324.9,664.0 325.4,663.9 325.9,663.9 326.4,663.8 326.9,663.7 327.4,663.7 327.9,663.6 328.4,663.5 328.9,663.4 329.4,663.3 329.9,663.2 330.4,663.1 330.9,663.0 331.4,662.9 331.9,662.8 332.4,662.7 332.9,662.6 333.4,662.5 333.9,662.4 334.4,662.3 334.9,662.2 335.4,662.0 335.9,661.9 336.4,661.8 336.9,661.7 337.4,661.5 337.9,661.4 338.4,661.2 338.9,661.1 339.4,661.0 339.9,660.8 340.4,660.7 340.9,660.5 341.4,660.4 341.9,660.2 342.4,660.1 342.9,659.9 343.4,659.8 343.9,659.6 344.4,659.5 344.9,659.3 345.4,659.2 345.9,659.0 346.4,658.8 346.9,658.7 347.4,658.5 347.9,658.4 348.4,658.2 348.9,658.0 349.4,657.9 349.9,657.7 350.4,657.6 350.9,657.4 351.4,657.2 351.9,657.1 352.4,656.9 352.9,656.8 353.4,656.6 353.9,656.5 354.4,656.3 354.9,656.2 355.4,656.1 355.9,655.9 356.4,655.8 356.9,655.7 357.4,655.6 357.9,655.5 358.4,655.4 358.9,655.3 359.4,655.2 359.9,655.1 360.4,655.0 360.9,655.0 361.4,654.9 361.9,654.9 362.4,654.8 362.9,654.8 363.4,654.8 363.9,654.8 364.4,654.8 364.9,654.8 365.4,654.8 365.9,654.9 366.4,654.9 366.9,654.9 367.4,655.0 367.9,655.0 368.4,655.1 368.9,655.1 369.4,655.2 369.9,655.2 370.4,655.3 370.9,655.3 371.4,655.4 371.9,655.4 372.4,655.5 372.9,655.5 373.4,655.5 373.9,655.5 374.4,655.5 374.9,655.5 375.4,655.5 375.9,655.4 376.4,655.4 376.9,655.3 377.4,655.2 377.9,655.1 378.4,655.0 378.9,654.9 379.4,654.7 379.9,654.5 380.4,654.3 380.9,654.1 381.4,653.9 381.9,653.6 382.4,653.3 382.9,653.0 383.4,652.7 383.9,652.3 384.4,651.9 384.9,651.5 385.4,651.1 385.9,650.6 386.4,650.1 386.9,649.6 387.4,649.1 387.9,648.5 388.4,647.9 388.9,647.2 389.4,646.6 389.9,645.9 390.4,645.1 390.9,644.4 391.4,643.6 391.9,642.7 392.4,641.9 392.9,641.0 393.4,640.0 393.9,639.1 394.4,638.1 394.9,637.1 395.4,636.0 395.9,635.0 396.4,633.9 396.9,632.8 397.4,631.7 397.9,630.5 398.4,629.4 398.9,628.2 399.4,627.0 399.9,625.8 400.4,624.6 400.9,623.4 401.4,622.2 401.9,621.0 402.4,619.7 402.9,618.5 403.4,617.3 403.9,616.0 404.4,614.8 404.9,613.6 405.4,612.4 405.9,611.1 406.4,609.9 406.9,608.7 407.4,607.5 407.9,606.2 408.4,605.0 408.9,603.7 409.4,602.4 409.9,601.1 410.4,599.8 410.9,598.5 411.4,597.2 411.9,595.8 412.4,594.5 412.9,593.1 413.4,591.8 413.9,590.4 414.4,589.1 414.9,587.8 415.4,586.5 415.9,585.2 416.4,584.0 416.9,582.8 417.4,581.6 417.9,580.5 418.4,579.4 418.9,578.4 419.4,577.4 419.9,576.6 420.4,575.7 420.9,574.9 421.4,574.2 421.9,573.6 422.4,573.0 422.9,572.4 423.4,571.9 423.9,571.5 424.4,571.1 424.9,570.8 425.4,570.5 425.9,570.3 426.4,570.1 426.9,570.0 427.4,569.9 427.9,569.9 428.4,570.0 428.9,570.1 429.4,570.2 429.9,570.4 430.4,570.6 430.9,570.9 431.4,571.3 431.9,571.6 432.4,572.1 432.9,572.6 433.4,573.1 433.9,573.6 434.4,574.2 434.9,574.9 435.4,575.6 435.9,576.3 436.4,577.1 436.9,577.9 437.4,578.7 437.9,579.5 438.4,580.4 438.9,581.3 439.4,582.3 439.9,583.3 440.4,584.3 440.9,585.3 441.4,586.3 441.9,587.4 442.4,588.5 442.9,589.6 443.4,590.7 443.9,591.8 444.4,593.0 444.9,594.1 445.4,595.3 445.9,596.5 446.4,597.6 446.9,598.8 447.4,600.0 447.9,601.3 448.4,602.5 448.9,603.7 449.4,604.9 449.9,606.2 450.4,607.4 450.9,608.7 451.4,609.9 451.9,611.2 452.4,612.5 452.9,613.7 453.4,615.0 453.9,616.3 454.4,617.6 454.9,618.9 455.4,620.2 455.9,621.5 456.4,622.8 456.9,624.2 457.4,625.5 457.9,626.8 458.4,628.1 458.9,629.5 459.4,630.8 459.9,632.2 460.4,633.5 460.9,634.9 461.4,636.2 461.9,637.5 462.4,638.9 462.9,640.2 463.4,641.4 463.9,642.7 464.4,643.9 464.9,645.0 465.4,646.1 465.9,647.2 466.4,648.2 466.9,649.2 467.4,650.1 467.9,650.9 468.4,651.7 468.9,652.4 469.4,653.0 469.9,653.6 470.4,654.2 470.9,654.7 471.4,655.2 471.9,655.7 472.4,656.1 472.9,656.5 473.4,656.9 473.9,657.2 474.4,657.5 474.9,657.8 475.4,658.1 475.9,658.4 476.4,658.6 476.9,658.8 477.4,659.0 477.9,659.2 478.4,659.4 478.9,659.5 479.4,659.7 479.9,659.8 480.4,659.9 480.9,660.0 481.4,660.1 481.9,660.2 482.4,660.3 482.9,660.4 483.4,660.5 483.9,660.5 484.4,660.6 484.9,660.7 485.4,660.7 485.9,660.8 486.4,660.9 486.9,660.9 487.4,661.0 487.9,661.1 488.4,661.2 488.9,661.2 489.4,661.3 489.9,661.4 490.4,661.5 490.9,661.5 491.4,661.6 491.9,661.7 492.4,661.8 492.9,661.8 493.4,661.9 493.9,662.0 494.4,662.1 494.9,662.2 495.4,662.3 495.9,662.3 496.4,662.4 496.9,662.5 497.4,662.6 497.9,662.7 498.4,662.8 498.9,662.9 499.4,663.0 499.9,663.1 500.4,663.1 500.9,663.2 501.4,663.3 501.9,663.4 502.4,663.5 502.9,663.6 503.4,663.7 503.9,663.8 504.4,663.9 504.9,664.0 505.4,664.1 505.9,664.2 506.4,664.3 506.9,664.4 507.4,664.5 507.9,664.6 508.4,664.7 508.9,664.7 509.4,664.8 509.9,664.9 510.4,665.0 510.9,665.1 511.4,665.2 511.9,665.3 512.4,665.4 512.9,665.5 513.4,665.6 513.9,665.7 514.4,665.8 514.9,665.9 515.4,666.0 515.9,666.1 516.4,666.2 516.9,666.3 517.4,666.4 517.9,666.4 518.4,666.5 518.9,666.6 519.4,666.7 519.9,666.8 520.4,666.9 520.9,667.0 521.4,667.1 521.9,667.2 522.4,667.3 522.9,667.3 523.4,667.4 523.9,667.5 524.4,667.6 524.9,667.7 525.4,667.8 525.9,667.9 526.4,667.9 526.9,668.0 527.4,668.1 527.9,668.2 528.4,668.2 528.9,668.3 529.4,668.4 529.9,668.5 530.4,668.6 530.9,668.6 531.4,668.7 531.9,668.8 532.4,668.8 532.9,668.9 533.4,669.0 533.9,669.0 534.4,669.1 534.9,669.2 535.4,669.2 535.9,669.3 536.4,669.3 536.9,669.4 537.4,669.5 537.9,669.5 538.4,669.6 538.9,669.6 539.4,669.7 539.9,669.7 540.4,669.8 540.9,669.8 541.4,669.9 541.9,669.9 542.4,669.9 542.9,670.0 543.4,670.0 543.9,670.0 544.4,670.1 544.9,670.1 545.2,670.1" fill="none" stroke="#141414" stroke-width="1.70" stroke-linejoin="round"/>
<path d="M319.4,661.1 319.9,661.0 320.4,660.8 320.9,660.7 321.4,660.6 321.9,660.4 322.4,660.3 322.9,660.2 323.4,660.0 323.9,659.9 324.4,659.8 324.9,659.7 325.4,659.5 325.9,659.4 326.4,659.3 326.9,659.2 327.4,659.1 327.9,658.9 328.4,658.8 328.9,658.7 329.4,658.6 329.9,658.5 330.4,658.4 330.9,658.3 331.4,658.2 331.9,658.1 332.4,657.9 332.9,657.8 333.4,657.7 333.9,657.6 334.4,657.5 334.9,657.4 335.4,657.3 335.9,657.2 336.4,657.1 336.9,656.9 337.4,656.8 337.9,656.7 338.4,656.6 338.9,656.5 339.4,656.4 339.9,656.2 340.4,656.1 340.9,656.0 341.4,655.9 341.9,655.8 342.4,655.6 342.9,655.5 343.4,655.4 343.9,655.2 344.4,655.1 344.9,655.0 345.4,654.8 345.9,654.7 346.4,654.5 346.9,654.4 347.4,654.2 347.9,654.1 348.4,653.9 348.9,653.8 349.4,653.6 349.9,653.4 350.4,653.3 350.9,653.1 351.4,652.9 351.9,652.7 352.4,652.6 352.9,652.4 353.4,652.2 353.9,652.0 354.4,651.8 354.9,651.5 355.4,651.3 355.9,651.1 356.4,650.9 356.9,650.6 357.4,650.4 357.9,650.1 358.4,649.8 358.9,649.6 359.4,649.3 359.9,649.0 360.4,648.7 360.9,648.4 361.4,648.0 361.9,647.7 362.4,647.3 362.9,647.0 363.4,646.6 363.9,646.2 364.4,645.8 364.9,645.4 365.4,645.0 365.9,644.6 366.4,644.2 366.9,643.7 367.4,643.3 367.9,642.9 368.4,642.4 368.9,642.0 369.4,641.6 369.9,641.1 370.4,640.7 370.9,640.3 371.4,639.9 371.9,639.5 372.4,639.1 372.9,638.7 373.4,638.3 373.9,638.0 374.4,637.6 374.9,637.3 375.4,637.0 375.9,636.7 376.4,636.4 376.9,636.1 377.4,635.9 377.9,635.7 378.4,635.5 378.9,635.4 379.4,635.2 379.9,635.1 380.4,635.0 380.9,634.9 381.4,634.8 381.9,634.8 382.4,634.7 382.9,634.7 383.4,634.7 383.9,634.7 384.4,634.7 384.9,634.7 385.4,634.7 385.9,634.7 386.4,634.7 386.9,634.7 387.4,634.7 387.9,634.7 388.4,634.7 388.9,634.7 389.4,634.7 389.9,634.6 390.4,634.6 390.9,634.6 391.4,634.5 391.9,634.4 392.4,634.4 392.9,634.2 393.4,634.1 393.9,634.0 394.4,633.8 394.9,633.6 395.4,633.3 395.9,633.1 396.4,632.7 396.9,632.4 397.4,632.0 397.9,631.5 398.4,631.0 398.9,630.4 399.4,629.8 399.9,629.1 400.4,628.3 400.9,627.5 401.4,626.6 401.9,625.7 402.4,624.6 402.9,623.5 403.4,622.3 403.9,621.0 404.4,619.6 404.9,618.1 405.4,616.6 405.9,614.9 406.4,613.1 406.9,611.3 407.4,609.3 407.9,607.3 408.4,605.2 408.9,603.1 409.4,600.9 409.9,598.6 410.4,596.4 410.9,594.1 411.4,591.7 411.9,589.4 412.4,587.0 412.9,584.7 413.4,582.3 413.9,580.0 414.4,577.6 414.9,575.4 415.4,573.1 415.9,570.9 416.4,568.7 416.9,566.6 417.4,564.6 417.9,562.6 418.4,560.8 418.9,559.0 419.4,557.3 419.9,555.7 420.4,554.1 420.9,552.7 421.4,551.4 421.9,550.2 422.4,549.0 422.9,548.0 423.4,547.0 423.9,546.1 424.4,545.3 424.9,544.6 425.4,544.0 425.9,543.5 426.4,543.1 426.9,542.8 427.4,542.5 427.9,542.4 428.4,542.3 428.9,542.3 429.4,542.5 429.9,542.7 430.4,543.0 430.9,543.3 431.4,543.8 431.9,544.3 432.4,545.0 432.9,545.7 433.4,546.5 433.9,547.4 434.4,548.4 434.9,549.4 435.4,550.5 435.9,551.7 436.4,552.9 436.9,554.2 437.4,555.6 437.9,557.0 438.4,558.5 438.9,560.1 439.4,561.7 439.9,563.3 440.4,565.0 440.9,566.7 441.4,568.5 441.9,570.3 442.4,572.2 442.9,574.1 443.4,576.0 443.9,578.0 444.4,580.0 444.9,582.0 445.4,584.0 445.9,586.0 446.4,588.1 446.9,590.2 447.4,592.3 447.9,594.4 448.4,596.5 448.9,598.5 449.4,600.6 449.9,602.6 450.4,604.6 450.9,606.6 451.4,608.5 451.9,610.4 452.4,612.2 452.9,613.9 453.4,615.6 453.9,617.3 454.4,618.8 454.9,620.3 455.4,621.8 455.9,623.1 456.4,624.4 456.9,625.7 457.4,626.8 457.9,627.9 458.4,629.0 458.9,629.9 459.4,630.8 459.9,631.7 460.4,632.5 460.9,633.3 461.4,634.2 461.9,635.1 462.4,636.0 462.9,637.0 463.4,638.1 463.9,639.1 464.4,640.2 464.9,641.3 465.4,642.4 465.9,643.5 466.4,644.5 466.9,645.5 467.4,646.5 467.9,647.4 468.4,648.2 468.9,649.1 469.4,649.9 469.9,650.7 470.4,651.4 470.9,652.1 471.4,652.8 471.9,653.4 472.4,654.1 472.9,654.7 473.4,655.2 473.9,655.8 474.4,656.3 474.9,656.8 475.4,657.3 475.9,657.8 476.4,658.2 476.9,658.6 477.4,659.0 477.9,659.4 478.4,659.8 478.9,660.1 479.4,660.4 479.9,660.8 480.4,661.1 480.9,661.4 481.4,661.6 481.9,661.9 482.4,662.2 482.9,662.4 483.4,662.7 483.9,662.9 484.4,663.1 484.9,663.4 485.4,663.6 485.9,663.8 486.4,664.0 486.9,664.2 487.4,664.4 487.9,664.6 488.4,664.8 488.9,665.0 489.4,665.2 489.9,665.4 490.4,665.6 490.9,665.8 491.4,666.0 491.9,666.2 492.4,666.4 492.9,666.5 493.4,666.7 493.9,666.9 494.4,667.1 494.9,667.2 495.4,667.4 495.9,667.6 496.4,667.7 496.9,667.9 497.4,668.1 497.9,668.2 498.4,668.4 498.9,668.5 499.4,668.7 499.9,668.8 500.4,669.0 500.9,669.1 501.4,669.3 501.9,669.4 502.4,669.5 502.9,669.7 503.4,669.8 503.9,669.9 504.4,670.1 504.9,670.2 505.4,670.3 505.9,670.4 506.4,670.6 506.9,670.7 507.4,670.8 507.9,670.9 508.4,671.0 508.9,671.1 509.4,671.2 509.9,671.3 510.4,671.4 510.9,671.5 511.4,671.6 511.9,671.7 512.4,671.8 512.9,671.9 513.4,672.0 513.9,672.1 514.4,672.2 514.9,672.3 515.4,672.4 515.9,672.5 516.4,672.6 516.9,672.6 517.4,672.7 517.9,672.8 518.4,672.9 518.9,672.9 519.4,673.0 519.9,673.1 520.4,673.2 520.9,673.2 521.4,673.3 521.9,673.4 522.4,673.4 522.9,673.5 523.4,673.5 523.9,673.6 524.4,673.7 524.9,673.7 525.4,673.8 525.9,673.8 526.4,673.9 526.9,673.9 527.4,674.0 527.9,674.0 528.4,674.1 528.9,674.1 529.4,674.2 529.9,674.2 530.4,674.3 530.9,674.3 531.4,674.3 531.9,674.4 532.4,674.4 532.9,674.4 533.4,674.5 533.9,674.5 534.4,674.5 534.9,674.6 535.4,674.6 535.9,674.6 536.4,674.7 536.9,674.7 537.4,674.7 537.9,674.7 538.4,674.8 538.9,674.8 539.4,674.8 539.9,674.8 540.4,674.8 540.9,674.9 541.4,674.9 541.9,674.9 542.4,674.9 542.9,674.9 543.4,674.9 543.9,675.0 544.4,675.0 544.9,675.0 545.2,675.0" fill="none" stroke="#ff1a1a" stroke-width="2.00" stroke-dasharray="6.2 4.8" stroke-linejoin="round"/>
<path d="M319.4,658.4 319.9,658.4 320.4,658.3 320.9,658.3 321.4,658.2 321.9,658.2 322.4,658.1 322.9,658.1 323.4,658.0 323.9,657.9 324.4,657.8 324.9,657.7 325.4,657.6 325.9,657.5 326.4,657.4 326.9,657.3 327.4,657.1 327.9,657.0 328.4,656.9 328.9,656.7 329.4,656.6 329.9,656.4 330.4,656.3 330.9,656.1 331.4,655.9 331.9,655.7 332.4,655.6 332.9,655.4 333.4,655.2 333.9,655.0 334.4,654.8 334.9,654.6 335.4,654.4 335.9,654.2 336.4,654.0 336.9,653.8 337.4,653.6 337.9,653.4 338.4,653.2 338.9,653.0 339.4,652.8 339.9,652.5 340.4,652.3 340.9,652.1 341.4,651.9 341.9,651.7 342.4,651.4 342.9,651.2 343.4,651.0 343.9,650.8 344.4,650.5 344.9,650.3 345.4,650.1 345.9,649.9 346.4,649.7 346.9,649.4 347.4,649.2 347.9,649.0 348.4,648.8 348.9,648.6 349.4,648.4 349.9,648.1 350.4,647.9 350.9,647.7 351.4,647.5 351.9,647.4 352.4,647.2 352.9,647.0 353.4,646.8 353.9,646.6 354.4,646.5 354.9,646.3 355.4,646.2 355.9,646.0 356.4,645.9 356.9,645.8 357.4,645.7 357.9,645.6 358.4,645.5 358.9,645.4 359.4,645.3 359.9,645.2 360.4,645.1 360.9,645.1 361.4,645.0 361.9,644.9 362.4,644.9 362.9,644.8 363.4,644.7 363.9,644.6 364.4,644.5 364.9,644.4 365.4,644.3 365.9,644.2 366.4,644.1 366.9,643.9 367.4,643.7 367.9,643.5 368.4,643.2 368.9,643.0 369.4,642.6 369.9,642.3 370.4,641.9 370.9,641.4 371.4,640.9 371.9,640.4 372.4,639.8 372.9,639.2 373.4,638.6 373.9,638.0 374.4,637.3 374.9,636.6 375.4,635.9 375.9,635.2 376.4,634.4 376.9,633.7 377.4,633.0 377.9,632.3 378.4,631.6 378.9,630.9 379.4,630.2 379.9,629.6 380.4,628.9 380.9,628.3 381.4,627.7 381.9,627.2 382.4,626.6 382.9,626.1 383.4,625.7 383.9,625.3 384.4,624.9 384.9,624.6 385.4,624.3 385.9,624.1 386.4,623.9 386.9,623.7 387.4,623.6 387.9,623.6 388.4,623.5 388.9,623.6 389.4,623.6 389.9,623.8 390.4,623.9 390.9,624.1 391.4,624.3 391.9,624.6 392.4,624.9 392.9,625.3 393.4,625.7 393.9,626.1 394.4,626.5 394.9,626.9 395.4,627.4 395.9,627.9 396.4,628.3 396.9,628.8 397.4,629.3 397.9,629.8 398.4,630.3 398.9,630.7 399.4,631.1 399.9,631.5 400.4,631.8 400.9,632.0 401.4,632.1 401.9,632.1 402.4,632.0 402.9,631.7 403.4,631.3 403.9,630.7 404.4,630.0 404.9,629.1 405.4,628.0 405.9,626.8 406.4,625.4 406.9,623.9 407.4,622.2 407.9,620.4 408.4,618.5 408.9,616.5 409.4,614.4 409.9,612.2 410.4,609.8 410.9,607.4 411.4,604.9 411.9,602.4 412.4,599.8 412.9,597.1 413.4,594.3 413.9,591.5 414.4,588.7 414.9,585.8 415.4,582.9 415.9,580.0 416.4,577.1 416.9,574.1 417.4,571.2 417.9,568.3 418.4,565.3 418.9,562.4 419.4,559.5 419.9,556.6 420.4,553.7 420.9,550.9 421.4,548.1 421.9,545.3 422.4,542.6 422.9,540.0 423.4,537.5 423.9,535.1 424.4,532.9 424.9,530.8 425.4,529.0 425.9,527.3 426.4,525.8 426.9,524.4 427.4,523.2 427.9,522.2 428.4,521.3 428.9,520.5 429.4,519.8 429.9,519.2 430.4,518.7 430.9,518.3 431.4,518.0 431.9,517.7 432.4,517.6 432.9,517.5 433.4,517.5 433.9,517.5 434.4,517.7 434.9,517.9 435.4,518.2 435.9,518.6 436.4,519.1 436.9,519.7 437.4,520.4 437.9,521.2 438.4,522.1 438.9,523.2 439.4,524.4 439.9,525.8 440.4,527.3 440.9,529.1 441.4,531.0 441.9,533.1 442.4,535.4 442.9,537.9 443.4,540.4 443.9,543.1 444.4,545.8 444.9,548.6 445.4,551.4 445.9,554.2 446.4,557.1 446.9,559.9 447.4,562.8 447.9,565.7 448.4,568.6 448.9,571.5 449.4,574.4 449.9,577.3 450.4,580.1 450.9,583.0 451.4,585.9 451.9,588.7 452.4,591.5 452.9,594.3 453.4,597.0 453.9,599.7 454.4,602.3 454.9,605.0 455.4,607.5 455.9,610.0 456.4,612.5 456.9,614.9 457.4,617.2 457.9,619.5 458.4,621.7 458.9,623.8 459.4,625.9 459.9,627.8 460.4,629.8 460.9,631.6 461.4,633.4 461.9,635.1 462.4,636.8 462.9,638.4 463.4,639.9 463.9,641.4 464.4,642.8 464.9,644.2 465.4,645.5 465.9,646.8 466.4,648.0 466.9,649.2 467.4,650.3 467.9,651.4 468.4,652.4 468.9,653.4 469.4,654.3 469.9,655.2 470.4,656.1 470.9,656.9 471.4,657.7 471.9,658.4 472.4,659.1 472.9,659.8 473.4,660.4 473.9,661.0 474.4,661.6 474.9,662.2 475.4,662.7 475.9,663.2 476.4,663.7 476.9,664.2 477.4,664.6 477.9,665.0 478.4,665.5 478.9,665.9 479.4,666.3 479.9,666.6 480.4,667.0 480.9,667.4 481.4,667.7 481.9,668.1 482.4,668.4 482.9,668.7 483.4,669.0 483.9,669.3 484.4,669.6 484.9,669.9 485.4,670.2 485.9,670.5 486.4,670.7 486.9,671.0 487.4,671.2 487.9,671.5 488.4,671.7 488.9,671.9 489.4,672.1 489.9,672.3 490.4,672.5 490.9,672.7 491.4,672.9 491.9,673.1 492.4,673.2 492.9,673.4 493.4,673.6 493.9,673.7 494.4,673.9 494.9,674.0 495.4,674.1 495.9,674.3 496.4,674.4 496.9,674.5 497.4,674.6 497.9,674.7 498.4,674.8 498.9,674.9 499.4,675.0 499.9,675.1 500.4,675.2 500.9,675.3 501.4,675.3 501.9,675.4 502.4,675.5 502.9,675.5 503.4,675.6 503.9,675.7 504.4,675.7 504.9,675.8 505.4,675.8 505.9,675.9 506.4,675.9 506.9,676.0 507.4,676.0 507.9,676.0 508.4,676.1 508.9,676.1 509.4,676.2 509.9,676.2 510.4,676.2 510.9,676.3 511.4,676.3 511.9,676.3 512.4,676.3 512.9,676.4 513.4,676.4 513.9,676.4 514.4,676.5 514.9,676.5 515.4,676.5 515.9,676.6 516.4,676.6 516.9,676.6 517.4,676.7 517.9,676.7 518.4,676.7 518.9,676.8 519.4,676.8 519.9,676.8 520.4,676.9 520.9,676.9 521.4,676.9 521.9,677.0 522.4,677.0 522.9,677.0 523.4,677.1 523.9,677.1 524.4,677.1 524.9,677.1 525.4,677.2 525.9,677.2 526.4,677.2 526.9,677.3 527.4,677.3 527.9,677.3 528.4,677.3 528.9,677.3 529.4,677.4 529.9,677.4 530.4,677.4 530.9,677.4 531.4,677.4 531.9,677.4 532.4,677.5 532.9,677.5 533.4,677.5 533.9,677.5 534.4,677.5 534.9,677.5 535.4,677.5 535.9,677.5 536.4,677.5 536.9,677.5 537.4,677.5 537.9,677.5 538.4,677.4 538.9,677.4 539.4,677.4 539.9,677.4 540.4,677.4 540.9,677.3 541.4,677.3 541.9,677.3 542.4,677.2 542.9,677.2 543.4,677.2 543.9,677.1 544.4,677.1 544.9,677.0 545.2,677.0" fill="none" stroke="#2233a0" stroke-width="1.80" stroke-dasharray="5.8 1.5 2.4 1.5" stroke-linejoin="round"/>
</g>
<rect x="319.40" y="494.00" width="225.80" height="183.50" fill="none" stroke="#9a9a9a" stroke-width="1.1"/>
<path d="M319.40,677.50v-2.40M319.40,494.00v2.40" stroke="#9a9a9a" stroke-width="1"/>
<path d="M375.85,677.50v-2.40M375.85,494.00v2.40" stroke="#9a9a9a" stroke-width="1"/>
<path d="M432.30,677.50v-2.40M432.30,494.00v2.40" stroke="#9a9a9a" stroke-width="1"/>
<path d="M488.75,677.50v-2.40M488.75,494.00v2.40" stroke="#9a9a9a" stroke-width="1"/>
<path d="M545.20,677.50v-2.40M545.20,494.00v2.40" stroke="#9a9a9a" stroke-width="1"/>
<path d="M319.40,677.50h2.40M545.20,677.50h-2.40" stroke="#9a9a9a" stroke-width="1"/>
<path d="M319.40,651.29h2.40M545.20,651.29h-2.40" stroke="#9a9a9a" stroke-width="1"/>
<path d="M319.40,625.07h2.40M545.20,625.07h-2.40" stroke="#9a9a9a" stroke-width="1"/>
<path d="M319.40,598.86h2.40M545.20,598.86h-2.40" stroke="#9a9a9a" stroke-width="1"/>
<path d="M319.40,572.64h2.40M545.20,572.64h-2.40" stroke="#9a9a9a" stroke-width="1"/>
<path d="M319.40,546.43h2.40M545.20,546.43h-2.40" stroke="#9a9a9a" stroke-width="1"/>
<path d="M319.40,520.21h2.40M545.20,520.21h-2.40" stroke="#9a9a9a" stroke-width="1"/>
<path d="M319.40,494.00h2.40M545.20,494.00h-2.40" stroke="#9a9a9a" stroke-width="1"/>
<text transform="translate(319.40,697.10) scale(1.060,1)" font-size="14.00" text-anchor="middle" font-family="Liberation Sans" fill="#262626" stroke="#262626" stroke-width="0.20" >-2</text>
<text transform="translate(375.85,697.10) scale(1.060,1)" font-size="14.00" text-anchor="middle" font-family="Liberation Sans" fill="#262626" stroke="#262626" stroke-width="0.20" >-1</text>
<text transform="translate(432.30,697.10) scale(1.060,1)" font-size="14.00" text-anchor="middle" font-family="Liberation Sans" fill="#262626" stroke="#262626" stroke-width="0.20" >0</text>
<text transform="translate(488.75,697.10) scale(1.060,1)" font-size="14.00" text-anchor="middle" font-family="Liberation Sans" fill="#262626" stroke="#262626" stroke-width="0.20" >1</text>
<text transform="translate(545.20,697.10) scale(1.060,1)" font-size="14.00" text-anchor="middle" font-family="Liberation Sans" fill="#262626" stroke="#262626" stroke-width="0.20" >2</text>
<text transform="translate(313.80,682.90) scale(1.060,1)" font-size="14.00" text-anchor="end" font-family="Liberation Sans" fill="#262626" stroke="#262626" stroke-width="0.20" >0</text>
<text transform="translate(313.80,656.69) scale(1.060,1)" font-size="14.00" text-anchor="end" font-family="Liberation Sans" fill="#262626" stroke="#262626" stroke-width="0.20" >1</text>
<text transform="translate(313.80,630.47) scale(1.060,1)" font-size="14.00" text-anchor="end" font-family="Liberation Sans" fill="#262626" stroke="#262626" stroke-width="0.20" >2</text>
<text transform="translate(313.80,604.26) scale(1.060,1)" font-size="14.00" text-anchor="end" font-family="Liberation Sans" fill="#262626" stroke="#262626" stroke-width="0.20" >3</text>
<text transform="translate(313.80,578.04) scale(1.060,1)" font-size="14.00" text-anchor="end" font-family="Liberation Sans" fill="#262626" stroke="#262626" stroke-width="0.20" >4</text>
<text transform="translate(313.80,551.83) scale(1.060,1)" font-size="14.00" text-anchor="end" font-family="Liberation Sans" fill="#262626" stroke="#262626" stroke-width="0.20" >5</text>
<text transform="translate(313.80,525.61) scale(1.060,1)" font-size="14.00" text-anchor="end" font-family="Liberation Sans" fill="#262626" stroke="#262626" stroke-width="0.20" >6</text>
<text transform="translate(313.80,499.40) scale(1.060,1)" font-size="14.00" text-anchor="end" font-family="Liberation Sans" fill="#262626" stroke="#262626" stroke-width="0.20" >7</text>
<text transform="translate(432.30,715.00) scale(1.060,1)" font-size="13.00" text-anchor="middle" font-family="Liberation Sans" fill="#262626" stroke="#262626" stroke-width="0.20" ><tspan font-style="italic">t</tspan>(ps)</text>
<text transform="translate(301.90,584.95) rotate(-90) scale(1.170,1)" font-size="12.6" text-anchor="middle" font-family="Liberation Sans" fill="#262626" stroke="#262626" stroke-width="0.20"><tspan font-style="italic">I</tspan>(<tspan font-style="italic">t</tspan>,z=1m)</text>
<text transform="translate(301.70,717.50) scale(1.100,1)" font-size="14.50" text-anchor="start" font-family="Liberation Serif" fill="#262626" stroke="#262626" stroke-width="0.20" >(c2)</text>
<path d="M460.70,511.10H482.00" stroke="#141414" stroke-width="1.70"/>
<text transform="translate(485.30,514.10) scale(1.030,1)" font-size="12.00" text-anchor="start" font-family="Liberation Sans" fill="#262626" stroke="#262626" stroke-width="0.20" ><tspan font-style="italic">T</tspan><tspan dy="6.30" font-size="9.00">c</tspan><tspan dy="-6.30">=0.5ps</tspan></text>
<path d="M460.70,532.20H482.00" stroke="#ff1a1a" stroke-width="2.00" stroke-dasharray="6.2 4.8"/>
<text transform="translate(485.30,535.20) scale(1.030,1)" font-size="12.00" text-anchor="start" font-family="Liberation Sans" fill="#262626" stroke="#262626" stroke-width="0.20" ><tspan font-style="italic">T</tspan><tspan dy="6.30" font-size="9.00">c</tspan><tspan dy="-6.30">=0.7ps</tspan></text>
<path d="M460.70,553.20H482.00" stroke="#2233a0" stroke-width="1.80" stroke-dasharray="5.8 1.5 2.4 1.5"/>
<text transform="translate(485.30,556.20) scale(1.030,1)" font-size="12.00" text-anchor="start" font-family="Liberation Sans" fill="#262626" stroke="#262626" stroke-width="0.20" ><tspan font-style="italic">T</tspan><tspan dy="6.30" font-size="9.00">c</tspan><tspan dy="-6.30">=0.9ps</tspan></text>
</svg>
</body></html>
